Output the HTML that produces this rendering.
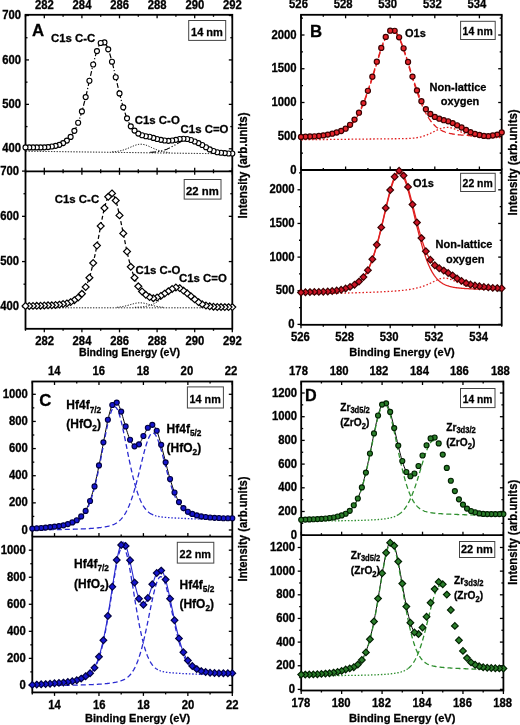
<!DOCTYPE html>
<html><head><meta charset="utf-8"><title>XPS spectra</title>
<style>
html,body{margin:0;padding:0;background:#fff;}
svg{display:block;}
text{font-family:'Liberation Sans', Arial, sans-serif;font-weight:bold;fill:#000;stroke:#000;stroke-width:0.28px;}
</style></head>
<body>
<svg width="520" height="725" viewBox="0 0 520 725">
<rect width="520" height="725" fill="#fff"/>
<rect x="25.5" y="14.8" width="206.8" height="314" fill="none" stroke="#000" stroke-width="1.8"/>
<line x1="25.5" y1="171.3" x2="232.3" y2="171.3" stroke="#000" stroke-width="1.8"/>
<line x1="44.3" y1="14.8" x2="44.3" y2="18.3" stroke="#000" stroke-width="1.3"/>
<line x1="81.9" y1="14.8" x2="81.9" y2="18.3" stroke="#000" stroke-width="1.3"/>
<line x1="119.5" y1="14.8" x2="119.5" y2="18.3" stroke="#000" stroke-width="1.3"/>
<line x1="157.1" y1="14.8" x2="157.1" y2="18.3" stroke="#000" stroke-width="1.3"/>
<line x1="194.7" y1="14.8" x2="194.7" y2="18.3" stroke="#000" stroke-width="1.3"/>
<line x1="232.3" y1="14.8" x2="232.3" y2="18.3" stroke="#000" stroke-width="1.3"/>
<line x1="25.5" y1="14.8" x2="25.5" y2="16.8" stroke="#000" stroke-width="1.3"/>
<line x1="63.1" y1="14.8" x2="63.1" y2="16.8" stroke="#000" stroke-width="1.3"/>
<line x1="100.7" y1="14.8" x2="100.7" y2="16.8" stroke="#000" stroke-width="1.3"/>
<line x1="138.3" y1="14.8" x2="138.3" y2="16.8" stroke="#000" stroke-width="1.3"/>
<line x1="175.9" y1="14.8" x2="175.9" y2="16.8" stroke="#000" stroke-width="1.3"/>
<line x1="213.5" y1="14.8" x2="213.5" y2="16.8" stroke="#000" stroke-width="1.3"/>
<line x1="44.3" y1="171.3" x2="44.3" y2="167.8" stroke="#000" stroke-width="1.3"/>
<line x1="81.9" y1="171.3" x2="81.9" y2="167.8" stroke="#000" stroke-width="1.3"/>
<line x1="119.5" y1="171.3" x2="119.5" y2="167.8" stroke="#000" stroke-width="1.3"/>
<line x1="157.1" y1="171.3" x2="157.1" y2="167.8" stroke="#000" stroke-width="1.3"/>
<line x1="194.7" y1="171.3" x2="194.7" y2="167.8" stroke="#000" stroke-width="1.3"/>
<line x1="232.3" y1="171.3" x2="232.3" y2="167.8" stroke="#000" stroke-width="1.3"/>
<line x1="25.5" y1="171.3" x2="25.5" y2="169.3" stroke="#000" stroke-width="1.3"/>
<line x1="63.1" y1="171.3" x2="63.1" y2="169.3" stroke="#000" stroke-width="1.3"/>
<line x1="100.7" y1="171.3" x2="100.7" y2="169.3" stroke="#000" stroke-width="1.3"/>
<line x1="138.3" y1="171.3" x2="138.3" y2="169.3" stroke="#000" stroke-width="1.3"/>
<line x1="175.9" y1="171.3" x2="175.9" y2="169.3" stroke="#000" stroke-width="1.3"/>
<line x1="213.5" y1="171.3" x2="213.5" y2="169.3" stroke="#000" stroke-width="1.3"/>
<line x1="44.3" y1="171.3" x2="44.3" y2="174.8" stroke="#000" stroke-width="1.3"/>
<line x1="81.9" y1="171.3" x2="81.9" y2="174.8" stroke="#000" stroke-width="1.3"/>
<line x1="119.5" y1="171.3" x2="119.5" y2="174.8" stroke="#000" stroke-width="1.3"/>
<line x1="157.1" y1="171.3" x2="157.1" y2="174.8" stroke="#000" stroke-width="1.3"/>
<line x1="194.7" y1="171.3" x2="194.7" y2="174.8" stroke="#000" stroke-width="1.3"/>
<line x1="232.3" y1="171.3" x2="232.3" y2="174.8" stroke="#000" stroke-width="1.3"/>
<line x1="25.5" y1="171.3" x2="25.5" y2="173.3" stroke="#000" stroke-width="1.3"/>
<line x1="63.1" y1="171.3" x2="63.1" y2="173.3" stroke="#000" stroke-width="1.3"/>
<line x1="100.7" y1="171.3" x2="100.7" y2="173.3" stroke="#000" stroke-width="1.3"/>
<line x1="138.3" y1="171.3" x2="138.3" y2="173.3" stroke="#000" stroke-width="1.3"/>
<line x1="175.9" y1="171.3" x2="175.9" y2="173.3" stroke="#000" stroke-width="1.3"/>
<line x1="213.5" y1="171.3" x2="213.5" y2="173.3" stroke="#000" stroke-width="1.3"/>
<line x1="44.3" y1="328.8" x2="44.3" y2="332.3" stroke="#000" stroke-width="1.3"/>
<line x1="81.9" y1="328.8" x2="81.9" y2="332.3" stroke="#000" stroke-width="1.3"/>
<line x1="119.5" y1="328.8" x2="119.5" y2="332.3" stroke="#000" stroke-width="1.3"/>
<line x1="157.1" y1="328.8" x2="157.1" y2="332.3" stroke="#000" stroke-width="1.3"/>
<line x1="194.7" y1="328.8" x2="194.7" y2="332.3" stroke="#000" stroke-width="1.3"/>
<line x1="232.3" y1="328.8" x2="232.3" y2="332.3" stroke="#000" stroke-width="1.3"/>
<line x1="25.5" y1="328.8" x2="25.5" y2="330.8" stroke="#000" stroke-width="1.3"/>
<line x1="63.1" y1="328.8" x2="63.1" y2="330.8" stroke="#000" stroke-width="1.3"/>
<line x1="100.7" y1="328.8" x2="100.7" y2="330.8" stroke="#000" stroke-width="1.3"/>
<line x1="138.3" y1="328.8" x2="138.3" y2="330.8" stroke="#000" stroke-width="1.3"/>
<line x1="175.9" y1="328.8" x2="175.9" y2="330.8" stroke="#000" stroke-width="1.3"/>
<line x1="213.5" y1="328.8" x2="213.5" y2="330.8" stroke="#000" stroke-width="1.3"/>
<line x1="25.5" y1="15.5" x2="29" y2="15.5" stroke="#000" stroke-width="1.3"/>
<line x1="25.5" y1="59.93" x2="29" y2="59.93" stroke="#000" stroke-width="1.3"/>
<line x1="25.5" y1="104.37" x2="29" y2="104.37" stroke="#000" stroke-width="1.3"/>
<line x1="25.5" y1="148.8" x2="29" y2="148.8" stroke="#000" stroke-width="1.3"/>
<line x1="25.5" y1="37.72" x2="27.5" y2="37.72" stroke="#000" stroke-width="1.3"/>
<line x1="25.5" y1="82.15" x2="27.5" y2="82.15" stroke="#000" stroke-width="1.3"/>
<line x1="25.5" y1="126.58" x2="27.5" y2="126.58" stroke="#000" stroke-width="1.3"/>
<line x1="232.3" y1="15.5" x2="228.8" y2="15.5" stroke="#000" stroke-width="1.3"/>
<line x1="232.3" y1="59.93" x2="228.8" y2="59.93" stroke="#000" stroke-width="1.3"/>
<line x1="232.3" y1="104.37" x2="228.8" y2="104.37" stroke="#000" stroke-width="1.3"/>
<line x1="232.3" y1="148.8" x2="228.8" y2="148.8" stroke="#000" stroke-width="1.3"/>
<line x1="232.3" y1="37.72" x2="230.3" y2="37.72" stroke="#000" stroke-width="1.3"/>
<line x1="232.3" y1="82.15" x2="230.3" y2="82.15" stroke="#000" stroke-width="1.3"/>
<line x1="232.3" y1="126.58" x2="230.3" y2="126.58" stroke="#000" stroke-width="1.3"/>
<text transform="translate(21,19.1) scale(1,1.06)" font-size="11.3" text-anchor="end">700</text>
<text transform="translate(21,63.53) scale(1,1.06)" font-size="11.3" text-anchor="end">600</text>
<text transform="translate(21,107.97) scale(1,1.06)" font-size="11.3" text-anchor="end">500</text>
<text transform="translate(21,152.4) scale(1,1.06)" font-size="11.3" text-anchor="end">400</text>
<line x1="25.5" y1="171.1" x2="22" y2="171.1" stroke="#000" stroke-width="1.3"/>
<line x1="25.5" y1="216.33" x2="22" y2="216.33" stroke="#000" stroke-width="1.3"/>
<line x1="25.5" y1="261.57" x2="22" y2="261.57" stroke="#000" stroke-width="1.3"/>
<line x1="25.5" y1="306.8" x2="22" y2="306.8" stroke="#000" stroke-width="1.3"/>
<line x1="25.5" y1="193.72" x2="23.5" y2="193.72" stroke="#000" stroke-width="1.3"/>
<line x1="25.5" y1="238.95" x2="23.5" y2="238.95" stroke="#000" stroke-width="1.3"/>
<line x1="25.5" y1="284.18" x2="23.5" y2="284.18" stroke="#000" stroke-width="1.3"/>
<line x1="232.3" y1="171.1" x2="228.8" y2="171.1" stroke="#000" stroke-width="1.3"/>
<line x1="232.3" y1="216.33" x2="228.8" y2="216.33" stroke="#000" stroke-width="1.3"/>
<line x1="232.3" y1="261.57" x2="228.8" y2="261.57" stroke="#000" stroke-width="1.3"/>
<line x1="232.3" y1="306.8" x2="228.8" y2="306.8" stroke="#000" stroke-width="1.3"/>
<line x1="232.3" y1="193.72" x2="230.3" y2="193.72" stroke="#000" stroke-width="1.3"/>
<line x1="232.3" y1="238.95" x2="230.3" y2="238.95" stroke="#000" stroke-width="1.3"/>
<line x1="232.3" y1="284.18" x2="230.3" y2="284.18" stroke="#000" stroke-width="1.3"/>
<text transform="translate(19,174.7) scale(1,1.06)" font-size="11.3" text-anchor="end">700</text>
<text transform="translate(19,219.93) scale(1,1.06)" font-size="11.3" text-anchor="end">600</text>
<text transform="translate(19,265.17) scale(1,1.06)" font-size="11.3" text-anchor="end">500</text>
<text transform="translate(19,310.4) scale(1,1.06)" font-size="11.3" text-anchor="end">400</text>
<text transform="translate(44.4,8.7) scale(1,1.06)" font-size="11.3" text-anchor="middle">282</text>
<text transform="translate(82,8.7) scale(1,1.06)" font-size="11.3" text-anchor="middle">284</text>
<text transform="translate(119.6,8.7) scale(1,1.06)" font-size="11.3" text-anchor="middle">286</text>
<text transform="translate(157.2,8.7) scale(1,1.06)" font-size="11.3" text-anchor="middle">288</text>
<text transform="translate(194.8,8.7) scale(1,1.06)" font-size="11.3" text-anchor="middle">290</text>
<text transform="translate(232.3,8.7) scale(1,1.06)" font-size="11.3" text-anchor="middle">292</text>
<text transform="translate(44.6,345.2) scale(1,1.06)" font-size="11.3" text-anchor="middle">282</text>
<text transform="translate(82,345.2) scale(1,1.06)" font-size="11.3" text-anchor="middle">284</text>
<text transform="translate(119.6,345.2) scale(1,1.06)" font-size="11.3" text-anchor="middle">286</text>
<text transform="translate(157.2,345.2) scale(1,1.06)" font-size="11.3" text-anchor="middle">288</text>
<text transform="translate(194.8,345.2) scale(1,1.06)" font-size="11.3" text-anchor="middle">290</text>
<text transform="translate(232.3,345.2) scale(1,1.06)" font-size="11.3" text-anchor="middle">292</text>
<text transform="translate(79,356.3) scale(1,1.06)" font-size="10.6" text-anchor="start" textLength="101" lengthAdjust="spacingAndGlyphs">Binding Energy (eV)</text>
<text transform="translate(247.2,165.5) rotate(-90) scale(1,1.06)" font-size="11.4" text-anchor="middle" textLength="106" lengthAdjust="spacingAndGlyphs">Intensity (arb.units)</text>
<rect x="301" y="14.8" width="200.7" height="310" fill="none" stroke="#000" stroke-width="1.8"/>
<line x1="301" y1="170" x2="501.7" y2="170" stroke="#000" stroke-width="1.8"/>
<line x1="301" y1="14.8" x2="301" y2="18.3" stroke="#000" stroke-width="1.3"/>
<line x1="345.6" y1="14.8" x2="345.6" y2="18.3" stroke="#000" stroke-width="1.3"/>
<line x1="390.2" y1="14.8" x2="390.2" y2="18.3" stroke="#000" stroke-width="1.3"/>
<line x1="434.8" y1="14.8" x2="434.8" y2="18.3" stroke="#000" stroke-width="1.3"/>
<line x1="479.4" y1="14.8" x2="479.4" y2="18.3" stroke="#000" stroke-width="1.3"/>
<line x1="323.3" y1="14.8" x2="323.3" y2="16.8" stroke="#000" stroke-width="1.3"/>
<line x1="367.9" y1="14.8" x2="367.9" y2="16.8" stroke="#000" stroke-width="1.3"/>
<line x1="412.5" y1="14.8" x2="412.5" y2="16.8" stroke="#000" stroke-width="1.3"/>
<line x1="457.1" y1="14.8" x2="457.1" y2="16.8" stroke="#000" stroke-width="1.3"/>
<line x1="501.7" y1="14.8" x2="501.7" y2="16.8" stroke="#000" stroke-width="1.3"/>
<line x1="301" y1="170" x2="301" y2="166.5" stroke="#000" stroke-width="1.3"/>
<line x1="345.6" y1="170" x2="345.6" y2="166.5" stroke="#000" stroke-width="1.3"/>
<line x1="390.2" y1="170" x2="390.2" y2="166.5" stroke="#000" stroke-width="1.3"/>
<line x1="434.8" y1="170" x2="434.8" y2="166.5" stroke="#000" stroke-width="1.3"/>
<line x1="479.4" y1="170" x2="479.4" y2="166.5" stroke="#000" stroke-width="1.3"/>
<line x1="323.3" y1="170" x2="323.3" y2="168" stroke="#000" stroke-width="1.3"/>
<line x1="367.9" y1="170" x2="367.9" y2="168" stroke="#000" stroke-width="1.3"/>
<line x1="412.5" y1="170" x2="412.5" y2="168" stroke="#000" stroke-width="1.3"/>
<line x1="457.1" y1="170" x2="457.1" y2="168" stroke="#000" stroke-width="1.3"/>
<line x1="501.7" y1="170" x2="501.7" y2="168" stroke="#000" stroke-width="1.3"/>
<line x1="301" y1="324.8" x2="301" y2="328.3" stroke="#000" stroke-width="1.3"/>
<line x1="345.6" y1="324.8" x2="345.6" y2="328.3" stroke="#000" stroke-width="1.3"/>
<line x1="390.2" y1="324.8" x2="390.2" y2="328.3" stroke="#000" stroke-width="1.3"/>
<line x1="434.8" y1="324.8" x2="434.8" y2="328.3" stroke="#000" stroke-width="1.3"/>
<line x1="479.4" y1="324.8" x2="479.4" y2="328.3" stroke="#000" stroke-width="1.3"/>
<line x1="323.3" y1="324.8" x2="323.3" y2="326.8" stroke="#000" stroke-width="1.3"/>
<line x1="367.9" y1="324.8" x2="367.9" y2="326.8" stroke="#000" stroke-width="1.3"/>
<line x1="412.5" y1="324.8" x2="412.5" y2="326.8" stroke="#000" stroke-width="1.3"/>
<line x1="457.1" y1="324.8" x2="457.1" y2="326.8" stroke="#000" stroke-width="1.3"/>
<line x1="501.7" y1="324.8" x2="501.7" y2="326.8" stroke="#000" stroke-width="1.3"/>
<line x1="301" y1="170" x2="304.5" y2="170" stroke="#000" stroke-width="1.3"/>
<line x1="301" y1="136.25" x2="304.5" y2="136.25" stroke="#000" stroke-width="1.3"/>
<line x1="301" y1="102.5" x2="304.5" y2="102.5" stroke="#000" stroke-width="1.3"/>
<line x1="301" y1="68.75" x2="304.5" y2="68.75" stroke="#000" stroke-width="1.3"/>
<line x1="301" y1="35" x2="304.5" y2="35" stroke="#000" stroke-width="1.3"/>
<line x1="301" y1="153.12" x2="303" y2="153.12" stroke="#000" stroke-width="1.3"/>
<line x1="301" y1="119.38" x2="303" y2="119.38" stroke="#000" stroke-width="1.3"/>
<line x1="301" y1="85.62" x2="303" y2="85.62" stroke="#000" stroke-width="1.3"/>
<line x1="301" y1="51.88" x2="303" y2="51.88" stroke="#000" stroke-width="1.3"/>
<line x1="301" y1="18.12" x2="303" y2="18.12" stroke="#000" stroke-width="1.3"/>
<line x1="501.7" y1="170" x2="498.2" y2="170" stroke="#000" stroke-width="1.3"/>
<line x1="501.7" y1="136.25" x2="498.2" y2="136.25" stroke="#000" stroke-width="1.3"/>
<line x1="501.7" y1="102.5" x2="498.2" y2="102.5" stroke="#000" stroke-width="1.3"/>
<line x1="501.7" y1="68.75" x2="498.2" y2="68.75" stroke="#000" stroke-width="1.3"/>
<line x1="501.7" y1="35" x2="498.2" y2="35" stroke="#000" stroke-width="1.3"/>
<line x1="501.7" y1="153.12" x2="499.7" y2="153.12" stroke="#000" stroke-width="1.3"/>
<line x1="501.7" y1="119.38" x2="499.7" y2="119.38" stroke="#000" stroke-width="1.3"/>
<line x1="501.7" y1="85.62" x2="499.7" y2="85.62" stroke="#000" stroke-width="1.3"/>
<line x1="501.7" y1="51.88" x2="499.7" y2="51.88" stroke="#000" stroke-width="1.3"/>
<line x1="501.7" y1="18.12" x2="499.7" y2="18.12" stroke="#000" stroke-width="1.3"/>
<text transform="translate(296.6,139.85) scale(1,1.06)" font-size="11.3" text-anchor="end">500</text>
<text transform="translate(296.6,106.1) scale(1,1.06)" font-size="11.3" text-anchor="end">1000</text>
<text transform="translate(296.6,72.35) scale(1,1.06)" font-size="11.3" text-anchor="end">1500</text>
<text transform="translate(296.6,38.6) scale(1,1.06)" font-size="11.3" text-anchor="end">2000</text>
<line x1="301" y1="324.4" x2="297.5" y2="324.4" stroke="#000" stroke-width="1.3"/>
<line x1="301" y1="290.75" x2="297.5" y2="290.75" stroke="#000" stroke-width="1.3"/>
<line x1="301" y1="257.1" x2="297.5" y2="257.1" stroke="#000" stroke-width="1.3"/>
<line x1="301" y1="223.45" x2="297.5" y2="223.45" stroke="#000" stroke-width="1.3"/>
<line x1="301" y1="189.8" x2="297.5" y2="189.8" stroke="#000" stroke-width="1.3"/>
<line x1="301" y1="307.57" x2="299" y2="307.57" stroke="#000" stroke-width="1.3"/>
<line x1="301" y1="273.93" x2="299" y2="273.93" stroke="#000" stroke-width="1.3"/>
<line x1="301" y1="240.27" x2="299" y2="240.27" stroke="#000" stroke-width="1.3"/>
<line x1="301" y1="206.62" x2="299" y2="206.62" stroke="#000" stroke-width="1.3"/>
<line x1="301" y1="172.97" x2="299" y2="172.97" stroke="#000" stroke-width="1.3"/>
<line x1="501.7" y1="324.4" x2="498.2" y2="324.4" stroke="#000" stroke-width="1.3"/>
<line x1="501.7" y1="290.75" x2="498.2" y2="290.75" stroke="#000" stroke-width="1.3"/>
<line x1="501.7" y1="257.1" x2="498.2" y2="257.1" stroke="#000" stroke-width="1.3"/>
<line x1="501.7" y1="223.45" x2="498.2" y2="223.45" stroke="#000" stroke-width="1.3"/>
<line x1="501.7" y1="189.8" x2="498.2" y2="189.8" stroke="#000" stroke-width="1.3"/>
<line x1="501.7" y1="307.57" x2="499.7" y2="307.57" stroke="#000" stroke-width="1.3"/>
<line x1="501.7" y1="273.93" x2="499.7" y2="273.93" stroke="#000" stroke-width="1.3"/>
<line x1="501.7" y1="240.27" x2="499.7" y2="240.27" stroke="#000" stroke-width="1.3"/>
<line x1="501.7" y1="206.62" x2="499.7" y2="206.62" stroke="#000" stroke-width="1.3"/>
<line x1="501.7" y1="172.97" x2="499.7" y2="172.97" stroke="#000" stroke-width="1.3"/>
<text transform="translate(294.6,328) scale(1,1.06)" font-size="11.3" text-anchor="end">0</text>
<text transform="translate(294.6,294.35) scale(1,1.06)" font-size="11.3" text-anchor="end">500</text>
<text transform="translate(294.6,260.7) scale(1,1.06)" font-size="11.3" text-anchor="end">1000</text>
<text transform="translate(294.6,227.05) scale(1,1.06)" font-size="11.3" text-anchor="end">1500</text>
<text transform="translate(294.6,193.4) scale(1,1.06)" font-size="11.3" text-anchor="end">2000</text>
<text transform="translate(298.5,8.4) scale(1,1.06)" font-size="11.3" text-anchor="middle">526</text>
<text transform="translate(343.1,8.4) scale(1,1.06)" font-size="11.3" text-anchor="middle">528</text>
<text transform="translate(387.7,8.4) scale(1,1.06)" font-size="11.3" text-anchor="middle">530</text>
<text transform="translate(432.3,8.4) scale(1,1.06)" font-size="11.3" text-anchor="middle">532</text>
<text transform="translate(476.9,8.4) scale(1,1.06)" font-size="11.3" text-anchor="middle">534</text>
<text transform="translate(300.3,340.9) scale(1,1.06)" font-size="11.3" text-anchor="middle">526</text>
<text transform="translate(344.6,340.9) scale(1,1.06)" font-size="11.3" text-anchor="middle">528</text>
<text transform="translate(389.2,340.9) scale(1,1.06)" font-size="11.3" text-anchor="middle">530</text>
<text transform="translate(433.8,340.9) scale(1,1.06)" font-size="11.3" text-anchor="middle">532</text>
<text transform="translate(478.6,340.9) scale(1,1.06)" font-size="11.3" text-anchor="middle">534</text>
<text transform="translate(349.2,355.6) scale(1,1.06)" font-size="11" text-anchor="start" textLength="105.5" lengthAdjust="spacingAndGlyphs">Binding Energy (eV)</text>
<text transform="translate(516.6,162.4) rotate(-90) scale(1,1.06)" font-size="11.4" text-anchor="middle" textLength="106" lengthAdjust="spacingAndGlyphs">Intensity (arb.units)</text>
<text transform="translate(296.6,173.6) scale(1,1.06)" font-size="11.3" text-anchor="end">0</text>
<rect x="32.3" y="381.5" width="200" height="310.9" fill="none" stroke="#000" stroke-width="1.8"/>
<line x1="32.3" y1="536.6" x2="232.3" y2="536.6" stroke="#000" stroke-width="1.8"/>
<line x1="54.52" y1="381.5" x2="54.52" y2="385" stroke="#000" stroke-width="1.3"/>
<line x1="98.97" y1="381.5" x2="98.97" y2="385" stroke="#000" stroke-width="1.3"/>
<line x1="143.41" y1="381.5" x2="143.41" y2="385" stroke="#000" stroke-width="1.3"/>
<line x1="187.86" y1="381.5" x2="187.86" y2="385" stroke="#000" stroke-width="1.3"/>
<line x1="232.3" y1="381.5" x2="232.3" y2="385" stroke="#000" stroke-width="1.3"/>
<line x1="32.3" y1="381.5" x2="32.3" y2="383.5" stroke="#000" stroke-width="1.3"/>
<line x1="76.74" y1="381.5" x2="76.74" y2="383.5" stroke="#000" stroke-width="1.3"/>
<line x1="121.19" y1="381.5" x2="121.19" y2="383.5" stroke="#000" stroke-width="1.3"/>
<line x1="165.63" y1="381.5" x2="165.63" y2="383.5" stroke="#000" stroke-width="1.3"/>
<line x1="210.08" y1="381.5" x2="210.08" y2="383.5" stroke="#000" stroke-width="1.3"/>
<line x1="54.52" y1="536.6" x2="54.52" y2="533.1" stroke="#000" stroke-width="1.3"/>
<line x1="98.97" y1="536.6" x2="98.97" y2="533.1" stroke="#000" stroke-width="1.3"/>
<line x1="143.41" y1="536.6" x2="143.41" y2="533.1" stroke="#000" stroke-width="1.3"/>
<line x1="187.86" y1="536.6" x2="187.86" y2="533.1" stroke="#000" stroke-width="1.3"/>
<line x1="232.3" y1="536.6" x2="232.3" y2="533.1" stroke="#000" stroke-width="1.3"/>
<line x1="32.3" y1="536.6" x2="32.3" y2="534.6" stroke="#000" stroke-width="1.3"/>
<line x1="76.74" y1="536.6" x2="76.74" y2="534.6" stroke="#000" stroke-width="1.3"/>
<line x1="121.19" y1="536.6" x2="121.19" y2="534.6" stroke="#000" stroke-width="1.3"/>
<line x1="165.63" y1="536.6" x2="165.63" y2="534.6" stroke="#000" stroke-width="1.3"/>
<line x1="210.08" y1="536.6" x2="210.08" y2="534.6" stroke="#000" stroke-width="1.3"/>
<line x1="54.52" y1="692.4" x2="54.52" y2="695.9" stroke="#000" stroke-width="1.3"/>
<line x1="98.97" y1="692.4" x2="98.97" y2="695.9" stroke="#000" stroke-width="1.3"/>
<line x1="143.41" y1="692.4" x2="143.41" y2="695.9" stroke="#000" stroke-width="1.3"/>
<line x1="187.86" y1="692.4" x2="187.86" y2="695.9" stroke="#000" stroke-width="1.3"/>
<line x1="232.3" y1="692.4" x2="232.3" y2="695.9" stroke="#000" stroke-width="1.3"/>
<line x1="32.3" y1="692.4" x2="32.3" y2="694.4" stroke="#000" stroke-width="1.3"/>
<line x1="76.74" y1="692.4" x2="76.74" y2="694.4" stroke="#000" stroke-width="1.3"/>
<line x1="121.19" y1="692.4" x2="121.19" y2="694.4" stroke="#000" stroke-width="1.3"/>
<line x1="165.63" y1="692.4" x2="165.63" y2="694.4" stroke="#000" stroke-width="1.3"/>
<line x1="210.08" y1="692.4" x2="210.08" y2="694.4" stroke="#000" stroke-width="1.3"/>
<line x1="32.3" y1="530" x2="35.8" y2="530" stroke="#000" stroke-width="1.3"/>
<line x1="32.3" y1="502.86" x2="35.8" y2="502.86" stroke="#000" stroke-width="1.3"/>
<line x1="32.3" y1="475.72" x2="35.8" y2="475.72" stroke="#000" stroke-width="1.3"/>
<line x1="32.3" y1="448.58" x2="35.8" y2="448.58" stroke="#000" stroke-width="1.3"/>
<line x1="32.3" y1="421.44" x2="35.8" y2="421.44" stroke="#000" stroke-width="1.3"/>
<line x1="32.3" y1="394.3" x2="35.8" y2="394.3" stroke="#000" stroke-width="1.3"/>
<line x1="32.3" y1="516.43" x2="34.3" y2="516.43" stroke="#000" stroke-width="1.3"/>
<line x1="32.3" y1="489.29" x2="34.3" y2="489.29" stroke="#000" stroke-width="1.3"/>
<line x1="32.3" y1="462.15" x2="34.3" y2="462.15" stroke="#000" stroke-width="1.3"/>
<line x1="32.3" y1="435.01" x2="34.3" y2="435.01" stroke="#000" stroke-width="1.3"/>
<line x1="32.3" y1="407.87" x2="34.3" y2="407.87" stroke="#000" stroke-width="1.3"/>
<line x1="232.3" y1="530" x2="228.8" y2="530" stroke="#000" stroke-width="1.3"/>
<line x1="232.3" y1="502.86" x2="228.8" y2="502.86" stroke="#000" stroke-width="1.3"/>
<line x1="232.3" y1="475.72" x2="228.8" y2="475.72" stroke="#000" stroke-width="1.3"/>
<line x1="232.3" y1="448.58" x2="228.8" y2="448.58" stroke="#000" stroke-width="1.3"/>
<line x1="232.3" y1="421.44" x2="228.8" y2="421.44" stroke="#000" stroke-width="1.3"/>
<line x1="232.3" y1="394.3" x2="228.8" y2="394.3" stroke="#000" stroke-width="1.3"/>
<line x1="232.3" y1="516.43" x2="230.3" y2="516.43" stroke="#000" stroke-width="1.3"/>
<line x1="232.3" y1="489.29" x2="230.3" y2="489.29" stroke="#000" stroke-width="1.3"/>
<line x1="232.3" y1="462.15" x2="230.3" y2="462.15" stroke="#000" stroke-width="1.3"/>
<line x1="232.3" y1="435.01" x2="230.3" y2="435.01" stroke="#000" stroke-width="1.3"/>
<line x1="232.3" y1="407.87" x2="230.3" y2="407.87" stroke="#000" stroke-width="1.3"/>
<text transform="translate(27.8,533.6) scale(1,1.06)" font-size="11.3" text-anchor="end">0</text>
<text transform="translate(27.8,506.46) scale(1,1.06)" font-size="11.3" text-anchor="end">200</text>
<text transform="translate(27.8,479.32) scale(1,1.06)" font-size="11.3" text-anchor="end">400</text>
<text transform="translate(27.8,452.18) scale(1,1.06)" font-size="11.3" text-anchor="end">600</text>
<text transform="translate(27.8,425.04) scale(1,1.06)" font-size="11.3" text-anchor="end">800</text>
<text transform="translate(27.8,397.9) scale(1,1.06)" font-size="11.3" text-anchor="end">1000</text>
<line x1="32.3" y1="685.4" x2="28.8" y2="685.4" stroke="#000" stroke-width="1.3"/>
<line x1="32.3" y1="658.36" x2="28.8" y2="658.36" stroke="#000" stroke-width="1.3"/>
<line x1="32.3" y1="631.32" x2="28.8" y2="631.32" stroke="#000" stroke-width="1.3"/>
<line x1="32.3" y1="604.28" x2="28.8" y2="604.28" stroke="#000" stroke-width="1.3"/>
<line x1="32.3" y1="577.24" x2="28.8" y2="577.24" stroke="#000" stroke-width="1.3"/>
<line x1="32.3" y1="550.2" x2="28.8" y2="550.2" stroke="#000" stroke-width="1.3"/>
<line x1="32.3" y1="671.88" x2="30.3" y2="671.88" stroke="#000" stroke-width="1.3"/>
<line x1="32.3" y1="644.84" x2="30.3" y2="644.84" stroke="#000" stroke-width="1.3"/>
<line x1="32.3" y1="617.8" x2="30.3" y2="617.8" stroke="#000" stroke-width="1.3"/>
<line x1="32.3" y1="590.76" x2="30.3" y2="590.76" stroke="#000" stroke-width="1.3"/>
<line x1="32.3" y1="563.72" x2="30.3" y2="563.72" stroke="#000" stroke-width="1.3"/>
<line x1="232.3" y1="685.4" x2="228.8" y2="685.4" stroke="#000" stroke-width="1.3"/>
<line x1="232.3" y1="658.36" x2="228.8" y2="658.36" stroke="#000" stroke-width="1.3"/>
<line x1="232.3" y1="631.32" x2="228.8" y2="631.32" stroke="#000" stroke-width="1.3"/>
<line x1="232.3" y1="604.28" x2="228.8" y2="604.28" stroke="#000" stroke-width="1.3"/>
<line x1="232.3" y1="577.24" x2="228.8" y2="577.24" stroke="#000" stroke-width="1.3"/>
<line x1="232.3" y1="550.2" x2="228.8" y2="550.2" stroke="#000" stroke-width="1.3"/>
<line x1="232.3" y1="671.88" x2="230.3" y2="671.88" stroke="#000" stroke-width="1.3"/>
<line x1="232.3" y1="644.84" x2="230.3" y2="644.84" stroke="#000" stroke-width="1.3"/>
<line x1="232.3" y1="617.8" x2="230.3" y2="617.8" stroke="#000" stroke-width="1.3"/>
<line x1="232.3" y1="590.76" x2="230.3" y2="590.76" stroke="#000" stroke-width="1.3"/>
<line x1="232.3" y1="563.72" x2="230.3" y2="563.72" stroke="#000" stroke-width="1.3"/>
<text transform="translate(25.8,689) scale(1,1.06)" font-size="11.3" text-anchor="end">0</text>
<text transform="translate(25.8,661.96) scale(1,1.06)" font-size="11.3" text-anchor="end">200</text>
<text transform="translate(25.8,634.92) scale(1,1.06)" font-size="11.3" text-anchor="end">400</text>
<text transform="translate(25.8,607.88) scale(1,1.06)" font-size="11.3" text-anchor="end">600</text>
<text transform="translate(25.8,580.84) scale(1,1.06)" font-size="11.3" text-anchor="end">800</text>
<text transform="translate(25.8,553.8) scale(1,1.06)" font-size="11.3" text-anchor="end">1000</text>
<text transform="translate(54.2,375.3) scale(1,1.06)" font-size="11.3" text-anchor="middle">14</text>
<text transform="translate(98.7,375.3) scale(1,1.06)" font-size="11.3" text-anchor="middle">16</text>
<text transform="translate(143.1,375.3) scale(1,1.06)" font-size="11.3" text-anchor="middle">18</text>
<text transform="translate(186.9,375.3) scale(1,1.06)" font-size="11.3" text-anchor="middle">20</text>
<text transform="translate(231.1,375.3) scale(1,1.06)" font-size="11.3" text-anchor="middle">22</text>
<text transform="translate(54.5,708.6) scale(1,1.06)" font-size="11.3" text-anchor="middle">14</text>
<text transform="translate(99.3,708.6) scale(1,1.06)" font-size="11.3" text-anchor="middle">16</text>
<text transform="translate(143.6,708.6) scale(1,1.06)" font-size="11.3" text-anchor="middle">18</text>
<text transform="translate(188,708.6) scale(1,1.06)" font-size="11.3" text-anchor="middle">20</text>
<text transform="translate(232.3,708.6) scale(1,1.06)" font-size="11.3" text-anchor="middle">22</text>
<text transform="translate(85,722.2) scale(1,1.06)" font-size="11" text-anchor="start" textLength="105.3" lengthAdjust="spacingAndGlyphs">Binding Energy (eV)</text>
<text transform="translate(246.9,529) rotate(-90) scale(1,1.06)" font-size="11.4" text-anchor="middle" textLength="105" lengthAdjust="spacingAndGlyphs">Intensity (arb.units)</text>
<rect x="301.2" y="381.5" width="202.2" height="309" fill="none" stroke="#000" stroke-width="1.8"/>
<line x1="301.2" y1="535.2" x2="503.4" y2="535.2" stroke="#000" stroke-width="1.8"/>
<line x1="301.2" y1="381.5" x2="301.2" y2="385" stroke="#000" stroke-width="1.3"/>
<line x1="341.64" y1="381.5" x2="341.64" y2="385" stroke="#000" stroke-width="1.3"/>
<line x1="382.08" y1="381.5" x2="382.08" y2="385" stroke="#000" stroke-width="1.3"/>
<line x1="422.52" y1="381.5" x2="422.52" y2="385" stroke="#000" stroke-width="1.3"/>
<line x1="462.96" y1="381.5" x2="462.96" y2="385" stroke="#000" stroke-width="1.3"/>
<line x1="503.4" y1="381.5" x2="503.4" y2="385" stroke="#000" stroke-width="1.3"/>
<line x1="321.42" y1="381.5" x2="321.42" y2="383.5" stroke="#000" stroke-width="1.3"/>
<line x1="361.86" y1="381.5" x2="361.86" y2="383.5" stroke="#000" stroke-width="1.3"/>
<line x1="402.3" y1="381.5" x2="402.3" y2="383.5" stroke="#000" stroke-width="1.3"/>
<line x1="442.74" y1="381.5" x2="442.74" y2="383.5" stroke="#000" stroke-width="1.3"/>
<line x1="483.18" y1="381.5" x2="483.18" y2="383.5" stroke="#000" stroke-width="1.3"/>
<line x1="301.2" y1="535.2" x2="301.2" y2="531.7" stroke="#000" stroke-width="1.3"/>
<line x1="341.64" y1="535.2" x2="341.64" y2="531.7" stroke="#000" stroke-width="1.3"/>
<line x1="382.08" y1="535.2" x2="382.08" y2="531.7" stroke="#000" stroke-width="1.3"/>
<line x1="422.52" y1="535.2" x2="422.52" y2="531.7" stroke="#000" stroke-width="1.3"/>
<line x1="462.96" y1="535.2" x2="462.96" y2="531.7" stroke="#000" stroke-width="1.3"/>
<line x1="503.4" y1="535.2" x2="503.4" y2="531.7" stroke="#000" stroke-width="1.3"/>
<line x1="321.42" y1="535.2" x2="321.42" y2="533.2" stroke="#000" stroke-width="1.3"/>
<line x1="361.86" y1="535.2" x2="361.86" y2="533.2" stroke="#000" stroke-width="1.3"/>
<line x1="402.3" y1="535.2" x2="402.3" y2="533.2" stroke="#000" stroke-width="1.3"/>
<line x1="442.74" y1="535.2" x2="442.74" y2="533.2" stroke="#000" stroke-width="1.3"/>
<line x1="483.18" y1="535.2" x2="483.18" y2="533.2" stroke="#000" stroke-width="1.3"/>
<line x1="301.2" y1="690.5" x2="301.2" y2="694" stroke="#000" stroke-width="1.3"/>
<line x1="341.64" y1="690.5" x2="341.64" y2="694" stroke="#000" stroke-width="1.3"/>
<line x1="382.08" y1="690.5" x2="382.08" y2="694" stroke="#000" stroke-width="1.3"/>
<line x1="422.52" y1="690.5" x2="422.52" y2="694" stroke="#000" stroke-width="1.3"/>
<line x1="462.96" y1="690.5" x2="462.96" y2="694" stroke="#000" stroke-width="1.3"/>
<line x1="503.4" y1="690.5" x2="503.4" y2="694" stroke="#000" stroke-width="1.3"/>
<line x1="321.42" y1="690.5" x2="321.42" y2="692.5" stroke="#000" stroke-width="1.3"/>
<line x1="361.86" y1="690.5" x2="361.86" y2="692.5" stroke="#000" stroke-width="1.3"/>
<line x1="402.3" y1="690.5" x2="402.3" y2="692.5" stroke="#000" stroke-width="1.3"/>
<line x1="442.74" y1="690.5" x2="442.74" y2="692.5" stroke="#000" stroke-width="1.3"/>
<line x1="483.18" y1="690.5" x2="483.18" y2="692.5" stroke="#000" stroke-width="1.3"/>
<line x1="301.2" y1="535.2" x2="304.7" y2="535.2" stroke="#000" stroke-width="1.3"/>
<line x1="301.2" y1="511.5" x2="304.7" y2="511.5" stroke="#000" stroke-width="1.3"/>
<line x1="301.2" y1="487.8" x2="304.7" y2="487.8" stroke="#000" stroke-width="1.3"/>
<line x1="301.2" y1="464.1" x2="304.7" y2="464.1" stroke="#000" stroke-width="1.3"/>
<line x1="301.2" y1="440.4" x2="304.7" y2="440.4" stroke="#000" stroke-width="1.3"/>
<line x1="301.2" y1="416.7" x2="304.7" y2="416.7" stroke="#000" stroke-width="1.3"/>
<line x1="301.2" y1="393" x2="304.7" y2="393" stroke="#000" stroke-width="1.3"/>
<line x1="301.2" y1="523.35" x2="303.2" y2="523.35" stroke="#000" stroke-width="1.3"/>
<line x1="301.2" y1="499.65" x2="303.2" y2="499.65" stroke="#000" stroke-width="1.3"/>
<line x1="301.2" y1="475.95" x2="303.2" y2="475.95" stroke="#000" stroke-width="1.3"/>
<line x1="301.2" y1="452.25" x2="303.2" y2="452.25" stroke="#000" stroke-width="1.3"/>
<line x1="301.2" y1="428.55" x2="303.2" y2="428.55" stroke="#000" stroke-width="1.3"/>
<line x1="301.2" y1="404.85" x2="303.2" y2="404.85" stroke="#000" stroke-width="1.3"/>
<line x1="503.4" y1="535.2" x2="499.9" y2="535.2" stroke="#000" stroke-width="1.3"/>
<line x1="503.4" y1="511.5" x2="499.9" y2="511.5" stroke="#000" stroke-width="1.3"/>
<line x1="503.4" y1="487.8" x2="499.9" y2="487.8" stroke="#000" stroke-width="1.3"/>
<line x1="503.4" y1="464.1" x2="499.9" y2="464.1" stroke="#000" stroke-width="1.3"/>
<line x1="503.4" y1="440.4" x2="499.9" y2="440.4" stroke="#000" stroke-width="1.3"/>
<line x1="503.4" y1="416.7" x2="499.9" y2="416.7" stroke="#000" stroke-width="1.3"/>
<line x1="503.4" y1="393" x2="499.9" y2="393" stroke="#000" stroke-width="1.3"/>
<line x1="503.4" y1="523.35" x2="501.4" y2="523.35" stroke="#000" stroke-width="1.3"/>
<line x1="503.4" y1="499.65" x2="501.4" y2="499.65" stroke="#000" stroke-width="1.3"/>
<line x1="503.4" y1="475.95" x2="501.4" y2="475.95" stroke="#000" stroke-width="1.3"/>
<line x1="503.4" y1="452.25" x2="501.4" y2="452.25" stroke="#000" stroke-width="1.3"/>
<line x1="503.4" y1="428.55" x2="501.4" y2="428.55" stroke="#000" stroke-width="1.3"/>
<line x1="503.4" y1="404.85" x2="501.4" y2="404.85" stroke="#000" stroke-width="1.3"/>
<text transform="translate(297,515.1) scale(1,1.06)" font-size="11.3" text-anchor="end">200</text>
<text transform="translate(297,491.4) scale(1,1.06)" font-size="11.3" text-anchor="end">400</text>
<text transform="translate(297,467.7) scale(1,1.06)" font-size="11.3" text-anchor="end">600</text>
<text transform="translate(297,444) scale(1,1.06)" font-size="11.3" text-anchor="end">800</text>
<text transform="translate(297,420.3) scale(1,1.06)" font-size="11.3" text-anchor="end">1000</text>
<text transform="translate(297,396.6) scale(1,1.06)" font-size="11.3" text-anchor="end">1200</text>
<line x1="301.2" y1="689.4" x2="297.7" y2="689.4" stroke="#000" stroke-width="1.3"/>
<line x1="301.2" y1="665.75" x2="297.7" y2="665.75" stroke="#000" stroke-width="1.3"/>
<line x1="301.2" y1="642.1" x2="297.7" y2="642.1" stroke="#000" stroke-width="1.3"/>
<line x1="301.2" y1="618.45" x2="297.7" y2="618.45" stroke="#000" stroke-width="1.3"/>
<line x1="301.2" y1="594.8" x2="297.7" y2="594.8" stroke="#000" stroke-width="1.3"/>
<line x1="301.2" y1="571.15" x2="297.7" y2="571.15" stroke="#000" stroke-width="1.3"/>
<line x1="301.2" y1="547.5" x2="297.7" y2="547.5" stroke="#000" stroke-width="1.3"/>
<line x1="301.2" y1="677.57" x2="299.2" y2="677.57" stroke="#000" stroke-width="1.3"/>
<line x1="301.2" y1="653.92" x2="299.2" y2="653.92" stroke="#000" stroke-width="1.3"/>
<line x1="301.2" y1="630.27" x2="299.2" y2="630.27" stroke="#000" stroke-width="1.3"/>
<line x1="301.2" y1="606.62" x2="299.2" y2="606.62" stroke="#000" stroke-width="1.3"/>
<line x1="301.2" y1="582.98" x2="299.2" y2="582.98" stroke="#000" stroke-width="1.3"/>
<line x1="301.2" y1="559.33" x2="299.2" y2="559.33" stroke="#000" stroke-width="1.3"/>
<line x1="503.4" y1="689.4" x2="499.9" y2="689.4" stroke="#000" stroke-width="1.3"/>
<line x1="503.4" y1="665.75" x2="499.9" y2="665.75" stroke="#000" stroke-width="1.3"/>
<line x1="503.4" y1="642.1" x2="499.9" y2="642.1" stroke="#000" stroke-width="1.3"/>
<line x1="503.4" y1="618.45" x2="499.9" y2="618.45" stroke="#000" stroke-width="1.3"/>
<line x1="503.4" y1="594.8" x2="499.9" y2="594.8" stroke="#000" stroke-width="1.3"/>
<line x1="503.4" y1="571.15" x2="499.9" y2="571.15" stroke="#000" stroke-width="1.3"/>
<line x1="503.4" y1="547.5" x2="499.9" y2="547.5" stroke="#000" stroke-width="1.3"/>
<line x1="503.4" y1="677.57" x2="501.4" y2="677.57" stroke="#000" stroke-width="1.3"/>
<line x1="503.4" y1="653.92" x2="501.4" y2="653.92" stroke="#000" stroke-width="1.3"/>
<line x1="503.4" y1="630.27" x2="501.4" y2="630.27" stroke="#000" stroke-width="1.3"/>
<line x1="503.4" y1="606.62" x2="501.4" y2="606.62" stroke="#000" stroke-width="1.3"/>
<line x1="503.4" y1="582.98" x2="501.4" y2="582.98" stroke="#000" stroke-width="1.3"/>
<line x1="503.4" y1="559.33" x2="501.4" y2="559.33" stroke="#000" stroke-width="1.3"/>
<text transform="translate(295,693) scale(1,1.06)" font-size="11.3" text-anchor="end">0</text>
<text transform="translate(295,669.35) scale(1,1.06)" font-size="11.3" text-anchor="end">200</text>
<text transform="translate(295,645.7) scale(1,1.06)" font-size="11.3" text-anchor="end">400</text>
<text transform="translate(295,622.05) scale(1,1.06)" font-size="11.3" text-anchor="end">600</text>
<text transform="translate(295,598.4) scale(1,1.06)" font-size="11.3" text-anchor="end">800</text>
<text transform="translate(295,574.75) scale(1,1.06)" font-size="11.3" text-anchor="end">1000</text>
<text transform="translate(295,551.1) scale(1,1.06)" font-size="11.3" text-anchor="end">1200</text>
<text transform="translate(298.5,374.6) scale(1,1.06)" font-size="11.3" text-anchor="middle">178</text>
<text transform="translate(339.1,374.6) scale(1,1.06)" font-size="11.3" text-anchor="middle">180</text>
<text transform="translate(378.9,374.6) scale(1,1.06)" font-size="11.3" text-anchor="middle">182</text>
<text transform="translate(419.5,374.6) scale(1,1.06)" font-size="11.3" text-anchor="middle">184</text>
<text transform="translate(459.3,374.6) scale(1,1.06)" font-size="11.3" text-anchor="middle">186</text>
<text transform="translate(500.4,374.6) scale(1,1.06)" font-size="11.3" text-anchor="middle">188</text>
<text transform="translate(300.8,706.6) scale(1,1.06)" font-size="11.3" text-anchor="middle">178</text>
<text transform="translate(341.2,706.6) scale(1,1.06)" font-size="11.3" text-anchor="middle">180</text>
<text transform="translate(381.5,706.6) scale(1,1.06)" font-size="11.3" text-anchor="middle">182</text>
<text transform="translate(422,706.6) scale(1,1.06)" font-size="11.3" text-anchor="middle">184</text>
<text transform="translate(462.5,706.6) scale(1,1.06)" font-size="11.3" text-anchor="middle">186</text>
<text transform="translate(502.7,706.6) scale(1,1.06)" font-size="11.3" text-anchor="middle">188</text>
<text transform="translate(349,721.5) scale(1,1.06)" font-size="11" text-anchor="start" textLength="106.5" lengthAdjust="spacingAndGlyphs">Binding Energy (eV)</text>
<text transform="translate(516.6,532.3) rotate(-90) scale(1,1.06)" font-size="11.4" text-anchor="middle" textLength="105" lengthAdjust="spacingAndGlyphs">Intensity (arb.units)</text>
<text transform="translate(297,538.8) scale(1,1.06)" font-size="11.3" text-anchor="end">0</text>
<text transform="translate(32,36.3) scale(1,1.0)" font-size="16.8" text-anchor="start">A</text>
<text transform="translate(310,37.3) scale(1,1.0)" font-size="16.8" text-anchor="start">B</text>
<text transform="translate(39.3,405.6) scale(1,1.0)" font-size="16.8" text-anchor="start">C</text>
<text transform="translate(305,400.9) scale(1,1.0)" font-size="16.2" text-anchor="start">D</text>
<polyline points="25.8,151.2 26.49,151.21 27.18,151.22 27.87,151.23 28.56,151.24 29.25,151.25 29.94,151.26 30.63,151.27 31.33,151.28 32.02,151.29 32.71,151.29 33.4,151.3 34.09,151.31 34.78,151.32 35.47,151.33 36.16,151.34 36.85,151.35 37.54,151.36 38.23,151.37 38.92,151.38 39.61,151.38 40.3,151.39 40.99,151.4 41.68,151.41 42.38,151.42 43.07,151.43 43.76,151.44 44.45,151.45 45.14,151.46 45.83,151.47 46.52,151.47 47.21,151.48 47.9,151.49 48.59,151.5 49.28,151.51 49.97,151.52 50.66,151.53 51.35,151.54 52.04,151.55 52.73,151.56 53.43,151.56 54.12,151.57 54.81,151.58 55.5,151.59 56.19,151.6 56.88,151.61 57.57,151.62 58.26,151.63 58.95,151.64 59.64,151.65 60.33,151.65 61.02,151.66 61.71,151.67 62.4,151.68 63.09,151.69 63.78,151.7 64.48,151.71 65.17,151.72 65.86,151.73 66.55,151.74 67.24,151.74 67.93,151.75 68.62,151.76 69.31,151.77 70,151.78 70.69,151.79 71.38,151.8 72.07,151.81 72.76,151.82 73.45,151.83 74.14,151.84 74.84,151.84 75.53,151.85 76.22,151.86 76.91,151.87 77.6,151.88 78.29,151.89 78.98,151.9 79.67,151.91 80.36,151.92 81.05,151.93 81.74,151.93 82.43,151.94 83.12,151.95 83.81,151.96 84.5,151.97 85.19,151.98 85.89,151.99 86.58,152 87.27,152.01 87.96,152.02 88.65,152.02 89.34,152.03 90.03,152.04 90.72,152.05 91.41,152.06 92.1,152.07 92.79,152.08 93.48,152.09 94.17,152.1 94.86,152.11 95.55,152.11 96.24,152.12 96.94,152.13 97.63,152.14 98.32,152.15 99.01,152.16 99.7,152.17 100.39,152.18 101.08,152.19 101.77,152.2 102.46,152.2 103.15,152.21 103.84,152.22 104.53,152.23 105.22,152.24 105.91,152.25 106.6,152.26 107.29,152.27 107.99,152.28 108.68,152.29 109.37,152.29 110.06,152.3 110.75,152.31 111.44,152.32 112.13,152.33 112.82,152.34 113.51,152.35 114.2,152.36 114.89,152.37 115.58,152.38 116.27,152.39 116.96,152.39 117.65,152.4 118.35,152.41 119.04,152.42 119.73,152.43 120.42,152.44 121.11,152.45 121.8,152.46 122.49,152.47 123.18,152.48 123.87,152.48 124.56,152.49 125.25,152.5 125.94,152.51 126.63,152.52 127.32,152.53 128.01,152.54 128.7,152.55 129.4,152.56 130.09,152.57 130.78,152.57 131.47,152.58 132.16,152.59 132.85,152.6 133.54,152.61 134.23,152.62 134.92,152.63 135.61,152.64 136.3,152.65 136.99,152.66 137.68,152.66 138.37,152.67 139.06,152.68 139.75,152.69 140.45,152.7 141.14,152.71 141.83,152.72 142.52,152.73 143.21,152.74 143.9,152.75 144.59,152.75 145.28,152.76 145.97,152.77 146.66,152.78 147.35,152.79 148.04,152.8 148.73,152.81 149.42,152.82 150.11,152.83 150.81,152.84 151.5,152.85 152.19,152.85 152.88,152.86 153.57,152.87 154.26,152.88 154.95,152.89 155.64,152.9 156.33,152.91 157.02,152.92 157.71,152.93 158.4,152.94 159.09,152.94 159.78,152.95 160.47,152.96 161.16,152.97 161.86,152.98 162.55,152.99 163.24,153 163.93,153.01 164.62,153.02 165.31,153.03 166,153.03 166.69,153.04 167.38,153.05 168.07,153.06 168.76,153.07 169.45,153.08 170.14,153.09 170.83,153.1 171.52,153.11 172.21,153.12 172.91,153.12 173.6,153.13 174.29,153.14 174.98,153.15 175.67,153.16 176.36,153.17 177.05,153.18 177.74,153.19 178.43,153.2 179.12,153.21 179.81,153.21 180.5,153.22 181.19,153.23 181.88,153.24 182.57,153.25 183.26,153.26 183.96,153.27 184.65,153.28 185.34,153.29 186.03,153.3 186.72,153.3 187.41,153.31 188.1,153.32 188.79,153.33 189.48,153.34 190.17,153.35 190.86,153.36 191.55,153.37 192.24,153.38 192.93,153.39 193.62,153.4 194.32,153.4 195.01,153.41 195.7,153.42 196.39,153.43 197.08,153.44 197.77,153.45 198.46,153.46 199.15,153.47 199.84,153.48 200.53,153.49 201.22,153.49 201.91,153.5 202.6,153.51 203.29,153.52 203.98,153.53 204.67,153.54 205.37,153.55 206.06,153.56 206.75,153.57 207.44,153.58 208.13,153.58 208.82,153.59 209.51,153.6 210.2,153.61 210.89,153.62 211.58,153.63 212.27,153.64 212.96,153.65 213.65,153.66 214.34,153.67 215.03,153.67 215.72,153.68 216.42,153.69 217.11,153.7 217.8,153.71 218.49,153.72 219.18,153.73 219.87,153.74 220.56,153.75 221.25,153.76 221.94,153.76 222.63,153.77 223.32,153.78 224.01,153.79 224.7,153.8 225.39,153.81 226.08,153.82 226.77,153.83 227.47,153.84 228.16,153.85 228.85,153.85 229.54,153.86 230.23,153.87 230.92,153.88 231.61,153.89 232.3,153.9" fill="none" stroke="#000" stroke-width="1.0" stroke-dasharray="1.3,1.5" stroke-linecap="butt" stroke-linejoin="round"/>
<polyline points="112.13,151.82 112.82,151.78 113.51,151.73 114.2,151.68 114.89,151.61 115.58,151.54 116.27,151.46 116.96,151.37 117.65,151.27 118.35,151.16 119.04,151.04 119.73,150.91 120.42,150.76 121.11,150.6 121.8,150.42 122.49,150.24 123.18,150.04 123.87,149.82 124.56,149.59 125.25,149.35 125.94,149.1 126.63,148.84 127.32,148.57 128.01,148.28 128.7,147.99 129.4,147.7 130.09,147.4 130.78,147.09 131.47,146.79 132.16,146.5 132.85,146.2 133.54,145.92 134.23,145.65 134.92,145.39 135.61,145.15 136.3,144.93 136.99,144.74 137.68,144.57 138.37,144.43 139.06,144.32 139.75,144.25 140.45,144.21 141.14,144.21 141.83,144.24 142.52,144.31 143.21,144.42 143.9,144.56 144.59,144.73 145.28,144.92 145.97,145.15 146.66,145.39 147.35,145.66 148.04,145.94 148.73,146.23 149.42,146.54 150.11,146.85 150.81,147.17 151.5,147.49 152.19,147.81 152.88,148.12 153.57,148.44 154.26,148.74 154.95,149.04 155.64,149.33 156.33,149.6 157.02,149.87 157.71,150.12 158.4,150.36 159.09,150.59 159.78,150.8 160.47,151 161.16,151.19 161.86,151.36 162.55,151.52 163.24,151.67 163.93,151.81 164.62,151.93 165.31,152.04 166,152.15 166.69,152.24 167.38,152.33 168.07,152.41 168.76,152.48 169.45,152.54" fill="none" stroke="#000" stroke-width="1.0" stroke-dasharray="1.2,1.5" stroke-linecap="butt" stroke-linejoin="round"/>
<polyline points="150.11,152.3 150.81,152.27 151.5,152.24 152.19,152.2 152.88,152.15 153.57,152.1 154.26,152.05 154.95,151.98 155.64,151.91 156.33,151.83 157.02,151.74 157.71,151.65 158.4,151.54 159.09,151.42 159.78,151.29 160.47,151.14 161.16,150.99 161.86,150.81 162.55,150.63 163.24,150.43 163.93,150.22 164.62,149.99 165.31,149.74 166,149.48 166.69,149.21 167.38,148.92 168.07,148.61 168.76,148.29 169.45,147.95 170.14,147.61 170.83,147.25 171.52,146.87 172.21,146.49 172.91,146.1 173.6,145.71 174.29,145.31 174.98,144.91 175.67,144.5 176.36,144.1 177.05,143.71 177.74,143.32 178.43,142.94 179.12,142.58 179.81,142.23 180.5,141.9 181.19,141.6 181.88,141.32 182.57,141.07 183.26,140.85 183.96,140.66 184.65,140.52 185.34,140.41 186.03,140.34 186.72,140.31 187.41,140.32 188.1,140.38 188.79,140.47 189.48,140.61 190.17,140.78 190.86,140.99 191.55,141.23 192.24,141.5 192.93,141.81 193.62,142.13 194.32,142.48 195.01,142.85 195.7,143.24 196.39,143.64 197.08,144.04 197.77,144.46 198.46,144.88 199.15,145.3 199.84,145.72 200.53,146.13 201.22,146.55 201.91,146.95 202.6,147.35 203.29,147.74 203.98,148.11 204.67,148.48 205.37,148.83 206.06,149.16 206.75,149.49 207.44,149.79 208.13,150.08 208.82,150.36 209.51,150.62 210.2,150.86 210.89,151.09 211.58,151.31 212.27,151.51 212.96,151.69 213.65,151.87 214.34,152.02 215.03,152.17 215.72,152.31 216.42,152.43 217.11,152.55 217.8,152.65 218.49,152.75 219.18,152.84 219.87,152.92 220.56,152.99 221.25,153.06 221.94,153.12 222.63,153.17 223.32,153.23 224.01,153.27" fill="none" stroke="#000" stroke-width="1.1" stroke-dasharray="6,2,1.2,2,1.2,2" stroke-linecap="butt" stroke-linejoin="round"/>
<polyline points="25.8,147.4 26.49,147.4 27.18,147.4 27.87,147.4 28.56,147.4 29.25,147.4 29.94,147.4 30.63,147.4 31.33,147.4 32.02,147.4 32.71,147.4 33.4,147.4 34.09,147.4 34.78,147.4 35.47,147.4 36.16,147.4 36.85,147.4 37.54,147.4 38.23,147.4 38.92,147.4 39.61,147.4 40.3,147.4 40.99,147.4 41.68,147.39 42.38,147.37 43.07,147.34 43.76,147.32 44.45,147.29 45.14,147.27 45.83,147.24 46.52,147.2 47.21,147.16 47.9,147.11 48.59,147.05 49.28,146.95 49.97,146.84 50.66,146.71 51.35,146.58 52.04,146.46 52.73,146.34 53.43,146.22 54.12,146.1 54.81,145.96 55.5,145.82 56.19,145.66 56.88,145.5 57.57,145.33 58.26,145.14 58.95,144.93 59.64,144.7 60.33,144.43 61.02,144.14 61.71,143.81 62.4,143.47 63.09,143.1 63.78,142.72 64.48,142.3 65.17,141.85 65.86,141.36 66.55,140.84 67.24,140.29 67.93,139.7 68.62,139.07 69.31,138.38 70,137.63 70.69,136.81 71.38,135.88 72.07,134.84 72.76,133.7 73.45,132.49 74.14,131.23 74.84,129.94 75.53,128.59 76.22,127.15 76.91,125.64 77.6,124.03 78.29,122.32 78.98,120.48 79.67,118.5 80.36,116.4 81.05,114.2 81.74,111.93 82.43,109.57 83.12,107.07 83.81,104.45 84.5,101.75 85.19,98.99 85.89,96.18 86.58,93.26 87.27,90.24 87.96,87.17 88.65,84.09 89.34,81.05 90.03,78.03 90.72,74.97 91.41,71.91 92.1,68.92 92.79,66.05 93.48,63.32 94.17,60.61 94.86,57.96 95.55,55.44 96.24,53.14 96.94,51.11 97.63,49.19 98.32,47.25 99.01,45.47 99.7,44.05 100.39,43.17 101.08,42.89 101.77,42.72 102.46,42.58 103.15,42.48 103.84,42.42 104.53,42.4 105.22,42.85 105.91,43.88 106.6,45.33 107.29,47.01 107.99,48.74 108.68,50.46 109.37,52.47 110.06,54.74 110.75,57.18 111.44,59.71 112.13,62.25 112.82,64.92 113.51,67.73 114.2,70.64 114.89,73.59 115.58,76.54 116.27,79.48 116.96,82.51 117.65,85.56 118.35,88.58 119.04,91.51 119.73,94.3 120.42,97.01 121.11,99.66 121.8,102.23 122.49,104.69 123.18,107.04 123.87,109.27 124.56,111.43 125.25,113.51 125.94,115.48 126.63,117.32 127.32,119.05 128.01,120.72 128.7,122.32 129.4,123.82 130.09,125.15 130.78,126.29 131.47,127.26 132.16,128.13 132.85,128.91 133.54,129.63 134.23,130.31 134.92,130.96 135.61,131.59 136.3,132.18 136.99,132.73 137.68,133.22 138.37,133.64 139.06,134 139.75,134.32 140.45,134.62 141.14,134.88 141.83,135.12 142.52,135.35 143.21,135.56 143.9,135.76 144.59,135.94 145.28,136.1 145.97,136.23 146.66,136.33 147.35,136.41 148.04,136.48 148.73,136.57 149.42,136.67 150.11,136.82 150.81,137.02 151.5,137.26 152.19,137.51 152.88,137.75 153.57,137.97 154.26,138.18 154.95,138.4 155.64,138.6 156.33,138.8 157.02,138.98 157.71,139.15 158.4,139.3 159.09,139.45 159.78,139.59 160.47,139.72 161.16,139.86 161.86,140.01 162.55,140.15 163.24,140.29 163.93,140.41 164.62,140.5 165.31,140.58 166,140.65 166.69,140.72 167.38,140.77 168.07,140.8 168.76,140.8 169.45,140.77 170.14,140.71 170.83,140.65 171.52,140.57 172.21,140.49 172.91,140.4 173.6,140.27 174.29,140.14 174.98,139.99 175.67,139.85 176.36,139.7 177.05,139.54 177.74,139.36 178.43,139.2 179.12,139.07 179.81,138.98 180.5,138.92 181.19,138.85 181.88,138.8 182.57,138.77 183.26,138.75 183.96,138.76 184.65,138.78 185.34,138.83 186.03,138.88 186.72,138.95 187.41,139.03 188.1,139.15 188.79,139.32 189.48,139.53 190.17,139.75 190.86,139.97 191.55,140.21 192.24,140.47 192.93,140.75 193.62,141.05 194.32,141.34 195.01,141.63 195.7,141.91 196.39,142.2 197.08,142.49 197.77,142.79 198.46,143.1 199.15,143.42 199.84,143.76 200.53,144.11 201.22,144.46 201.91,144.83 202.6,145.21 203.29,145.62 203.98,146.04 204.67,146.46 205.37,146.88 206.06,147.29 206.75,147.71 207.44,148.12 208.13,148.53 208.82,148.92 209.51,149.29 210.2,149.62 210.89,149.94 211.58,150.24 212.27,150.52 212.96,150.8 213.65,151.06 214.34,151.32 215.03,151.58 215.72,151.83 216.42,152.05 217.11,152.22 217.8,152.35 218.49,152.45 219.18,152.54 219.87,152.62 220.56,152.7 221.25,152.77 221.94,152.84 222.63,152.91 223.32,152.97 224.01,153.03 224.7,153.09 225.39,153.17 226.08,153.27 226.77,153.36 227.47,153.44 228.16,153.49 228.85,153.5 229.54,153.5 230.23,153.5 230.92,153.5 231.61,153.5 232.3,153.5" fill="none" stroke="#000" stroke-width="1.2" stroke-dasharray="5,2,1.2,2" stroke-linecap="butt" stroke-linejoin="round"/>
<circle cx="232.3" cy="153.5" r="2.5" fill="#fff" stroke="#000" stroke-width="1.15"/>
<circle cx="228.54" cy="153.5" r="2.5" fill="#fff" stroke="#000" stroke-width="1.15"/>
<circle cx="224.78" cy="153.1" r="2.5" fill="#fff" stroke="#000" stroke-width="1.15"/>
<circle cx="221.02" cy="152.75" r="2.5" fill="#fff" stroke="#000" stroke-width="1.15"/>
<circle cx="217.26" cy="152.25" r="2.5" fill="#fff" stroke="#000" stroke-width="1.15"/>
<circle cx="213.5" cy="151" r="2.5" fill="#fff" stroke="#000" stroke-width="1.15"/>
<circle cx="209.74" cy="149.4" r="2.5" fill="#fff" stroke="#000" stroke-width="1.15"/>
<circle cx="205.98" cy="147.25" r="2.5" fill="#fff" stroke="#000" stroke-width="1.15"/>
<circle cx="202.22" cy="145" r="2.5" fill="#fff" stroke="#000" stroke-width="1.15"/>
<circle cx="198.46" cy="143.1" r="2.5" fill="#fff" stroke="#000" stroke-width="1.15"/>
<circle cx="194.7" cy="141.5" r="2.5" fill="#fff" stroke="#000" stroke-width="1.15"/>
<circle cx="190.94" cy="140" r="2.5" fill="#fff" stroke="#000" stroke-width="1.15"/>
<circle cx="187.18" cy="139" r="2.5" fill="#fff" stroke="#000" stroke-width="1.15"/>
<circle cx="183.42" cy="138.75" r="2.5" fill="#fff" stroke="#000" stroke-width="1.15"/>
<circle cx="179.66" cy="139" r="2.5" fill="#fff" stroke="#000" stroke-width="1.15"/>
<circle cx="175.9" cy="139.8" r="2.5" fill="#fff" stroke="#000" stroke-width="1.15"/>
<circle cx="172.14" cy="140.5" r="2.5" fill="#fff" stroke="#000" stroke-width="1.15"/>
<circle cx="168.38" cy="140.8" r="2.5" fill="#fff" stroke="#000" stroke-width="1.15"/>
<circle cx="164.62" cy="140.5" r="2.5" fill="#fff" stroke="#000" stroke-width="1.15"/>
<circle cx="160.86" cy="139.8" r="2.5" fill="#fff" stroke="#000" stroke-width="1.15"/>
<circle cx="157.1" cy="139" r="2.5" fill="#fff" stroke="#000" stroke-width="1.15"/>
<circle cx="153.34" cy="137.9" r="2.5" fill="#fff" stroke="#000" stroke-width="1.15"/>
<circle cx="149.58" cy="136.7" r="2.5" fill="#fff" stroke="#000" stroke-width="1.15"/>
<circle cx="145.82" cy="136.2" r="2.5" fill="#fff" stroke="#000" stroke-width="1.15"/>
<circle cx="142.06" cy="135.2" r="2.5" fill="#fff" stroke="#000" stroke-width="1.15"/>
<circle cx="138.3" cy="133.6" r="2.5" fill="#fff" stroke="#000" stroke-width="1.15"/>
<circle cx="134.54" cy="130.6" r="2.5" fill="#fff" stroke="#000" stroke-width="1.15"/>
<circle cx="130.78" cy="126.3" r="2.5" fill="#fff" stroke="#000" stroke-width="1.15"/>
<circle cx="127.02" cy="118.3" r="2.5" fill="#fff" stroke="#000" stroke-width="1.15"/>
<circle cx="123.26" cy="107.3" r="2.5" fill="#fff" stroke="#000" stroke-width="1.15"/>
<circle cx="119.5" cy="93.4" r="2.5" fill="#fff" stroke="#000" stroke-width="1.15"/>
<circle cx="115.74" cy="77.2" r="2.5" fill="#fff" stroke="#000" stroke-width="1.15"/>
<circle cx="111.98" cy="61.7" r="2.5" fill="#fff" stroke="#000" stroke-width="1.15"/>
<circle cx="108.22" cy="49.3" r="2.5" fill="#fff" stroke="#000" stroke-width="1.15"/>
<circle cx="104.46" cy="42.4" r="2.5" fill="#fff" stroke="#000" stroke-width="1.15"/>
<circle cx="100.7" cy="43" r="2.5" fill="#fff" stroke="#000" stroke-width="1.15"/>
<circle cx="96.94" cy="51.1" r="2.5" fill="#fff" stroke="#000" stroke-width="1.15"/>
<circle cx="93.18" cy="64.5" r="2.5" fill="#fff" stroke="#000" stroke-width="1.15"/>
<circle cx="89.42" cy="80.7" r="2.5" fill="#fff" stroke="#000" stroke-width="1.15"/>
<circle cx="85.66" cy="97.1" r="2.5" fill="#fff" stroke="#000" stroke-width="1.15"/>
<circle cx="81.9" cy="111.4" r="2.5" fill="#fff" stroke="#000" stroke-width="1.15"/>
<circle cx="78.14" cy="122.7" r="2.5" fill="#fff" stroke="#000" stroke-width="1.15"/>
<circle cx="74.38" cy="130.8" r="2.5" fill="#fff" stroke="#000" stroke-width="1.15"/>
<circle cx="70.62" cy="136.9" r="2.5" fill="#fff" stroke="#000" stroke-width="1.15"/>
<circle cx="66.86" cy="140.6" r="2.5" fill="#fff" stroke="#000" stroke-width="1.15"/>
<circle cx="63.1" cy="143.1" r="2.5" fill="#fff" stroke="#000" stroke-width="1.15"/>
<circle cx="59.34" cy="144.8" r="2.5" fill="#fff" stroke="#000" stroke-width="1.15"/>
<circle cx="55.58" cy="145.8" r="2.5" fill="#fff" stroke="#000" stroke-width="1.15"/>
<circle cx="51.82" cy="146.5" r="2.5" fill="#fff" stroke="#000" stroke-width="1.15"/>
<circle cx="48.06" cy="147.1" r="2.5" fill="#fff" stroke="#000" stroke-width="1.15"/>
<circle cx="44.3" cy="147.3" r="2.5" fill="#fff" stroke="#000" stroke-width="1.15"/>
<circle cx="40.54" cy="147.4" r="2.5" fill="#fff" stroke="#000" stroke-width="1.15"/>
<circle cx="36.78" cy="147.4" r="2.5" fill="#fff" stroke="#000" stroke-width="1.15"/>
<circle cx="33.02" cy="147.4" r="2.5" fill="#fff" stroke="#000" stroke-width="1.15"/>
<circle cx="29.26" cy="147.4" r="2.5" fill="#fff" stroke="#000" stroke-width="1.15"/>
<circle cx="25.5" cy="147.4" r="2.5" fill="#fff" stroke="#000" stroke-width="1.15"/>
<polyline points="25.8,307.8 26.49,307.8 27.18,307.8 27.87,307.8 28.56,307.8 29.25,307.8 29.94,307.8 30.63,307.8 31.33,307.8 32.02,307.8 32.71,307.8 33.4,307.8 34.09,307.8 34.78,307.8 35.47,307.8 36.16,307.8 36.85,307.8 37.54,307.8 38.23,307.8 38.92,307.8 39.61,307.8 40.3,307.8 40.99,307.8 41.68,307.8 42.38,307.8 43.07,307.8 43.76,307.8 44.45,307.8 45.14,307.8 45.83,307.8 46.52,307.8 47.21,307.8 47.9,307.8 48.59,307.8 49.28,307.8 49.97,307.8 50.66,307.8 51.35,307.8 52.04,307.8 52.73,307.8 53.43,307.8 54.12,307.8 54.81,307.8 55.5,307.8 56.19,307.8 56.88,307.8 57.57,307.8 58.26,307.8 58.95,307.8 59.64,307.8 60.33,307.8 61.02,307.8 61.71,307.8 62.4,307.8 63.09,307.8 63.78,307.8 64.48,307.8 65.17,307.8 65.86,307.8 66.55,307.8 67.24,307.8 67.93,307.8 68.62,307.8 69.31,307.8 70,307.8 70.69,307.8 71.38,307.8 72.07,307.8 72.76,307.8 73.45,307.8 74.14,307.8 74.84,307.8 75.53,307.8 76.22,307.8 76.91,307.8 77.6,307.8 78.29,307.8 78.98,307.8 79.67,307.8 80.36,307.8 81.05,307.8 81.74,307.8 82.43,307.8 83.12,307.8 83.81,307.8 84.5,307.8 85.19,307.8 85.89,307.8 86.58,307.8 87.27,307.8 87.96,307.8 88.65,307.8 89.34,307.8 90.03,307.8 90.72,307.8 91.41,307.8 92.1,307.8 92.79,307.8 93.48,307.8 94.17,307.8 94.86,307.8 95.55,307.8 96.24,307.8 96.94,307.8 97.63,307.8 98.32,307.8 99.01,307.8 99.7,307.8 100.39,307.8 101.08,307.8 101.77,307.8 102.46,307.8 103.15,307.8 103.84,307.8 104.53,307.8 105.22,307.8 105.91,307.8 106.6,307.8 107.29,307.8 107.99,307.8 108.68,307.8 109.37,307.8 110.06,307.8 110.75,307.8 111.44,307.8 112.13,307.8 112.82,307.8 113.51,307.8 114.2,307.8 114.89,307.8 115.58,307.8 116.27,307.8 116.96,307.8 117.65,307.8 118.35,307.8 119.04,307.8 119.73,307.8 120.42,307.8 121.11,307.8 121.8,307.8 122.49,307.8 123.18,307.8 123.87,307.8 124.56,307.8 125.25,307.8 125.94,307.8 126.63,307.8 127.32,307.8 128.01,307.8 128.7,307.8 129.4,307.8 130.09,307.8 130.78,307.8 131.47,307.8 132.16,307.8 132.85,307.8 133.54,307.8 134.23,307.8 134.92,307.8 135.61,307.8 136.3,307.8 136.99,307.8 137.68,307.8 138.37,307.8 139.06,307.8 139.75,307.8 140.45,307.8 141.14,307.8 141.83,307.8 142.52,307.8 143.21,307.8 143.9,307.8 144.59,307.8 145.28,307.8 145.97,307.8 146.66,307.8 147.35,307.8 148.04,307.8 148.73,307.8 149.42,307.8 150.11,307.8 150.81,307.8 151.5,307.8 152.19,307.8 152.88,307.8 153.57,307.8 154.26,307.8 154.95,307.8 155.64,307.8 156.33,307.8 157.02,307.8 157.71,307.8 158.4,307.8 159.09,307.8 159.78,307.8 160.47,307.8 161.16,307.8 161.86,307.8 162.55,307.8 163.24,307.8 163.93,307.8 164.62,307.8 165.31,307.8 166,307.8 166.69,307.8 167.38,307.8 168.07,307.8 168.76,307.8 169.45,307.8 170.14,307.8 170.83,307.8 171.52,307.8 172.21,307.8 172.91,307.8 173.6,307.8 174.29,307.8 174.98,307.8 175.67,307.8 176.36,307.8 177.05,307.8 177.74,307.8 178.43,307.8 179.12,307.8 179.81,307.8 180.5,307.8 181.19,307.8 181.88,307.8 182.57,307.8 183.26,307.8 183.96,307.8 184.65,307.8 185.34,307.8 186.03,307.8 186.72,307.8 187.41,307.8 188.1,307.8 188.79,307.8 189.48,307.8 190.17,307.8 190.86,307.8 191.55,307.8 192.24,307.8 192.93,307.8 193.62,307.8 194.32,307.8 195.01,307.8 195.7,307.8 196.39,307.8 197.08,307.8 197.77,307.8 198.46,307.8 199.15,307.8 199.84,307.8 200.53,307.8 201.22,307.8 201.91,307.8 202.6,307.8 203.29,307.8 203.98,307.8 204.67,307.8 205.37,307.8 206.06,307.8 206.75,307.8 207.44,307.8 208.13,307.8 208.82,307.8 209.51,307.8 210.2,307.8 210.89,307.8 211.58,307.8 212.27,307.8 212.96,307.8 213.65,307.8 214.34,307.8 215.03,307.8 215.72,307.8 216.42,307.8 217.11,307.8 217.8,307.8 218.49,307.8 219.18,307.8 219.87,307.8 220.56,307.8 221.25,307.8 221.94,307.8 222.63,307.8 223.32,307.8 224.01,307.8 224.7,307.8 225.39,307.8 226.08,307.8 226.77,307.8 227.47,307.8 228.16,307.8 228.85,307.8 229.54,307.8 230.23,307.8 230.92,307.8 231.61,307.8 232.3,307.8" fill="none" stroke="#000" stroke-width="1.0" stroke-dasharray="1.3,1.5" stroke-linecap="butt" stroke-linejoin="round"/>
<polyline points="116.96,307.28 117.65,307.21 118.35,307.15 119.04,307.07 119.73,306.99 120.42,306.9 121.11,306.79 121.8,306.69 122.49,306.57 123.18,306.44 123.87,306.3 124.56,306.15 125.25,306 125.94,305.83 126.63,305.66 127.32,305.48 128.01,305.3 128.7,305.11 129.4,304.91 130.09,304.71 130.78,304.52 131.47,304.32 132.16,304.12 132.85,303.93 133.54,303.75 134.23,303.58 134.92,303.42 135.61,303.27 136.3,303.14 136.99,303.03 137.68,302.94 138.37,302.87 139.06,302.82 139.75,302.8 140.45,302.81 141.14,302.83 141.83,302.89 142.52,302.96 143.21,303.06 143.9,303.18 144.59,303.31 145.28,303.46 145.97,303.63 146.66,303.8 147.35,303.99 148.04,304.18 148.73,304.38 149.42,304.57 150.11,304.77 150.81,304.97 151.5,305.16 152.19,305.35 152.88,305.53 153.57,305.71 154.26,305.88 154.95,306.04 155.64,306.2 156.33,306.34 157.02,306.48 157.71,306.6 158.4,306.72 159.09,306.82 159.78,306.92 160.47,307.01 161.16,307.09 161.86,307.17 162.55,307.23 163.24,307.29" fill="none" stroke="#000" stroke-width="1.0" stroke-dasharray="1.2,1.5" stroke-linecap="butt" stroke-linejoin="round"/>
<polyline points="134.92,307.3 135.61,307.27 136.3,307.25 136.99,307.22 137.68,307.18 138.37,307.14 139.06,307.1 139.75,307.06 140.45,307 141.14,306.95 141.83,306.88 142.52,306.81 143.21,306.73 143.9,306.64 144.59,306.54 145.28,306.43 145.97,306.31 146.66,306.18 147.35,306.03 148.04,305.87 148.73,305.69 149.42,305.5 150.11,305.29 150.81,305.06 151.5,304.81 152.19,304.54 152.88,304.25 153.57,303.93 154.26,303.59 154.95,303.23 155.64,302.85 156.33,302.44 157.02,302.01 157.71,301.55 158.4,301.07 159.09,300.57 159.78,300.05 160.47,299.5 161.16,298.94 161.86,298.36 162.55,297.76 163.24,297.15 163.93,296.53 164.62,295.9 165.31,295.27 166,294.64 166.69,294 167.38,293.38 168.07,292.77 168.76,292.17 169.45,291.59 170.14,291.03 170.83,290.51 171.52,290.01 172.21,289.56 172.91,289.15 173.6,288.79 174.29,288.48 174.98,288.22 175.67,288.02 176.36,287.89 177.05,287.81 177.74,287.8 178.43,287.86 179.12,287.98 179.81,288.15 180.5,288.39 181.19,288.69 181.88,289.03 182.57,289.43 183.26,289.87 183.96,290.35 184.65,290.87 185.34,291.42 186.03,291.99 186.72,292.58 187.41,293.19 188.1,293.81 188.79,294.44 189.48,295.08 190.17,295.71 190.86,296.34 191.55,296.96 192.24,297.57 192.93,298.18 193.62,298.76 194.32,299.33 195.01,299.88 195.7,300.41 196.39,300.92 197.08,301.41 197.77,301.87 198.46,302.31 199.15,302.73 199.84,303.12 200.53,303.49 201.22,303.83 201.91,304.15 202.6,304.45 203.29,304.73 203.98,304.98 204.67,305.22 205.37,305.44 206.06,305.64 206.75,305.82 207.44,305.99 208.13,306.14 208.82,306.27 209.51,306.4 210.2,306.51 210.89,306.61 211.58,306.7 212.27,306.79 212.96,306.86 213.65,306.93 214.34,306.99 215.03,307.04 215.72,307.09 216.42,307.13 217.11,307.17 217.8,307.21 218.49,307.24 219.18,307.27 219.87,307.29" fill="none" stroke="#000" stroke-width="1.0" stroke-dasharray="1.2,1.5" stroke-linecap="butt" stroke-linejoin="round"/>
<polyline points="25.8,306 26.49,306 27.18,305.99 27.87,305.99 28.56,305.98 29.25,305.97 29.94,305.97 30.63,305.96 31.33,305.94 32.02,305.93 32.71,305.91 33.4,305.9 34.09,305.88 34.78,305.87 35.47,305.85 36.16,305.83 36.85,305.81 37.54,305.79 38.23,305.77 38.92,305.75 39.61,305.73 40.3,305.71 40.99,305.68 41.68,305.64 42.38,305.59 43.07,305.55 43.76,305.5 44.45,305.46 45.14,305.42 45.83,305.38 46.52,305.34 47.21,305.31 47.9,305.3 48.59,305.3 49.28,305.3 49.97,305.3 50.66,305.3 51.35,305.3 52.04,305.3 52.73,305.27 53.43,305.22 54.12,305.15 54.81,305.08 55.5,305.01 56.19,304.94 56.88,304.88 57.57,304.81 58.26,304.73 58.95,304.65 59.64,304.56 60.33,304.46 61.02,304.35 61.71,304.23 62.4,304.11 63.09,304 63.78,303.9 64.48,303.8 65.17,303.7 65.86,303.59 66.55,303.47 67.24,303.31 67.93,303.11 68.62,302.88 69.31,302.63 70,302.35 70.69,302.07 71.38,301.77 72.07,301.44 72.76,301.1 73.45,300.73 74.14,300.34 74.84,299.93 75.53,299.5 76.22,299.04 76.91,298.55 77.6,298.03 78.29,297.48 78.98,296.89 79.67,296.26 80.36,295.58 81.05,294.83 81.74,294 82.43,293.06 83.12,291.95 83.81,290.71 84.5,289.37 85.19,287.97 85.89,286.53 86.58,285.03 87.27,283.45 87.96,281.76 88.65,279.93 89.34,277.95 90.03,275.72 90.72,273.2 91.41,270.47 92.1,267.59 92.79,264.65 93.48,261.71 94.17,258.67 94.86,255.52 95.55,252.29 96.24,248.98 96.94,245.62 97.63,242.14 98.32,238.52 99.01,234.84 99.7,231.16 100.39,227.57 101.08,224.08 101.77,220.52 102.46,216.98 103.15,213.59 103.84,210.46 104.53,207.73 105.22,205.19 105.91,202.74 106.6,200.5 107.29,198.6 107.99,197.16 108.68,196.17 109.37,195.28 110.06,194.49 110.75,193.88 111.44,193.5 112.13,193.42 112.82,193.93 113.51,195.03 114.2,196.53 114.89,198.28 115.58,200.09 116.27,202.04 116.96,204.47 117.65,207.26 118.35,210.27 119.04,213.36 119.73,216.39 120.42,219.55 121.11,222.85 121.8,226.24 122.49,229.65 123.18,233.01 123.87,236.37 124.56,239.77 125.25,243.18 125.94,246.53 126.63,249.76 127.32,252.84 128.01,255.86 128.7,258.82 129.4,261.65 130.09,264.33 130.78,266.79 131.47,269.05 132.16,271.17 132.85,273.18 133.54,275.08 134.23,276.9 134.92,278.67 135.61,280.42 136.3,282.11 136.99,283.7 137.68,285.15 138.37,286.43 139.06,287.56 139.75,288.61 140.45,289.56 141.14,290.44 141.83,291.25 142.52,291.98 143.21,292.65 143.9,293.28 144.59,293.86 145.28,294.4 145.97,294.91 146.66,295.4 147.35,295.88 148.04,296.32 148.73,296.71 149.42,297.04 150.11,297.32 150.81,297.59 151.5,297.85 152.19,298.05 152.88,298.17 153.57,298.2 154.26,298.14 154.95,298.03 155.64,297.88 156.33,297.7 157.02,297.52 157.71,297.32 158.4,297.06 159.09,296.76 159.78,296.44 160.47,296.09 161.16,295.74 161.86,295.35 162.55,294.93 163.24,294.48 163.93,294.04 164.62,293.6 165.31,293.18 166,292.76 166.69,292.33 167.38,291.91 168.07,291.49 168.76,291.06 169.45,290.62 170.14,290.17 170.83,289.73 171.52,289.32 172.21,288.96 172.91,288.6 173.6,288.24 174.29,287.9 174.98,287.64 175.67,287.51 176.36,287.51 177.05,287.57 177.74,287.67 178.43,287.81 179.12,287.96 179.81,288.14 180.5,288.45 181.19,288.89 181.88,289.41 182.57,289.96 183.26,290.49 183.96,290.97 184.65,291.46 185.34,291.95 186.03,292.45 186.72,292.96 187.41,293.47 188.1,293.99 188.79,294.51 189.48,295.04 190.17,295.59 190.86,296.14 191.55,296.71 192.24,297.31 192.93,297.91 193.62,298.51 194.32,299.09 195.01,299.64 195.7,300.17 196.39,300.68 197.08,301.18 197.77,301.65 198.46,302.1 199.15,302.53 199.84,302.95 200.53,303.35 201.22,303.73 201.91,304.06 202.6,304.36 203.29,304.63 203.98,304.89 204.67,305.12 205.37,305.33 206.06,305.52 206.75,305.7 207.44,305.86 208.13,306.01 208.82,306.15 209.51,306.27 210.2,306.36 210.89,306.45 211.58,306.52 212.27,306.59 212.96,306.65 213.65,306.71 214.34,306.78 215.03,306.85 215.72,306.91 216.42,306.96 217.11,307 217.8,307.01 218.49,307.02 219.18,307.03 219.87,307.04 220.56,307.04 221.25,307.05 221.94,307.06 222.63,307.06 223.32,307.07 224.01,307.07 224.7,307.08 225.39,307.08 226.08,307.09 226.77,307.09 227.47,307.09 228.16,307.09 228.85,307.1 229.54,307.1 230.23,307.1 230.92,307.1 231.61,307.1 232.3,307.1" fill="none" stroke="#000" stroke-width="1.25" stroke-dasharray="4,2.5" stroke-linecap="butt" stroke-linejoin="round"/>
<path d="M232.3 303.75L235.75 307.1L232.3 310.45L228.85 307.1Z" fill="#fff" stroke="#000" stroke-width="1.2"/>
<path d="M228.54 303.74L231.99 307.09L228.54 310.44L225.09 307.09Z" fill="#fff" stroke="#000" stroke-width="1.2"/>
<path d="M224.78 303.73L228.23 307.08L224.78 310.43L221.33 307.08Z" fill="#fff" stroke="#000" stroke-width="1.2"/>
<path d="M221.02 303.7L224.47 307.05L221.02 310.4L217.57 307.05Z" fill="#fff" stroke="#000" stroke-width="1.2"/>
<path d="M217.26 303.65L220.71 307L217.26 310.35L213.81 307Z" fill="#fff" stroke="#000" stroke-width="1.2"/>
<path d="M213.5 303.35L216.95 306.7L213.5 310.05L210.05 306.7Z" fill="#fff" stroke="#000" stroke-width="1.2"/>
<path d="M209.74 302.95L213.19 306.3L209.74 309.65L206.29 306.3Z" fill="#fff" stroke="#000" stroke-width="1.2"/>
<path d="M205.98 302.15L209.43 305.5L205.98 308.85L202.53 305.5Z" fill="#fff" stroke="#000" stroke-width="1.2"/>
<path d="M202.22 300.85L205.67 304.2L202.22 307.55L198.77 304.2Z" fill="#fff" stroke="#000" stroke-width="1.2"/>
<path d="M198.46 298.75L201.91 302.1L198.46 305.45L195.01 302.1Z" fill="#fff" stroke="#000" stroke-width="1.2"/>
<path d="M194.7 296.05L198.15 299.4L194.7 302.75L191.25 299.4Z" fill="#fff" stroke="#000" stroke-width="1.2"/>
<path d="M190.94 292.85L194.39 296.2L190.94 299.55L187.49 296.2Z" fill="#fff" stroke="#000" stroke-width="1.2"/>
<path d="M187.18 289.95L190.63 293.3L187.18 296.65L183.73 293.3Z" fill="#fff" stroke="#000" stroke-width="1.2"/>
<path d="M183.42 287.25L186.87 290.6L183.42 293.95L179.97 290.6Z" fill="#fff" stroke="#000" stroke-width="1.2"/>
<path d="M179.66 284.75L183.11 288.1L179.66 291.45L176.21 288.1Z" fill="#fff" stroke="#000" stroke-width="1.2"/>
<path d="M175.9 284.15L179.35 287.5L175.9 290.85L172.45 287.5Z" fill="#fff" stroke="#000" stroke-width="1.2"/>
<path d="M172.14 285.65L175.59 289L172.14 292.35L168.69 289Z" fill="#fff" stroke="#000" stroke-width="1.2"/>
<path d="M168.38 287.95L171.83 291.3L168.38 294.65L164.93 291.3Z" fill="#fff" stroke="#000" stroke-width="1.2"/>
<path d="M164.62 290.25L168.07 293.6L164.62 296.95L161.17 293.6Z" fill="#fff" stroke="#000" stroke-width="1.2"/>
<path d="M160.86 292.55L164.31 295.9L160.86 299.25L157.41 295.9Z" fill="#fff" stroke="#000" stroke-width="1.2"/>
<path d="M157.1 294.15L160.55 297.5L157.1 300.85L153.65 297.5Z" fill="#fff" stroke="#000" stroke-width="1.2"/>
<path d="M153.34 294.85L156.79 298.2L153.34 301.55L149.89 298.2Z" fill="#fff" stroke="#000" stroke-width="1.2"/>
<path d="M149.58 293.75L153.03 297.1L149.58 300.45L146.13 297.1Z" fill="#fff" stroke="#000" stroke-width="1.2"/>
<path d="M145.82 291.45L149.27 294.8L145.82 298.15L142.37 294.8Z" fill="#fff" stroke="#000" stroke-width="1.2"/>
<path d="M142.06 288.15L145.51 291.5L142.06 294.85L138.61 291.5Z" fill="#fff" stroke="#000" stroke-width="1.2"/>
<path d="M138.3 282.95L141.75 286.3L138.3 289.65L134.85 286.3Z" fill="#fff" stroke="#000" stroke-width="1.2"/>
<path d="M134.54 274.35L137.99 277.7L134.54 281.05L131.09 277.7Z" fill="#fff" stroke="#000" stroke-width="1.2"/>
<path d="M130.78 263.45L134.23 266.8L130.78 270.15L127.33 266.8Z" fill="#fff" stroke="#000" stroke-width="1.2"/>
<path d="M127.02 248.15L130.47 251.5L127.02 254.85L123.57 251.5Z" fill="#fff" stroke="#000" stroke-width="1.2"/>
<path d="M123.26 230.05L126.71 233.4L123.26 236.75L119.81 233.4Z" fill="#fff" stroke="#000" stroke-width="1.2"/>
<path d="M119.5 212.05L122.95 215.4L119.5 218.75L116.05 215.4Z" fill="#fff" stroke="#000" stroke-width="1.2"/>
<path d="M115.74 197.15L119.19 200.5L115.74 203.85L112.29 200.5Z" fill="#fff" stroke="#000" stroke-width="1.2"/>
<path d="M111.98 190.05L115.43 193.4L111.98 196.75L108.53 193.4Z" fill="#fff" stroke="#000" stroke-width="1.2"/>
<path d="M108.22 193.45L111.67 196.8L108.22 200.15L104.77 196.8Z" fill="#fff" stroke="#000" stroke-width="1.2"/>
<path d="M104.46 204.65L107.91 208L104.46 211.35L101.01 208Z" fill="#fff" stroke="#000" stroke-width="1.2"/>
<path d="M100.7 222.65L104.15 226L100.7 229.35L97.25 226Z" fill="#fff" stroke="#000" stroke-width="1.2"/>
<path d="M96.94 242.25L100.39 245.6L96.94 248.95L93.49 245.6Z" fill="#fff" stroke="#000" stroke-width="1.2"/>
<path d="M93.18 259.65L96.63 263L93.18 266.35L89.73 263Z" fill="#fff" stroke="#000" stroke-width="1.2"/>
<path d="M89.42 274.35L92.87 277.7L89.42 281.05L85.97 277.7Z" fill="#fff" stroke="#000" stroke-width="1.2"/>
<path d="M85.66 283.65L89.11 287L85.66 290.35L82.21 287Z" fill="#fff" stroke="#000" stroke-width="1.2"/>
<path d="M81.9 290.45L85.35 293.8L81.9 297.15L78.45 293.8Z" fill="#fff" stroke="#000" stroke-width="1.2"/>
<path d="M78.14 294.25L81.59 297.6L78.14 300.95L74.69 297.6Z" fill="#fff" stroke="#000" stroke-width="1.2"/>
<path d="M74.38 296.85L77.83 300.2L74.38 303.55L70.93 300.2Z" fill="#fff" stroke="#000" stroke-width="1.2"/>
<path d="M70.62 298.75L74.07 302.1L70.62 305.45L67.17 302.1Z" fill="#fff" stroke="#000" stroke-width="1.2"/>
<path d="M66.86 300.05L70.31 303.4L66.86 306.75L63.41 303.4Z" fill="#fff" stroke="#000" stroke-width="1.2"/>
<path d="M63.1 300.65L66.55 304L63.1 307.35L59.65 304Z" fill="#fff" stroke="#000" stroke-width="1.2"/>
<path d="M59.34 301.25L62.79 304.6L59.34 307.95L55.89 304.6Z" fill="#fff" stroke="#000" stroke-width="1.2"/>
<path d="M55.58 301.65L59.03 305L55.58 308.35L52.13 305Z" fill="#fff" stroke="#000" stroke-width="1.2"/>
<path d="M51.82 301.95L55.27 305.3L51.82 308.65L48.37 305.3Z" fill="#fff" stroke="#000" stroke-width="1.2"/>
<path d="M48.06 301.95L51.51 305.3L48.06 308.65L44.61 305.3Z" fill="#fff" stroke="#000" stroke-width="1.2"/>
<path d="M44.3 302.12L47.75 305.47L44.3 308.82L40.85 305.47Z" fill="#fff" stroke="#000" stroke-width="1.2"/>
<path d="M40.54 302.35L43.99 305.7L40.54 309.05L37.09 305.7Z" fill="#fff" stroke="#000" stroke-width="1.2"/>
<path d="M36.78 302.46L40.23 305.81L36.78 309.16L33.33 305.81Z" fill="#fff" stroke="#000" stroke-width="1.2"/>
<path d="M33.02 302.56L36.47 305.91L33.02 309.26L29.57 305.91Z" fill="#fff" stroke="#000" stroke-width="1.2"/>
<path d="M29.26 302.62L32.71 305.97L29.26 309.32L25.81 305.97Z" fill="#fff" stroke="#000" stroke-width="1.2"/>
<path d="M25.5 302.65L28.95 306L25.5 309.35L22.05 306Z" fill="#fff" stroke="#000" stroke-width="1.2"/>
<text transform="translate(51,42.2) scale(1,1.0)" font-size="11.4" text-anchor="start">C1s C-C</text>
<text transform="translate(134.8,123.6) scale(1,1.0)" font-size="11.4" text-anchor="start">C1s C-O</text>
<text transform="translate(180.6,133.1) scale(1,1.0)" font-size="11.4" text-anchor="start">C1s C=O</text>
<rect x="188.7" y="20.5" width="37" height="19.9" fill="#fff" stroke="#444" stroke-width="1"/>
<text transform="translate(191,35.7) scale(1,1.0)" font-size="11.2" text-anchor="start" textLength="31.9" lengthAdjust="spacingAndGlyphs">14 nm</text>
<text transform="translate(54.8,202.9) scale(1,1.0)" font-size="11.4" text-anchor="start">C1s C-C</text>
<text transform="translate(135.4,273.5) scale(1,1.0)" font-size="11.4" text-anchor="start">C1s C-O</text>
<text transform="translate(179,282.2) scale(1,1.0)" font-size="11.4" text-anchor="start">C1s C=O</text>
<rect x="184.2" y="179.5" width="36.8" height="19.6" fill="#fff" stroke="#444" stroke-width="1"/>
<text transform="translate(186,194.6) scale(1,1.0)" font-size="11.2" text-anchor="start" textLength="32.7" lengthAdjust="spacingAndGlyphs">22 nm</text>
<polyline points="301.2,139.76 301.97,139.76 302.75,139.75 303.52,139.74 304.29,139.73 305.07,139.72 305.84,139.71 306.61,139.71 307.39,139.7 308.16,139.69 308.93,139.68 309.71,139.67 310.48,139.66 311.25,139.66 312.03,139.65 312.8,139.64 313.57,139.63 314.35,139.62 315.12,139.61 315.89,139.6 316.67,139.6 317.44,139.59 318.21,139.58 318.99,139.57 319.76,139.56 320.53,139.55 321.31,139.55 322.08,139.54 322.85,139.53 323.63,139.52 324.4,139.51 325.17,139.5 325.95,139.5 326.72,139.49 327.49,139.48 328.27,139.47 329.04,139.46 329.81,139.45 330.59,139.45 331.36,139.44 332.13,139.43 332.91,139.42 333.68,139.41 334.45,139.4 335.23,139.4 336,139.39 336.77,139.38 337.55,139.37 338.32,139.36 339.09,139.35 339.87,139.35 340.64,139.34 341.41,139.33 342.19,139.32 342.96,139.31 343.73,139.3 344.51,139.3 345.28,139.29 346.05,139.28 346.83,139.27 347.6,139.26 348.37,139.25 349.15,139.24 349.92,139.24 350.69,139.23 351.47,139.22 352.24,139.21 353.02,139.2 353.79,139.19 354.56,139.19 355.34,139.18 356.11,139.17 356.88,139.16 357.66,139.15 358.43,139.14 359.2,139.14 359.98,139.13 360.75,139.12 361.52,139.11 362.3,139.1 363.07,139.09 363.84,139.09 364.62,139.08 365.39,139.07 366.16,139.06 366.94,139.05 367.71,139.04 368.48,139.04 369.26,139.03 370.03,139.02 370.8,139.01 371.58,139 372.35,138.99 373.12,138.99 373.9,138.98 374.67,138.97 375.44,138.96 376.22,138.95 376.99,138.94 377.76,138.93 378.54,138.93 379.31,138.92 380.08,138.91 380.86,138.9 381.63,138.89 382.4,138.88 383.18,138.88 383.95,138.87 384.72,138.86 385.5,138.85 386.27,138.84 387.04,138.83 387.82,138.83 388.59,138.82 389.36,138.81 390.14,138.8 390.91,138.79 391.68,138.78 392.46,138.77 393.23,138.76 394,138.76 394.78,138.75 395.55,138.74 396.32,138.73 397.1,138.72 397.87,138.71 398.64,138.69 399.42,138.68 400.19,138.67 400.96,138.66 401.74,138.64 402.51,138.63 403.28,138.61 404.06,138.59 404.83,138.57 405.6,138.55 406.38,138.53 407.15,138.5 407.92,138.47 408.7,138.43 409.47,138.39 410.24,138.35 411.02,138.3 411.79,138.25 412.56,138.18 413.34,138.12 414.11,138.04 414.88,137.95 415.66,137.86 416.43,137.75 417.2,137.63 417.98,137.51 418.75,137.36 419.52,137.21 420.3,137.04 421.07,136.85 421.84,136.65 422.62,136.44 423.39,136.21 424.16,135.96 424.94,135.69 425.71,135.41 426.48,135.12 427.26,134.8 428.03,134.47 428.8,134.13 429.58,133.78 430.35,133.42 431.12,133.04 431.9,132.66 432.67,132.27 433.44,131.88 434.22,131.49 434.99,131.1 435.76,130.72 436.54,130.34 437.31,129.97 438.08,129.62 438.86,129.29 439.63,128.97 440.4,128.67 441.18,128.41 441.95,128.16 442.72,127.95 443.5,127.77 444.27,127.62 445.04,127.51 445.82,127.43 446.59,127.39 447.36,127.39 448.14,127.42 448.91,127.49 449.68,127.6 450.46,127.74 451.23,127.91 452.01,128.12 452.78,128.35 453.55,128.61 454.33,128.89 455.1,129.2 455.87,129.52 456.65,129.86 457.42,130.22 458.19,130.58 458.97,130.95 459.74,131.32 460.51,131.69 461.29,132.07 462.06,132.44 462.83,132.8 463.61,133.16 464.38,133.5 465.15,133.83 465.93,134.15 466.7,134.46 467.47,134.75 468.25,135.03 469.02,135.29 469.79,135.53 470.57,135.76 471.34,135.97 472.11,136.17 472.89,136.34 473.66,136.51 474.43,136.66 475.21,136.79 475.98,136.91 476.75,137.02 477.53,137.12 478.3,137.2 479.07,137.28 479.85,137.35 480.62,137.4 481.39,137.45 482.17,137.5 482.94,137.53 483.71,137.56 484.49,137.59 485.26,137.61 486.03,137.63 486.81,137.64 487.58,137.65 488.35,137.66 489.13,137.66 489.9,137.67 490.67,137.67 491.45,137.67 492.22,137.67 492.99,137.66 493.77,137.66 494.54,137.65 495.31,137.65 496.09,137.64 496.86,137.64 497.63,137.63 498.41,137.62 499.18,137.62 499.95,137.61 500.73,137.6 501.5,137.59" fill="none" stroke="#e02020" stroke-width="1.3" stroke-dasharray="1.6,2" stroke-linecap="butt" stroke-linejoin="round"/>
<polyline points="301.2,138.03 301.97,137.99 302.75,137.95 303.52,137.91 304.29,137.87 305.07,137.83 305.84,137.79 306.61,137.75 307.39,137.71 308.16,137.67 308.93,137.62 309.71,137.58 310.48,137.53 311.25,137.48 312.03,137.43 312.8,137.38 313.57,137.33 314.35,137.28 315.12,137.23 315.89,137.17 316.67,137.11 317.44,137.05 318.21,136.99 318.99,136.93 319.76,136.86 320.53,136.79 321.31,136.72 322.08,136.65 322.85,136.57 323.63,136.49 324.4,136.4 325.17,136.31 325.95,136.22 326.72,136.12 327.49,136.02 328.27,135.91 329.04,135.79 329.81,135.67 330.59,135.53 331.36,135.39 332.13,135.25 332.91,135.09 333.68,134.92 334.45,134.74 335.23,134.54 336,134.33 336.77,134.11 337.55,133.87 338.32,133.61 339.09,133.34 339.87,133.04 340.64,132.72 341.41,132.37 342.19,132 342.96,131.61 343.73,131.18 344.51,130.72 345.28,130.23 346.05,129.7 346.83,129.14 347.6,128.53 348.37,127.88 349.15,127.19 349.92,126.45 350.69,125.66 351.47,124.82 352.24,123.93 353.02,122.98 353.79,121.97 354.56,120.9 355.34,119.77 356.11,118.58 356.88,117.31 357.66,115.99 358.43,114.59 359.2,113.12 359.98,111.59 360.75,109.98 361.52,108.3 362.3,106.55 363.07,104.73 363.84,102.84 364.62,100.88 365.39,98.85 366.16,96.76 366.94,94.6 367.71,92.38 368.48,90.11 369.26,87.78 370.03,85.4 370.8,82.98 371.58,80.52 372.35,78.02 373.12,75.5 373.9,72.96 374.67,70.4 375.44,67.84 376.22,65.29 376.99,62.74 377.76,60.22 378.54,57.72 379.31,55.27 380.08,52.87 380.86,50.54 381.63,48.28 382.4,46.11 383.18,44.03 383.95,42.07 384.72,40.23 385.5,38.53 386.27,36.97 387.04,35.57 387.82,34.34 388.59,33.29 389.36,32.42 390.14,31.74 390.91,31.26 391.68,30.99 392.46,30.92 393.23,31.05 394,31.39 394.78,31.92 395.55,32.66 396.32,33.58 397.1,34.69 397.87,35.97 398.64,37.41 399.42,39.01 400.19,40.75 400.96,42.62 401.74,44.61 402.51,46.71 403.28,48.9 404.06,51.17 404.83,53.51 405.6,55.92 406.38,58.37 407.15,60.86 407.92,63.37 408.7,65.91 409.47,68.45 410.24,71 411.02,73.53 411.79,76.05 412.56,78.54 413.34,81.01 414.11,83.44 414.88,85.83 415.66,88.17 416.43,90.46 417.2,92.7 417.98,94.88 418.75,96.99 419.52,99.04 420.3,101.03 421.07,102.95 421.84,104.79 422.62,106.57 423.39,108.28 424.16,109.91 424.94,111.48 425.71,112.97 426.48,114.39 427.26,115.75 428.03,117.03 428.8,118.25 429.58,119.4 430.35,120.49 431.12,121.52 431.9,122.49 432.67,123.4 433.44,124.26 434.22,125.06 434.99,125.82 435.76,126.52 436.54,127.18 437.31,127.79 438.08,128.37 438.86,128.9 439.63,129.4 440.4,129.86 441.18,130.29 441.95,130.69 442.72,131.06 443.5,131.4 444.27,131.72 445.04,132.01 445.82,132.28 446.59,132.54 447.36,132.77 448.14,132.99 448.91,133.19 449.68,133.37 450.46,133.55 451.23,133.71 452.01,133.86 452.78,133.99 453.55,134.12 454.33,134.24 455.1,134.35 455.87,134.46 456.65,134.56 457.42,134.65 458.19,134.73 458.97,134.81 459.74,134.89 460.51,134.96 461.29,135.03 462.06,135.09 462.83,135.15 463.61,135.2 464.38,135.26 465.15,135.31 465.93,135.36 466.7,135.4 467.47,135.45 468.25,135.49 469.02,135.53 469.79,135.57 470.57,135.61 471.34,135.64 472.11,135.68 472.89,135.71 473.66,135.74 474.43,135.77 475.21,135.8 475.98,135.83 476.75,135.85 477.53,135.88 478.3,135.91 479.07,135.93 479.85,135.95 480.62,135.98 481.39,136 482.17,136.02 482.94,136.04 483.71,136.06 484.49,136.08 485.26,136.1 486.03,136.11 486.81,136.13 487.58,136.15 488.35,136.16 489.13,136.18 489.9,136.19 490.67,136.21 491.45,136.22 492.22,136.24 492.99,136.25 493.77,136.26 494.54,136.27 495.31,136.29 496.09,136.3 496.86,136.31 497.63,136.32 498.41,136.33 499.18,136.34 499.95,136.35 500.73,136.36 501.5,136.36" fill="none" stroke="#e02020" stroke-width="1.3" stroke-dasharray="6,3" stroke-linecap="butt" stroke-linejoin="round"/>
<polyline points="301.2,136.83 301.97,136.79 302.75,136.75 303.52,136.71 304.29,136.67 305.07,136.63 305.84,136.59 306.61,136.55 307.39,136.51 308.16,136.47 308.93,136.42 309.71,136.38 310.48,136.33 311.25,136.28 312.03,136.23 312.8,136.18 313.57,136.13 314.35,136.08 315.12,136.03 315.89,135.97 316.67,135.91 317.44,135.85 318.21,135.79 318.99,135.73 319.76,135.66 320.53,135.59 321.31,135.52 322.08,135.45 322.85,135.37 323.63,135.29 324.4,135.2 325.17,135.11 325.95,135.02 326.72,134.92 327.49,134.82 328.27,134.71 329.04,134.59 329.81,134.47 330.59,134.33 331.36,134.19 332.13,134.05 332.91,133.89 333.68,133.72 334.45,133.54 335.23,133.34 336,133.13 336.77,132.91 337.55,132.67 338.32,132.41 339.09,132.14 339.87,131.84 340.64,131.52 341.41,131.17 342.19,130.8 342.96,130.41 343.73,129.98 344.51,129.52 345.28,129.03 346.05,128.5 346.83,127.94 347.6,127.33 348.37,126.68 349.15,125.99 349.92,125.25 350.69,124.46 351.47,123.62 352.24,122.73 353.02,121.78 353.79,120.77 354.56,119.7 355.34,118.57 356.11,117.38 356.88,116.11 357.66,114.79 358.43,113.39 359.2,111.92 359.98,110.39 360.75,108.78 361.52,107.1 362.3,105.35 363.07,103.53 363.84,101.64 364.62,99.68 365.39,97.65 366.16,95.56 366.94,93.4 367.71,91.18 368.48,88.91 369.26,86.58 370.03,84.2 370.8,81.78 371.58,79.32 372.35,76.82 373.12,74.3 373.9,71.76 374.67,69.2 375.44,66.64 376.22,64.09 376.99,61.54 377.76,59.02 378.54,56.52 379.31,54.07 380.08,51.67 380.86,49.34 381.63,47.08 382.4,44.91 383.18,42.83 383.95,40.87 384.72,39.03 385.5,37.33 386.27,35.77 387.04,34.37 387.82,33.14 388.59,32.09 389.36,31.22 390.14,30.54 390.91,30.06 391.68,29.79 392.46,29.71 393.23,29.85 394,30.18 394.78,30.72 395.55,31.45 396.32,32.37 397.1,33.48 397.87,34.76 398.64,36.2 399.42,37.79 400.19,39.53 400.96,41.39 401.74,43.38 402.51,45.47 403.28,47.65 404.06,49.91 404.83,52.24 405.6,54.63 406.38,57.07 407.15,59.54 407.92,62.03 408.7,64.54 409.47,67.05 410.24,69.56 411.02,72.06 411.79,74.53 412.56,76.97 413.34,79.38 414.11,81.74 414.88,84.05 415.66,86.3 416.43,88.5 417.2,90.62 417.98,92.68 418.75,94.66 419.52,96.57 420.3,98.39 421.07,100.14 421.84,101.79 422.62,103.36 423.39,104.84 424.16,106.24 424.94,107.55 425.71,108.77 426.48,109.9 427.26,110.95 428.03,111.92 428.8,112.8 429.58,113.61 430.35,114.34 431.12,115.01 431.9,115.6 432.67,116.13 433.44,116.61 434.22,117.03 434.99,117.4 435.76,117.73 436.54,118.02 437.31,118.28 438.08,118.51 438.86,118.71 439.63,118.9 440.4,119.08 441.18,119.25 441.95,119.41 442.72,119.58 443.5,119.75 444.27,119.93 445.04,120.12 445.82,120.32 446.59,120.54 447.36,120.78 448.14,121.04 448.91,121.32 449.68,121.62 450.46,121.94 451.23,122.28 452.01,122.64 452.78,123.02 453.55,123.42 454.33,123.83 455.1,124.26 455.87,124.69 456.65,125.14 457.42,125.59 458.19,126.05 458.97,126.5 459.74,126.96 460.51,127.41 461.29,127.86 462.06,128.3 462.83,128.73 463.61,129.15 464.38,129.56 465.15,129.95 465.93,130.33 466.7,130.69 467.47,131.04 468.25,131.36 469.02,131.67 469.79,131.96 470.57,132.24 471.34,132.49 472.11,132.73 472.89,132.95 473.66,133.15 474.43,133.34 475.21,133.51 475.98,133.67 476.75,133.81 477.53,133.94 478.3,134.06 479.07,134.17 479.85,134.27 480.62,134.36 481.39,134.44 482.17,134.51 482.94,134.58 483.71,134.64 484.49,134.69 485.26,134.74 486.03,134.78 486.81,134.82 487.58,134.85 488.35,134.89 489.13,134.91 489.9,134.94 490.67,134.96 491.45,134.99 492.22,135.01 492.99,135.02 493.77,135.04 494.54,135.06 495.31,135.07 496.09,135.09 496.86,135.1 497.63,135.11 498.41,135.12 499.18,135.13 499.95,135.14 500.73,135.15 501.5,135.16" fill="none" stroke="#e02020" stroke-width="1.3" stroke-dasharray="6,3" stroke-linecap="butt" stroke-linejoin="round"/>
<circle cx="501.7" cy="132.4" r="2.55" fill="#e3242b" stroke="#3a0000" stroke-width="1.2"/>
<circle cx="497.24" cy="134.6" r="2.55" fill="#e3242b" stroke="#3a0000" stroke-width="1.2"/>
<circle cx="492.78" cy="135.5" r="2.55" fill="#e3242b" stroke="#3a0000" stroke-width="1.2"/>
<circle cx="488.32" cy="136.2" r="2.55" fill="#e3242b" stroke="#3a0000" stroke-width="1.2"/>
<circle cx="483.86" cy="135.9" r="2.55" fill="#e3242b" stroke="#3a0000" stroke-width="1.2"/>
<circle cx="479.4" cy="135" r="2.55" fill="#e3242b" stroke="#3a0000" stroke-width="1.2"/>
<circle cx="474.94" cy="133.9" r="2.55" fill="#e3242b" stroke="#3a0000" stroke-width="1.2"/>
<circle cx="470.48" cy="132.2" r="2.55" fill="#e3242b" stroke="#3a0000" stroke-width="1.2"/>
<circle cx="466.02" cy="130" r="2.55" fill="#e3242b" stroke="#3a0000" stroke-width="1.2"/>
<circle cx="461.56" cy="127.5" r="2.55" fill="#e3242b" stroke="#3a0000" stroke-width="1.2"/>
<circle cx="457.1" cy="125.3" r="2.55" fill="#e3242b" stroke="#3a0000" stroke-width="1.2"/>
<circle cx="452.64" cy="123.1" r="2.55" fill="#e3242b" stroke="#3a0000" stroke-width="1.2"/>
<circle cx="448.18" cy="121.3" r="2.55" fill="#e3242b" stroke="#3a0000" stroke-width="1.2"/>
<circle cx="443.72" cy="120.2" r="2.55" fill="#e3242b" stroke="#3a0000" stroke-width="1.2"/>
<circle cx="439.26" cy="118.7" r="2.55" fill="#e3242b" stroke="#3a0000" stroke-width="1.2"/>
<circle cx="434.8" cy="116.9" r="2.55" fill="#e3242b" stroke="#3a0000" stroke-width="1.2"/>
<circle cx="430.34" cy="114" r="2.55" fill="#e3242b" stroke="#3a0000" stroke-width="1.2"/>
<circle cx="425.88" cy="109.2" r="2.55" fill="#e3242b" stroke="#3a0000" stroke-width="1.2"/>
<circle cx="421.42" cy="101.2" r="2.55" fill="#e3242b" stroke="#3a0000" stroke-width="1.2"/>
<circle cx="416.96" cy="90.4" r="2.55" fill="#e3242b" stroke="#3a0000" stroke-width="1.2"/>
<circle cx="412.5" cy="76.6" r="2.55" fill="#e3242b" stroke="#3a0000" stroke-width="1.2"/>
<circle cx="408.04" cy="62" r="2.55" fill="#e3242b" stroke="#3a0000" stroke-width="1.2"/>
<circle cx="403.58" cy="48.3" r="2.55" fill="#e3242b" stroke="#3a0000" stroke-width="1.2"/>
<circle cx="399.12" cy="37.3" r="2.55" fill="#e3242b" stroke="#3a0000" stroke-width="1.2"/>
<circle cx="394.66" cy="30.8" r="2.55" fill="#e3242b" stroke="#3a0000" stroke-width="1.2"/>
<circle cx="390.2" cy="30.7" r="2.55" fill="#e3242b" stroke="#3a0000" stroke-width="1.2"/>
<circle cx="385.74" cy="36.9" r="2.55" fill="#e3242b" stroke="#3a0000" stroke-width="1.2"/>
<circle cx="381.28" cy="47.9" r="2.55" fill="#e3242b" stroke="#3a0000" stroke-width="1.2"/>
<circle cx="376.82" cy="61.7" r="2.55" fill="#e3242b" stroke="#3a0000" stroke-width="1.2"/>
<circle cx="372.36" cy="76.7" r="2.55" fill="#e3242b" stroke="#3a0000" stroke-width="1.2"/>
<circle cx="367.9" cy="90.8" r="2.55" fill="#e3242b" stroke="#3a0000" stroke-width="1.2"/>
<circle cx="363.44" cy="103.1" r="2.55" fill="#e3242b" stroke="#3a0000" stroke-width="1.2"/>
<circle cx="358.98" cy="112.7" r="2.55" fill="#e3242b" stroke="#3a0000" stroke-width="1.2"/>
<circle cx="354.52" cy="119.6" r="2.55" fill="#e3242b" stroke="#3a0000" stroke-width="1.2"/>
<circle cx="350.06" cy="124.8" r="2.55" fill="#e3242b" stroke="#3a0000" stroke-width="1.2"/>
<circle cx="345.6" cy="128.7" r="2.55" fill="#e3242b" stroke="#3a0000" stroke-width="1.2"/>
<circle cx="341.14" cy="131" r="2.55" fill="#e3242b" stroke="#3a0000" stroke-width="1.2"/>
<circle cx="336.68" cy="132.5" r="2.55" fill="#e3242b" stroke="#3a0000" stroke-width="1.2"/>
<circle cx="332.22" cy="133.7" r="2.55" fill="#e3242b" stroke="#3a0000" stroke-width="1.2"/>
<circle cx="327.76" cy="134.6" r="2.55" fill="#e3242b" stroke="#3a0000" stroke-width="1.2"/>
<circle cx="323.3" cy="135.4" r="2.55" fill="#e3242b" stroke="#3a0000" stroke-width="1.2"/>
<circle cx="318.84" cy="136" r="2.55" fill="#e3242b" stroke="#3a0000" stroke-width="1.2"/>
<circle cx="314.38" cy="136.3" r="2.55" fill="#e3242b" stroke="#3a0000" stroke-width="1.2"/>
<circle cx="309.92" cy="136.5" r="2.55" fill="#e3242b" stroke="#3a0000" stroke-width="1.2"/>
<circle cx="305.46" cy="136.7" r="2.55" fill="#e3242b" stroke="#3a0000" stroke-width="1.2"/>
<circle cx="301" cy="136.9" r="2.55" fill="#e3242b" stroke="#3a0000" stroke-width="1.2"/>
<polyline points="301.2,294.05 301.97,294.04 302.75,294.02 303.52,294.01 304.29,293.99 305.07,293.97 305.84,293.96 306.61,293.94 307.39,293.93 308.16,293.91 308.93,293.89 309.71,293.88 310.48,293.86 311.25,293.85 312.03,293.83 312.8,293.81 313.57,293.8 314.35,293.78 315.12,293.76 315.89,293.75 316.67,293.73 317.44,293.71 318.21,293.7 318.99,293.68 319.76,293.66 320.53,293.65 321.31,293.63 322.08,293.61 322.85,293.59 323.63,293.58 324.4,293.56 325.17,293.54 325.95,293.52 326.72,293.51 327.49,293.49 328.27,293.47 329.04,293.45 329.81,293.44 330.59,293.42 331.36,293.4 332.13,293.38 332.91,293.36 333.68,293.35 334.45,293.33 335.23,293.31 336,293.29 336.77,293.27 337.55,293.25 338.32,293.23 339.09,293.22 339.87,293.2 340.64,293.18 341.41,293.16 342.19,293.14 342.96,293.12 343.73,293.1 344.51,293.08 345.28,293.06 346.05,293.04 346.83,293.02 347.6,293 348.37,292.98 349.15,292.96 349.92,292.94 350.69,292.92 351.47,292.89 352.24,292.87 353.02,292.85 353.79,292.83 354.56,292.81 355.34,292.78 356.11,292.76 356.88,292.74 357.66,292.72 358.43,292.69 359.2,292.67 359.98,292.65 360.75,292.62 361.52,292.6 362.3,292.57 363.07,292.55 363.84,292.52 364.62,292.5 365.39,292.47 366.16,292.45 366.94,292.42 367.71,292.39 368.48,292.37 369.26,292.34 370.03,292.31 370.8,292.28 371.58,292.25 372.35,292.23 373.12,292.2 373.9,292.17 374.67,292.14 375.44,292.1 376.22,292.07 376.99,292.04 377.76,292.01 378.54,291.97 379.31,291.94 380.08,291.9 380.86,291.87 381.63,291.83 382.4,291.8 383.18,291.76 383.95,291.72 384.72,291.68 385.5,291.64 386.27,291.6 387.04,291.55 387.82,291.51 388.59,291.47 389.36,291.42 390.14,291.37 390.91,291.33 391.68,291.28 392.46,291.22 393.23,291.17 394,291.12 394.78,291.06 395.55,291 396.32,290.94 397.1,290.88 397.87,290.82 398.64,290.75 399.42,290.68 400.19,290.61 400.96,290.54 401.74,290.46 402.51,290.38 403.28,290.3 404.06,290.21 404.83,290.12 405.6,290.03 406.38,289.93 407.15,289.83 407.92,289.72 408.7,289.61 409.47,289.49 410.24,289.37 411.02,289.25 411.79,289.11 412.56,288.97 413.34,288.83 414.11,288.67 414.88,288.51 415.66,288.35 416.43,288.17 417.2,287.99 417.98,287.79 418.75,287.59 419.52,287.38 420.3,287.16 421.07,286.92 421.84,286.68 422.62,286.43 423.39,286.16 424.16,285.89 424.94,285.6 425.71,285.3 426.48,284.99 427.26,284.66 428.03,284.33 428.8,283.99 429.58,283.63 430.35,283.27 431.12,282.9 431.9,282.52 432.67,282.13 433.44,281.75 434.22,281.36 434.99,280.98 435.76,280.61 436.54,280.24 437.31,279.89 438.08,279.56 438.86,279.25 439.63,278.97 440.4,278.72 441.18,278.5 441.95,278.33 442.72,278.19 443.5,278.11 444.27,278.07 445.04,278.07 445.82,278.12 446.59,278.22 447.36,278.36 448.14,278.54 448.91,278.76 449.68,279.01 450.46,279.29 451.23,279.59 452.01,279.91 452.78,280.24 453.55,280.59 454.33,280.94 455.1,281.3 455.87,281.66 456.65,282.02 457.42,282.37 458.19,282.71 458.97,283.05 459.74,283.38 460.51,283.7 461.29,284.01 462.06,284.31 462.83,284.59 463.61,284.87 464.38,285.13 465.15,285.38 465.93,285.62 466.7,285.85 467.47,286.07 468.25,286.27 469.02,286.47 469.79,286.66 470.57,286.83 471.34,287 472.11,287.16 472.89,287.31 473.66,287.45 474.43,287.59 475.21,287.71 475.98,287.83 476.75,287.95 477.53,288.05 478.3,288.15 479.07,288.25 479.85,288.34 480.62,288.42 481.39,288.5 482.17,288.58 482.94,288.65 483.71,288.72 484.49,288.78 485.26,288.84 486.03,288.9 486.81,288.95 487.58,289 488.35,289.05 489.13,289.09 489.9,289.13 490.67,289.17 491.45,289.21 492.22,289.25 492.99,289.28 493.77,289.31 494.54,289.34 495.31,289.37 496.09,289.39 496.86,289.42 497.63,289.44 498.41,289.46 499.18,289.48 499.95,289.5 500.73,289.52 501.5,289.53" fill="none" stroke="#e02020" stroke-width="1.3" stroke-dasharray="1.6,2" stroke-linecap="butt" stroke-linejoin="round"/>
<polyline points="301.2,292.94 301.97,292.9 302.75,292.87 303.52,292.83 304.29,292.8 305.07,292.76 305.84,292.72 306.61,292.69 307.39,292.65 308.16,292.61 308.93,292.57 309.71,292.53 310.48,292.49 311.25,292.45 312.03,292.41 312.8,292.37 313.57,292.33 314.35,292.28 315.12,292.24 315.89,292.19 316.67,292.15 317.44,292.1 318.21,292.05 318.99,292 319.76,291.95 320.53,291.9 321.31,291.85 322.08,291.8 322.85,291.75 323.63,291.69 324.4,291.63 325.17,291.58 325.95,291.52 326.72,291.46 327.49,291.39 328.27,291.33 329.04,291.26 329.81,291.2 330.59,291.13 331.36,291.06 332.13,290.98 332.91,290.91 333.68,290.83 334.45,290.75 335.23,290.66 336,290.58 336.77,290.48 337.55,290.39 338.32,290.29 339.09,290.19 339.87,290.08 340.64,289.96 341.41,289.84 342.19,289.71 342.96,289.58 343.73,289.43 344.51,289.28 345.28,289.12 346.05,288.94 346.83,288.75 347.6,288.55 348.37,288.34 349.15,288.1 349.92,287.85 350.69,287.58 351.47,287.28 352.24,286.96 353.02,286.62 353.79,286.24 354.56,285.83 355.34,285.39 356.11,284.91 356.88,284.39 357.66,283.82 358.43,283.2 359.2,282.54 359.98,281.82 360.75,281.04 361.52,280.19 362.3,279.28 363.07,278.3 363.84,277.25 364.62,276.11 365.39,274.9 366.16,273.6 366.94,272.2 367.71,270.72 368.48,269.14 369.26,267.46 370.03,265.67 370.8,263.79 371.58,261.8 372.35,259.7 373.12,257.5 373.9,255.2 374.67,252.79 375.44,250.27 376.22,247.66 376.99,244.94 377.76,242.14 378.54,239.25 379.31,236.27 380.08,233.22 380.86,230.11 381.63,226.93 382.4,223.71 383.18,220.45 383.95,217.17 384.72,213.87 385.5,210.58 386.27,207.3 387.04,204.06 387.82,200.88 388.59,197.76 389.36,194.74 390.14,191.82 390.91,189.03 391.68,186.4 392.46,183.94 393.23,181.67 394,179.62 394.78,177.81 395.55,176.24 396.32,174.95 397.1,173.93 397.87,173.21 398.64,172.8 399.42,172.69 400.19,172.88 400.96,173.39 401.74,174.19 402.51,175.28 403.28,176.65 404.06,178.28 404.83,180.16 405.6,182.27 406.38,184.58 407.15,187.08 407.92,189.75 408.7,192.55 409.47,195.49 410.24,198.52 411.02,201.64 411.79,204.82 412.56,208.05 413.34,211.3 414.11,214.57 414.88,217.83 415.66,221.08 416.43,224.3 417.2,227.48 417.98,230.61 418.75,233.67 419.52,236.67 420.3,239.59 421.07,242.42 421.84,245.17 422.62,247.82 423.39,250.37 424.16,252.82 424.94,255.16 425.71,257.4 426.48,259.54 427.26,261.56 428.03,263.49 428.8,265.31 429.58,267.02 430.35,268.64 431.12,270.16 431.9,271.58 432.67,272.91 433.44,274.15 434.22,275.31 434.99,276.39 435.76,277.39 436.54,278.32 437.31,279.17 438.08,279.97 438.86,280.7 439.63,281.37 440.4,281.99 441.18,282.56 441.95,283.08 442.72,283.56 443.5,284 444.27,284.4 445.04,284.77 445.82,285.11 446.59,285.42 447.36,285.7 448.14,285.96 448.91,286.2 449.68,286.42 450.46,286.61 451.23,286.8 452.01,286.97 452.78,287.12 453.55,287.27 454.33,287.4 455.1,287.52 455.87,287.63 456.65,287.74 457.42,287.84 458.19,287.93 458.97,288.02 459.74,288.1 460.51,288.17 461.29,288.24 462.06,288.31 462.83,288.37 463.61,288.43 464.38,288.48 465.15,288.54 465.93,288.59 466.7,288.64 467.47,288.68 468.25,288.72 469.02,288.77 469.79,288.81 470.57,288.84 471.34,288.88 472.11,288.91 472.89,288.95 473.66,288.98 474.43,289.01 475.21,289.04 475.98,289.06 476.75,289.09 477.53,289.11 478.3,289.14 479.07,289.16 479.85,289.18 480.62,289.2 481.39,289.23 482.17,289.24 482.94,289.26 483.71,289.28 484.49,289.3 485.26,289.31 486.03,289.33 486.81,289.34 487.58,289.36 488.35,289.37 489.13,289.38 489.9,289.39 490.67,289.41 491.45,289.42 492.22,289.43 492.99,289.44 493.77,289.45 494.54,289.45 495.31,289.46 496.09,289.47 496.86,289.48 497.63,289.48 498.41,289.49 499.18,289.49 499.95,289.5 500.73,289.51 501.5,289.51" fill="none" stroke="#e02020" stroke-width="1.3" stroke-linecap="butt" stroke-linejoin="round"/>
<polyline points="301.2,292.73 301.97,292.69 302.75,292.66 303.52,292.62 304.29,292.58 305.07,292.54 305.84,292.5 306.61,292.46 307.39,292.42 308.16,292.38 308.93,292.34 309.71,292.3 310.48,292.26 311.25,292.21 312.03,292.17 312.8,292.12 313.57,292.08 314.35,292.03 315.12,291.98 315.89,291.94 316.67,291.89 317.44,291.84 318.21,291.79 318.99,291.73 319.76,291.68 320.53,291.63 321.31,291.57 322.08,291.52 322.85,291.46 323.63,291.4 324.4,291.34 325.17,291.28 325.95,291.22 326.72,291.15 327.49,291.09 328.27,291.02 329.04,290.95 329.81,290.88 330.59,290.8 331.36,290.73 332.13,290.65 332.91,290.57 333.68,290.49 334.45,290.4 335.23,290.31 336,290.22 336.77,290.12 337.55,290.02 338.32,289.92 339.09,289.81 339.87,289.69 340.64,289.57 341.41,289.45 342.19,289.31 342.96,289.17 343.73,289.02 344.51,288.86 345.28,288.69 346.05,288.51 346.83,288.31 347.6,288.11 348.37,287.88 349.15,287.64 349.92,287.38 350.69,287.1 351.47,286.8 352.24,286.47 353.02,286.12 353.79,285.73 354.56,285.32 355.34,284.87 356.11,284.38 356.88,283.84 357.66,283.27 358.43,282.64 359.2,281.97 359.98,281.24 360.75,280.45 361.52,279.59 362.3,278.67 363.07,277.68 363.84,276.61 364.62,275.47 365.39,274.24 366.16,272.92 366.94,271.52 367.71,270.02 368.48,268.43 369.26,266.73 370.03,264.94 370.8,263.04 371.58,261.03 372.35,258.92 373.12,256.7 373.9,254.38 374.67,251.95 375.44,249.42 376.22,246.79 376.99,244.06 377.76,241.23 378.54,238.32 379.31,235.33 380.08,232.25 380.86,229.12 381.63,225.92 382.4,222.67 383.18,219.39 383.95,216.08 384.72,212.76 385.5,209.44 386.27,206.14 387.04,202.87 387.82,199.65 388.59,196.51 389.36,193.45 390.14,190.5 390.91,187.68 391.68,185.01 392.46,182.51 393.23,180.2 394,178.11 394.78,176.25 395.55,174.64 396.32,173.3 397.1,172.24 397.87,171.47 398.64,171 399.42,170.84 400.19,170.98 400.96,171.42 401.74,172.16 402.51,173.18 403.28,174.48 404.06,176.04 404.83,177.85 405.6,179.87 406.38,182.1 407.15,184.51 407.92,187.08 408.7,189.8 409.47,192.63 410.24,195.55 411.02,198.56 411.79,201.62 412.56,204.72 413.34,207.84 414.11,210.97 414.88,214.09 415.66,217.18 416.43,220.24 417.2,223.25 417.98,226.2 418.75,229.07 419.52,231.87 420.3,234.58 421.07,237.2 421.84,239.71 422.62,242.12 423.39,244.42 424.16,246.6 424.94,248.68 425.71,250.63 426.48,252.47 427.26,254.19 428.03,255.79 428.8,257.28 429.58,258.65 430.35,259.92 431.12,261.08 431.9,262.14 432.67,263.1 433.44,263.97 434.22,264.76 434.99,265.47 435.76,266.11 436.54,266.68 437.31,267.2 438.08,267.67 438.86,268.11 439.63,268.51 440.4,268.9 441.18,269.26 441.95,269.62 442.72,269.98 443.5,270.35 444.27,270.73 445.04,271.11 445.82,271.52 446.59,271.94 447.36,272.37 448.14,272.83 448.91,273.3 449.68,273.78 450.46,274.27 451.23,274.77 452.01,275.27 452.78,275.77 453.55,276.28 454.33,276.78 455.1,277.27 455.87,277.76 456.65,278.23 457.42,278.7 458.19,279.15 458.97,279.58 459.74,280.01 460.51,280.41 461.29,280.81 462.06,281.18 462.83,281.55 463.61,281.89 464.38,282.23 465.15,282.54 465.93,282.85 466.7,283.14 467.47,283.41 468.25,283.68 469.02,283.93 469.79,284.17 470.57,284.4 471.34,284.61 472.11,284.82 472.89,285.02 473.66,285.2 474.43,285.38 475.21,285.55 475.98,285.71 476.75,285.87 477.53,286.01 478.3,286.15 479.07,286.28 479.85,286.41 480.62,286.53 481.39,286.64 482.17,286.75 482.94,286.85 483.71,286.95 484.49,287.04 485.26,287.13 486.03,287.22 486.81,287.3 487.58,287.38 488.35,287.45 489.13,287.52 489.9,287.59 490.67,287.65 491.45,287.72 492.22,287.77 492.99,287.83 493.77,287.88 494.54,287.94 495.31,287.99 496.09,288.03 496.86,288.08 497.63,288.12 498.41,288.16 499.18,288.2 499.95,288.24 500.73,288.27 501.5,288.31" fill="none" stroke="#e02020" stroke-width="1.3" stroke-linecap="butt" stroke-linejoin="round"/>
<path d="M501.7 284.95L505.05 288.3L501.7 291.65L498.35 288.3Z" fill="#cc1426" stroke="#3a0000" stroke-width="1.2"/>
<path d="M497.24 284.75L500.59 288.1L497.24 291.45L493.89 288.1Z" fill="#cc1426" stroke="#3a0000" stroke-width="1.2"/>
<path d="M492.78 284.55L496.13 287.9L492.78 291.25L489.43 287.9Z" fill="#cc1426" stroke="#3a0000" stroke-width="1.2"/>
<path d="M488.32 284.05L491.67 287.4L488.32 290.75L484.97 287.4Z" fill="#cc1426" stroke="#3a0000" stroke-width="1.2"/>
<path d="M483.86 283.55L487.21 286.9L483.86 290.25L480.51 286.9Z" fill="#cc1426" stroke="#3a0000" stroke-width="1.2"/>
<path d="M479.4 282.85L482.75 286.2L479.4 289.55L476.05 286.2Z" fill="#cc1426" stroke="#3a0000" stroke-width="1.2"/>
<path d="M474.94 282.15L478.29 285.5L474.94 288.85L471.59 285.5Z" fill="#cc1426" stroke="#3a0000" stroke-width="1.2"/>
<path d="M470.48 281.15L473.83 284.5L470.48 287.85L467.13 284.5Z" fill="#cc1426" stroke="#3a0000" stroke-width="1.2"/>
<path d="M466.02 279.75L469.37 283.1L466.02 286.45L462.67 283.1Z" fill="#cc1426" stroke="#3a0000" stroke-width="1.2"/>
<path d="M461.56 277.55L464.91 280.9L461.56 284.25L458.21 280.9Z" fill="#cc1426" stroke="#3a0000" stroke-width="1.2"/>
<path d="M457.1 275.15L460.45 278.5L457.1 281.85L453.75 278.5Z" fill="#cc1426" stroke="#3a0000" stroke-width="1.2"/>
<path d="M452.64 272.05L455.99 275.4L452.64 278.75L449.29 275.4Z" fill="#cc1426" stroke="#3a0000" stroke-width="1.2"/>
<path d="M448.18 269.65L451.53 273L448.18 276.35L444.83 273Z" fill="#cc1426" stroke="#3a0000" stroke-width="1.2"/>
<path d="M443.72 267.25L447.07 270.6L443.72 273.95L440.37 270.6Z" fill="#cc1426" stroke="#3a0000" stroke-width="1.2"/>
<path d="M439.26 264.85L442.61 268.2L439.26 271.55L435.91 268.2Z" fill="#cc1426" stroke="#3a0000" stroke-width="1.2"/>
<path d="M434.8 261.95L438.15 265.3L434.8 268.65L431.45 265.3Z" fill="#cc1426" stroke="#3a0000" stroke-width="1.2"/>
<path d="M430.34 256.45L433.69 259.8L430.34 263.15L426.99 259.8Z" fill="#cc1426" stroke="#3a0000" stroke-width="1.2"/>
<path d="M425.88 247.95L429.23 251.3L425.88 254.65L422.53 251.3Z" fill="#cc1426" stroke="#3a0000" stroke-width="1.2"/>
<path d="M421.42 234.75L424.77 238.1L421.42 241.45L418.07 238.1Z" fill="#cc1426" stroke="#3a0000" stroke-width="1.2"/>
<path d="M416.96 219.15L420.31 222.5L416.96 225.85L413.61 222.5Z" fill="#cc1426" stroke="#3a0000" stroke-width="1.2"/>
<path d="M412.5 201.15L415.85 204.5L412.5 207.85L409.15 204.5Z" fill="#cc1426" stroke="#3a0000" stroke-width="1.2"/>
<path d="M408.04 183.55L411.39 186.9L408.04 190.25L404.69 186.9Z" fill="#cc1426" stroke="#3a0000" stroke-width="1.2"/>
<path d="M403.58 172.25L406.93 175.6L403.58 178.95L400.23 175.6Z" fill="#cc1426" stroke="#3a0000" stroke-width="1.2"/>
<path d="M399.12 167.45L402.47 170.8L399.12 174.15L395.77 170.8Z" fill="#cc1426" stroke="#3a0000" stroke-width="1.2"/>
<path d="M394.66 173.45L398.01 176.8L394.66 180.15L391.31 176.8Z" fill="#cc1426" stroke="#3a0000" stroke-width="1.2"/>
<path d="M390.2 186.65L393.55 190L390.2 193.35L386.85 190Z" fill="#cc1426" stroke="#3a0000" stroke-width="1.2"/>
<path d="M385.74 204.65L389.09 208L385.74 211.35L382.39 208Z" fill="#cc1426" stroke="#3a0000" stroke-width="1.2"/>
<path d="M381.28 224.05L384.63 227.4L381.28 230.75L377.93 227.4Z" fill="#cc1426" stroke="#3a0000" stroke-width="1.2"/>
<path d="M376.82 241.45L380.17 244.8L376.82 248.15L373.47 244.8Z" fill="#cc1426" stroke="#3a0000" stroke-width="1.2"/>
<path d="M372.36 255.85L375.71 259.2L372.36 262.55L369.01 259.2Z" fill="#cc1426" stroke="#3a0000" stroke-width="1.2"/>
<path d="M367.9 266.85L371.25 270.2L367.9 273.55L364.55 270.2Z" fill="#cc1426" stroke="#3a0000" stroke-width="1.2"/>
<path d="M363.44 273.75L366.79 277.1L363.44 280.45L360.09 277.1Z" fill="#cc1426" stroke="#3a0000" stroke-width="1.2"/>
<path d="M358.98 278.25L362.33 281.6L358.98 284.95L355.63 281.6Z" fill="#cc1426" stroke="#3a0000" stroke-width="1.2"/>
<path d="M354.52 281.35L357.87 284.7L354.52 288.05L351.17 284.7Z" fill="#cc1426" stroke="#3a0000" stroke-width="1.2"/>
<path d="M350.06 283.55L353.41 286.9L350.06 290.25L346.71 286.9Z" fill="#cc1426" stroke="#3a0000" stroke-width="1.2"/>
<path d="M345.6 285.15L348.95 288.5L345.6 291.85L342.25 288.5Z" fill="#cc1426" stroke="#3a0000" stroke-width="1.2"/>
<path d="M341.14 286.45L344.49 289.8L341.14 293.15L337.79 289.8Z" fill="#cc1426" stroke="#3a0000" stroke-width="1.2"/>
<path d="M336.68 287.15L340.03 290.5L336.68 293.85L333.33 290.5Z" fill="#cc1426" stroke="#3a0000" stroke-width="1.2"/>
<path d="M332.22 287.65L335.57 291L332.22 294.35L328.87 291Z" fill="#cc1426" stroke="#3a0000" stroke-width="1.2"/>
<path d="M327.76 288.15L331.11 291.5L327.76 294.85L324.41 291.5Z" fill="#cc1426" stroke="#3a0000" stroke-width="1.2"/>
<path d="M323.3 288.35L326.65 291.7L323.3 295.05L319.95 291.7Z" fill="#cc1426" stroke="#3a0000" stroke-width="1.2"/>
<path d="M318.84 288.55L322.19 291.9L318.84 295.25L315.49 291.9Z" fill="#cc1426" stroke="#3a0000" stroke-width="1.2"/>
<path d="M314.38 288.55L317.73 291.9L314.38 295.25L311.03 291.9Z" fill="#cc1426" stroke="#3a0000" stroke-width="1.2"/>
<path d="M309.92 288.75L313.27 292.1L309.92 295.45L306.57 292.1Z" fill="#cc1426" stroke="#3a0000" stroke-width="1.2"/>
<path d="M305.46 288.95L308.81 292.3L305.46 295.65L302.11 292.3Z" fill="#cc1426" stroke="#3a0000" stroke-width="1.2"/>
<path d="M301 289.15L304.35 292.5L301 295.85L297.65 292.5Z" fill="#cc1426" stroke="#3a0000" stroke-width="1.2"/>
<text transform="translate(405,36.6) scale(1,1.03)" font-size="11" text-anchor="start">O1s</text>
<rect x="460.6" y="21.3" width="34.6" height="18.2" fill="#fff" stroke="#444" stroke-width="1"/>
<text transform="translate(462.6,35) scale(1,1.0)" font-size="11.2" text-anchor="start" textLength="30.1" lengthAdjust="spacingAndGlyphs">14 nm</text>
<text transform="translate(429.6,91) scale(1,1.0)" font-size="11" text-anchor="start">Non-lattice</text>
<text transform="translate(440.8,105.2) scale(1,1.0)" font-size="11" text-anchor="start">oxygen</text>
<text transform="translate(413,187) scale(1,1.03)" font-size="11" text-anchor="start">O1s</text>
<rect x="460.6" y="173.3" width="34.6" height="18.2" fill="#fff" stroke="#444" stroke-width="1"/>
<text transform="translate(462.6,187.3) scale(1,1.0)" font-size="11.2" text-anchor="start" textLength="30.1" lengthAdjust="spacingAndGlyphs">22 nm</text>
<text transform="translate(435.6,248.3) scale(1,1.0)" font-size="11" text-anchor="start">Non-lattice</text>
<text transform="translate(446,263.4) scale(1,1.0)" font-size="11" text-anchor="start">oxygen</text>
<polyline points="32.8,528.2 33.47,528.16 34.13,528.13 34.8,528.1 35.46,528.06 36.13,528.03 36.79,527.99 37.46,527.96 38.12,527.92 38.79,527.88 39.46,527.84 40.12,527.8 40.79,527.76 41.45,527.71 42.12,527.67 42.78,527.63 43.45,527.58 44.11,527.53 44.78,527.48 45.45,527.43 46.11,527.38 46.78,527.33 47.44,527.28 48.11,527.22 48.77,527.17 49.44,527.11 50.1,527.05 50.77,526.99 51.44,526.92 52.1,526.86 52.77,526.79 53.43,526.72 54.1,526.65 54.76,526.58 55.43,526.5 56.09,526.42 56.76,526.34 57.43,526.26 58.09,526.17 58.76,526.08 59.42,525.99 60.09,525.9 60.75,525.8 61.42,525.69 62.08,525.58 62.75,525.47 63.42,525.35 64.08,525.23 64.75,525.1 65.41,524.96 66.08,524.82 66.74,524.67 67.41,524.51 68.07,524.35 68.74,524.17 69.41,523.98 70.07,523.78 70.74,523.56 71.4,523.33 72.07,523.09 72.73,522.82 73.4,522.54 74.06,522.24 74.73,521.91 75.4,521.55 76.06,521.17 76.73,520.76 77.39,520.31 78.06,519.83 78.72,519.3 79.39,518.74 80.05,518.12 80.72,517.46 81.39,516.74 82.05,515.97 82.72,515.13 83.38,514.22 84.05,513.25 84.71,512.2 85.38,511.06 86.04,509.85 86.71,508.55 87.38,507.16 88.04,505.67 88.71,504.08 89.37,502.38 90.04,500.59 90.7,498.68 91.37,496.66 92.03,494.53 92.7,492.28 93.37,489.92 94.03,487.45 94.7,484.86 95.36,482.16 96.03,479.35 96.69,476.44 97.36,473.42 98.02,470.31 98.69,467.11 99.36,463.83 100.02,460.47 100.69,457.05 101.35,453.59 102.02,450.08 102.68,446.54 103.35,443 104.01,439.47 104.68,435.96 105.35,432.49 106.01,429.1 106.68,425.79 107.34,422.59 108.01,419.53 108.67,416.62 109.34,413.91 110,411.4 110.67,409.13 111.34,407.12 112,405.38 112.67,403.94 113.33,402.8 114,401.99 114.66,401.49 115.33,401.32 115.99,401.46 116.66,401.92 117.33,402.67 117.99,403.69 118.66,404.97 119.32,406.48 119.99,408.19 120.65,410.08 121.32,412.11 121.98,414.25 122.65,416.49 123.32,418.78 123.98,421.11 124.65,423.43 125.31,425.74 125.98,428.01 126.64,430.21 127.31,432.32 127.97,434.33 128.64,436.22 129.31,437.98 129.97,439.59 130.64,441.04 131.3,442.33 131.97,443.44 132.63,444.37 133.3,445.11 133.96,445.67 134.63,446.04 135.29,446.23 135.96,446.23 136.63,446.05 137.29,445.7 137.96,445.19 138.62,444.52 139.29,443.71 139.95,442.77 140.62,441.71 141.28,440.54 141.95,439.3 142.62,437.98 143.28,436.62 143.95,435.23 144.61,433.83 145.28,432.45 145.94,431.11 146.61,429.83 147.27,428.64 147.94,427.55 148.61,426.59 149.27,425.79 149.94,425.15 150.6,424.71 151.27,424.46 151.93,424.43 152.6,424.62 153.26,425.03 153.93,425.68 154.6,426.54 155.26,427.63 155.93,428.93 156.59,430.43 157.26,432.11 157.92,433.97 158.59,435.98 159.25,438.12 159.92,440.39 160.59,442.76 161.25,445.21 161.92,447.73 162.58,450.3 163.25,452.92 163.91,455.55 164.58,458.19 165.24,460.83 165.91,463.45 166.58,466.04 167.24,468.6 167.91,471.12 168.57,473.58 169.24,475.98 169.9,478.31 170.57,480.57 171.23,482.76 171.9,484.86 172.57,486.89 173.23,488.82 173.9,490.68 174.56,492.44 175.23,494.12 175.89,495.71 176.56,497.21 177.22,498.63 177.89,499.97 178.56,501.22 179.22,502.4 179.89,503.5 180.55,504.52 181.22,505.48 181.88,506.37 182.55,507.2 183.21,507.97 183.88,508.68 184.55,509.33 185.21,509.94 185.88,510.5 186.54,511.02 187.21,511.49 187.87,511.93 188.54,512.34 189.2,512.71 189.87,513.05 190.54,513.37 191.2,513.66 191.87,513.93 192.53,514.18 193.2,514.41 193.86,514.62 194.53,514.82 195.19,515 195.86,515.17 196.53,515.33 197.19,515.48 197.86,515.62 198.52,515.75 199.19,515.88 199.85,515.99 200.52,516.11 201.18,516.21 201.85,516.31 202.52,516.4 203.18,516.5 203.85,516.58 204.51,516.67 205.18,516.75 205.84,516.82 206.51,516.9 207.17,516.97 207.84,517.04 208.51,517.1 209.17,517.17 209.84,517.23 210.5,517.29 211.17,517.35 211.83,517.4 212.5,517.46 213.16,517.51 213.83,517.56 214.5,517.61 215.16,517.66 215.83,517.71 216.49,517.76 217.16,517.8 217.82,517.85 218.49,517.89 219.15,517.93 219.82,517.97 220.49,518.01 221.15,518.05 221.82,518.09 222.48,518.13 223.15,518.16 223.81,518.2 224.48,518.23 225.14,518.27 225.81,518.3 226.48,518.33 227.14,518.37 227.81,518.4 228.47,518.43 229.14,518.46 229.8,518.49 230.47,518.52 231.13,518.54 231.8,518.57" fill="none" stroke="#000" stroke-width="1.0" stroke-linecap="butt" stroke-linejoin="round"/>
<polyline points="32.8,528.69 33.47,528.66 34.13,528.64 34.8,528.61 35.46,528.58 36.13,528.55 36.79,528.52 37.46,528.49 38.12,528.46 38.79,528.42 39.46,528.39 40.12,528.36 40.79,528.32 41.45,528.29 42.12,528.25 42.78,528.21 43.45,528.17 44.11,528.13 44.78,528.09 45.45,528.05 46.11,528.01 46.78,527.96 47.44,527.92 48.11,527.87 48.77,527.82 49.44,527.77 50.1,527.72 50.77,527.67 51.44,527.61 52.1,527.56 52.77,527.5 53.43,527.44 54.1,527.38 54.76,527.31 55.43,527.25 56.09,527.18 56.76,527.11 57.43,527.03 58.09,526.96 58.76,526.88 59.42,526.8 60.09,526.71 60.75,526.63 61.42,526.53 62.08,526.44 62.75,526.34 63.42,526.23 64.08,526.12 64.75,526.01 65.41,525.88 66.08,525.75 66.74,525.62 67.41,525.47 68.07,525.32 68.74,525.16 69.41,524.98 70.07,524.8 70.74,524.6 71.4,524.39 72.07,524.16 72.73,523.91 73.4,523.65 74.06,523.36 74.73,523.05 75.4,522.71 76.06,522.35 76.73,521.96 77.39,521.53 78.06,521.07 78.72,520.57 79.39,520.02 80.05,519.43 80.72,518.79 81.39,518.1 82.05,517.35 82.72,516.53 83.38,515.65 84.05,514.7 84.71,513.68 85.38,512.58 86.04,511.39 86.71,510.12 87.38,508.76 88.04,507.3 88.71,505.74 89.37,504.08 90.04,502.32 90.7,500.45 91.37,498.47 92.03,496.37 92.7,494.17 93.37,491.85 94.03,489.41 94.7,486.87 95.36,484.21 96.03,481.45 96.69,478.59 97.36,475.62 98.02,472.56 98.69,469.41 99.36,466.19 100.02,462.89 100.69,459.54 101.35,456.13 102.02,452.69 102.68,449.23 103.35,445.76 104.01,442.31 104.68,438.89 105.35,435.51 106.01,432.21 106.68,429.01 107.34,425.92 108.01,422.98 108.67,420.2 109.34,417.63 110,415.27 110.67,413.16 111.34,411.32 112,409.77 112.67,408.54 113.33,407.63 114,407.05 114.66,406.83 115.33,406.94 115.99,407.41 116.66,408.21 117.33,409.33 117.99,410.77 118.66,412.5 119.32,414.5 119.99,416.74 120.65,419.2 121.32,421.86 121.98,424.69 122.65,427.66 123.32,430.75 123.98,433.94 124.65,437.19 125.31,440.49 125.98,443.82 126.64,447.17 127.31,450.5 127.97,453.82 128.64,457.09 129.31,460.32 129.97,463.48 130.64,466.58 131.3,469.59 131.97,472.51 132.63,475.34 133.3,478.07 133.96,480.69 134.63,483.21 135.29,485.61 135.96,487.9 136.63,490.08 137.29,492.14 137.96,494.09 138.62,495.93 139.29,497.66 139.95,499.28 140.62,500.8 141.28,502.21 141.95,503.53 142.62,504.75 143.28,505.88 143.95,506.93 144.61,507.89 145.28,508.78 145.94,509.6 146.61,510.34 147.27,511.03 147.94,511.65 148.61,512.22 149.27,512.74 149.94,513.21 150.6,513.64 151.27,514.02 151.93,514.38" fill="none" stroke="#2a2ad0" stroke-width="1.3" stroke-dasharray="5,3" stroke-linecap="butt" stroke-linejoin="round"/>
<polyline points="151.93,514.38 152.6,514.69 153.26,514.98 153.93,515.24 154.6,515.48 155.26,515.69 155.93,515.88 156.59,516.05 157.26,516.21 157.92,516.36 158.59,516.49 159.25,516.61 159.92,516.72 160.59,516.82 161.25,516.91 161.92,516.99 162.58,517.07 163.25,517.15 163.91,517.22 164.58,517.28 165.24,517.34 165.91,517.4 166.58,517.45 167.24,517.51 167.91,517.56 168.57,517.6 169.24,517.65 169.9,517.7 170.57,517.74 171.23,517.78 171.9,517.82 172.57,517.86 173.23,517.9 173.9,517.94 174.56,517.98 175.23,518.01 175.89,518.05 176.56,518.08 177.22,518.12 177.89,518.15 178.56,518.18 179.22,518.22 179.89,518.25 180.55,518.28 181.22,518.31 181.88,518.34 182.55,518.37 183.21,518.4 183.88,518.43 184.55,518.46 185.21,518.49 185.88,518.52 186.54,518.54 187.21,518.57 187.87,518.6 188.54,518.63 189.2,518.65 189.87,518.68 190.54,518.7 191.2,518.73 191.87,518.75 192.53,518.78 193.2,518.8 193.86,518.82 194.53,518.84 195.19,518.87 195.86,518.89 196.53,518.91 197.19,518.93 197.86,518.95 198.52,518.97 199.19,518.99 199.85,519.02 200.52,519.03 201.18,519.05 201.85,519.07 202.52,519.09 203.18,519.11 203.85,519.13 204.51,519.15 205.18,519.16 205.84,519.18 206.51,519.2 207.17,519.22 207.84,519.23 208.51,519.25 209.17,519.26 209.84,519.28 210.5,519.3 211.17,519.31 211.83,519.33 212.5,519.34 213.16,519.35 213.83,519.37 214.5,519.38 215.16,519.4 215.83,519.41 216.49,519.42 217.16,519.44 217.82,519.45 218.49,519.46 219.15,519.47 219.82,519.49 220.49,519.5 221.15,519.51 221.82,519.52 222.48,519.53 223.15,519.54 223.81,519.56 224.48,519.57 225.14,519.58 225.81,519.59 226.48,519.6 227.14,519.61 227.81,519.62 228.47,519.63 229.14,519.64 229.8,519.65 230.47,519.66 231.13,519.67 231.8,519.68" fill="none" stroke="#2a2ad0" stroke-width="1.3" stroke-dasharray="1.5,1.8" stroke-linecap="butt" stroke-linejoin="round"/>
<polyline points="32.8,529.88 33.47,529.88 34.13,529.87 34.8,529.87 35.46,529.86 36.13,529.86 36.79,529.85 37.46,529.84 38.12,529.84 38.79,529.83 39.46,529.82 40.12,529.82 40.79,529.81 41.45,529.8 42.12,529.8 42.78,529.79 43.45,529.78 44.11,529.78 44.78,529.77 45.45,529.76 46.11,529.75 46.78,529.75 47.44,529.74 48.11,529.73 48.77,529.72 49.44,529.71 50.1,529.7 50.77,529.69 51.44,529.69 52.1,529.68 52.77,529.67 53.43,529.66 54.1,529.65 54.76,529.64 55.43,529.63 56.09,529.62 56.76,529.61 57.43,529.59 58.09,529.58 58.76,529.57 59.42,529.56 60.09,529.55 60.75,529.54 61.42,529.52 62.08,529.51 62.75,529.5 63.42,529.48 64.08,529.47 64.75,529.46 65.41,529.44 66.08,529.43 66.74,529.41 67.41,529.4 68.07,529.38 68.74,529.36 69.41,529.35 70.07,529.33 70.74,529.31 71.4,529.29 72.07,529.27 72.73,529.26 73.4,529.24 74.06,529.22 74.73,529.19 75.4,529.17 76.06,529.15 76.73,529.13 77.39,529.11 78.06,529.08 78.72,529.06 79.39,529.03 80.05,529.01 80.72,528.98 81.39,528.95 82.05,528.92 82.72,528.89 83.38,528.86 84.05,528.83 84.71,528.8 85.38,528.76 86.04,528.73 86.71,528.69 87.38,528.66 88.04,528.62 88.71,528.58 89.37,528.54 90.04,528.5 90.7,528.45 91.37,528.41 92.03,528.36 92.7,528.31 93.37,528.26 94.03,528.21 94.7,528.15 95.36,528.09 96.03,528.03 96.69,527.97 97.36,527.91 98.02,527.84 98.69,527.77 99.36,527.7 100.02,527.62 100.69,527.54 101.35,527.45 102.02,527.37 102.68,527.27 103.35,527.17 104.01,527.07 104.68,526.96 105.35,526.84 106.01,526.71 106.68,526.58 107.34,526.44 108.01,526.29 108.67,526.13 109.34,525.95 110,525.76 110.67,525.56 111.34,525.35 112,525.12 112.67,524.86 113.33,524.59 114,524.3 114.66,523.98 115.33,523.63 115.99,523.26 116.66,522.86 117.33,522.42 117.99,521.94 118.66,521.43 119.32,520.87 119.99,520.26 120.65,519.61 121.32,518.91 121.98,518.14 122.65,517.32 123.32,516.44 123.98,515.49 124.65,514.48 125.31,513.39 125.98,512.22 126.64,510.98 127.31,509.65 127.97,508.24 128.64,506.75 129.31,505.17 129.97,503.5 130.64,501.75 131.3,499.9 131.97,497.96 132.63,495.94 133.3,493.83 133.96,491.64 134.63,489.37 135.29,487.02 135.96,484.59 136.63,482.11 137.29,479.56 137.96,476.96 138.62,474.32 139.29,471.64 139.95,468.94 140.62,466.23 141.28,463.51 141.95,460.81 142.62,458.14 143.28,455.51 143.95,452.94 144.61,450.45 145.28,448.05 145.94,445.76 146.61,443.61 147.27,441.6 147.94,439.77 148.61,438.12 149.27,436.68 149.94,435.46 150.6,434.47 151.27,433.72 151.93,433.23 152.6,432.99 153.26,433.02 153.93,433.3 154.6,433.84 155.26,434.62 155.93,435.63 156.59,436.86 157.26,438.3 157.92,439.93 158.59,441.73 159.25,443.68 159.92,445.76 160.59,447.95 161.25,450.25 161.92,452.62 162.58,455.05 163.25,457.52 163.91,460.03 164.58,462.55 165.24,465.07 165.91,467.58 166.58,470.07 167.24,472.53 167.91,474.95 168.57,477.32 169.24,479.63 169.9,481.88 170.57,484.06 171.23,486.17 171.9,488.2 172.57,490.15 173.23,492.02 173.9,493.8 174.56,495.5 175.23,497.12 175.89,498.64 176.56,500.09 177.22,501.45 177.89,502.73 178.56,503.93 179.22,505.05 179.89,506.1 180.55,507.08 181.22,507.99 181.88,508.83 182.55,509.61 183.21,510.34 183.88,511 184.55,511.62 185.21,512.18 185.88,512.7 186.54,513.18 187.21,513.62 187.87,514.02 188.54,514.39 189.2,514.73 189.87,515.04 190.54,515.32 191.2,515.58 191.87,515.82 192.53,516.03 193.2,516.23 193.86,516.42 194.53,516.59 195.19,516.74 195.86,516.89 196.53,517.02 197.19,517.14 197.86,517.26 198.52,517.36 199.19,517.46 199.85,517.56 200.52,517.64 201.18,517.73 201.85,517.8 202.52,517.88 203.18,517.95 203.85,518.01 204.51,518.07 205.18,518.13 205.84,518.19 206.51,518.25 207.17,518.3 207.84,518.35 208.51,518.4 209.17,518.44 209.84,518.49 210.5,518.53 211.17,518.57 211.83,518.61 212.5,518.65 213.16,518.69 213.83,518.73 214.5,518.76 215.16,518.8 215.83,518.83 216.49,518.86 217.16,518.89 217.82,518.92 218.49,518.95 219.15,518.98 219.82,519.01 220.49,519.04 221.15,519.06 221.82,519.09 222.48,519.12 223.15,519.14 223.81,519.16 224.48,519.19 225.14,519.21 225.81,519.23 226.48,519.25 227.14,519.28 227.81,519.3 228.47,519.32 229.14,519.34 229.8,519.36 230.47,519.37 231.13,519.39 231.8,519.41" fill="none" stroke="#2a2ad0" stroke-width="1.3" stroke-dasharray="5,3" stroke-linecap="butt" stroke-linejoin="round"/>
<circle cx="232.3" cy="518.2" r="2.5" fill="#1616cf" stroke="#000040" stroke-width="1.15"/>
<circle cx="227.86" cy="518.2" r="2.5" fill="#1616cf" stroke="#000040" stroke-width="1.15"/>
<circle cx="223.41" cy="518.2" r="2.5" fill="#1616cf" stroke="#000040" stroke-width="1.15"/>
<circle cx="218.97" cy="518" r="2.5" fill="#1616cf" stroke="#000040" stroke-width="1.15"/>
<circle cx="214.52" cy="517.8" r="2.5" fill="#1616cf" stroke="#000040" stroke-width="1.15"/>
<circle cx="210.08" cy="517.5" r="2.5" fill="#1616cf" stroke="#000040" stroke-width="1.15"/>
<circle cx="205.63" cy="517" r="2.5" fill="#1616cf" stroke="#000040" stroke-width="1.15"/>
<circle cx="201.19" cy="516.4" r="2.5" fill="#1616cf" stroke="#000040" stroke-width="1.15"/>
<circle cx="196.74" cy="515.3" r="2.5" fill="#1616cf" stroke="#000040" stroke-width="1.15"/>
<circle cx="192.3" cy="513.9" r="2.5" fill="#1616cf" stroke="#000040" stroke-width="1.15"/>
<circle cx="187.86" cy="511.7" r="2.5" fill="#1616cf" stroke="#000040" stroke-width="1.15"/>
<circle cx="183.41" cy="508.1" r="2.5" fill="#1616cf" stroke="#000040" stroke-width="1.15"/>
<circle cx="178.97" cy="502.1" r="2.5" fill="#1616cf" stroke="#000040" stroke-width="1.15"/>
<circle cx="174.52" cy="492.5" r="2.5" fill="#1616cf" stroke="#000040" stroke-width="1.15"/>
<circle cx="170.08" cy="479" r="2.5" fill="#1616cf" stroke="#000040" stroke-width="1.15"/>
<circle cx="165.63" cy="462.3" r="2.5" fill="#1616cf" stroke="#000040" stroke-width="1.15"/>
<circle cx="161.19" cy="444.8" r="2.5" fill="#1616cf" stroke="#000040" stroke-width="1.15"/>
<circle cx="156.74" cy="430.7" r="2.5" fill="#1616cf" stroke="#000040" stroke-width="1.15"/>
<circle cx="152.3" cy="424.8" r="2.5" fill="#1616cf" stroke="#000040" stroke-width="1.15"/>
<circle cx="147.86" cy="427.7" r="2.5" fill="#1616cf" stroke="#000040" stroke-width="1.15"/>
<circle cx="143.41" cy="436" r="2.5" fill="#1616cf" stroke="#000040" stroke-width="1.15"/>
<circle cx="138.97" cy="444.3" r="2.5" fill="#1616cf" stroke="#000040" stroke-width="1.15"/>
<circle cx="134.52" cy="446.3" r="2.5" fill="#1616cf" stroke="#000040" stroke-width="1.15"/>
<circle cx="130.08" cy="439.7" r="2.5" fill="#1616cf" stroke="#000040" stroke-width="1.15"/>
<circle cx="125.63" cy="426.4" r="2.5" fill="#1616cf" stroke="#000040" stroke-width="1.15"/>
<circle cx="121.19" cy="411.6" r="2.5" fill="#1616cf" stroke="#000040" stroke-width="1.15"/>
<circle cx="116.74" cy="402.6" r="2.5" fill="#1616cf" stroke="#000040" stroke-width="1.15"/>
<circle cx="112.3" cy="405" r="2.5" fill="#1616cf" stroke="#000040" stroke-width="1.15"/>
<circle cx="107.86" cy="419.7" r="2.5" fill="#1616cf" stroke="#000040" stroke-width="1.15"/>
<circle cx="103.41" cy="442.3" r="2.5" fill="#1616cf" stroke="#000040" stroke-width="1.15"/>
<circle cx="98.97" cy="465.4" r="2.5" fill="#1616cf" stroke="#000040" stroke-width="1.15"/>
<circle cx="94.52" cy="486.4" r="2.5" fill="#1616cf" stroke="#000040" stroke-width="1.15"/>
<circle cx="90.08" cy="501" r="2.5" fill="#1616cf" stroke="#000040" stroke-width="1.15"/>
<circle cx="85.63" cy="510.9" r="2.5" fill="#1616cf" stroke="#000040" stroke-width="1.15"/>
<circle cx="81.19" cy="516.4" r="2.5" fill="#1616cf" stroke="#000040" stroke-width="1.15"/>
<circle cx="76.74" cy="520.2" r="2.5" fill="#1616cf" stroke="#000040" stroke-width="1.15"/>
<circle cx="72.3" cy="522.4" r="2.5" fill="#1616cf" stroke="#000040" stroke-width="1.15"/>
<circle cx="67.86" cy="524.1" r="2.5" fill="#1616cf" stroke="#000040" stroke-width="1.15"/>
<circle cx="63.41" cy="525.3" r="2.5" fill="#1616cf" stroke="#000040" stroke-width="1.15"/>
<circle cx="58.97" cy="526.1" r="2.5" fill="#1616cf" stroke="#000040" stroke-width="1.15"/>
<circle cx="54.52" cy="526.6" r="2.5" fill="#1616cf" stroke="#000040" stroke-width="1.15"/>
<circle cx="50.08" cy="527.1" r="2.5" fill="#1616cf" stroke="#000040" stroke-width="1.15"/>
<circle cx="45.63" cy="527.6" r="2.5" fill="#1616cf" stroke="#000040" stroke-width="1.15"/>
<circle cx="41.19" cy="528" r="2.5" fill="#1616cf" stroke="#000040" stroke-width="1.15"/>
<circle cx="36.74" cy="528.2" r="2.5" fill="#1616cf" stroke="#000040" stroke-width="1.15"/>
<circle cx="32.3" cy="528.6" r="2.5" fill="#1616cf" stroke="#000040" stroke-width="1.15"/>
<polyline points="32.8,684.34 33.47,684.32 34.13,684.3 34.8,684.27 35.46,684.25 36.13,684.22 36.79,684.2 37.46,684.17 38.12,684.15 38.79,684.12 39.46,684.1 40.12,684.07 40.79,684.04 41.45,684.01 42.12,683.98 42.78,683.95 43.45,683.92 44.11,683.89 44.78,683.86 45.45,683.82 46.11,683.79 46.78,683.76 47.44,683.72 48.11,683.68 48.77,683.65 49.44,683.61 50.1,683.57 50.77,683.53 51.44,683.49 52.1,683.44 52.77,683.4 53.43,683.36 54.1,683.31 54.76,683.26 55.43,683.22 56.09,683.17 56.76,683.12 57.43,683.06 58.09,683.01 58.76,682.95 59.42,682.9 60.09,682.84 60.75,682.78 61.42,682.72 62.08,682.65 62.75,682.59 63.42,682.52 64.08,682.45 64.75,682.38 65.41,682.3 66.08,682.23 66.74,682.15 67.41,682.07 68.07,681.98 68.74,681.89 69.41,681.8 70.07,681.71 70.74,681.61 71.4,681.51 72.07,681.4 72.73,681.29 73.4,681.17 74.06,681.05 74.73,680.93 75.4,680.79 76.06,680.65 76.73,680.51 77.39,680.35 78.06,680.19 78.72,680.01 79.39,679.83 80.05,679.63 80.72,679.42 81.39,679.19 82.05,678.95 82.72,678.68 83.38,678.4 84.05,678.09 84.71,677.76 85.38,677.4 86.04,677.01 86.71,676.58 87.38,676.11 88.04,675.6 88.71,675.05 89.37,674.44 90.04,673.77 90.7,673.05 91.37,672.26 92.03,671.39 92.7,670.45 93.37,669.42 94.03,668.3 94.7,667.09 95.36,665.77 96.03,664.34 96.69,662.79 97.36,661.13 98.02,659.33 98.69,657.4 99.36,655.34 100.02,653.13 100.69,650.77 101.35,648.26 102.02,645.6 102.68,642.79 103.35,639.82 104.01,636.7 104.68,633.43 105.35,630 106.01,626.44 106.68,622.74 107.34,618.92 108.01,614.97 108.67,610.92 109.34,606.78 110,602.56 110.67,598.28 111.34,593.96 112,589.63 112.67,585.3 113.33,581 114,576.77 114.66,572.62 115.33,568.6 115.99,564.74 116.66,561.07 117.33,557.62 117.99,554.44 118.66,551.57 119.32,549.02 119.99,546.84 120.65,545.05 121.32,543.67 121.98,542.72 122.65,542.21 123.32,542.13 123.98,542.49 124.65,543.27 125.31,544.45 125.98,546 126.64,547.89 127.31,550.08 127.97,552.55 128.64,555.24 129.31,558.12 129.97,561.14 130.64,564.27 131.3,567.46 131.97,570.68 132.63,573.89 133.3,577.06 133.96,580.15 134.63,583.15 135.29,586.01 135.96,588.71 136.63,591.25 137.29,593.58 137.96,595.7 138.62,597.6 139.29,599.25 139.95,600.66 140.62,601.81 141.28,602.69 141.95,603.31 142.62,603.67 143.28,603.77 143.95,603.61 144.61,603.19 145.28,602.54 145.94,601.66 146.61,600.57 147.27,599.27 147.94,597.8 148.61,596.16 149.27,594.39 149.94,592.5 150.6,590.51 151.27,588.46 151.93,586.38 152.6,584.29 153.26,582.22 153.93,580.2 154.6,578.27 155.26,576.46 155.93,574.8 156.59,573.31 157.26,572.03 157.92,570.99 158.59,570.21 159.25,569.7 159.92,569.49 160.59,569.58 161.25,569.98 161.92,570.68 162.58,571.7 163.25,573 163.91,574.59 164.58,576.44 165.24,578.53 165.91,580.84 166.58,583.35 167.24,586.02 167.91,588.85 168.57,591.79 169.24,594.84 169.9,597.95 170.57,601.12 171.23,604.32 171.9,607.53 172.57,610.73 173.23,613.91 173.9,617.05 174.56,620.14 175.23,623.17 175.89,626.12 176.56,628.98 177.22,631.75 177.89,634.42 178.56,636.98 179.22,639.44 179.89,641.78 180.55,644 181.22,646.11 181.88,648.1 182.55,649.98 183.21,651.74 183.88,653.39 184.55,654.93 185.21,656.37 185.88,657.7 186.54,658.94 187.21,660.08 187.87,661.14 188.54,662.11 189.2,663 189.87,663.82 190.54,664.57 191.2,665.26 191.87,665.89 192.53,666.46 193.2,666.98 193.86,667.46 194.53,667.9 195.19,668.29 195.86,668.66 196.53,668.99 197.19,669.29 197.86,669.56 198.52,669.82 199.19,670.05 199.85,670.26 200.52,670.46 201.18,670.64 201.85,670.81 202.52,670.97 203.18,671.11 203.85,671.25 204.51,671.37 205.18,671.49 205.84,671.61 206.51,671.71 207.17,671.81 207.84,671.91 208.51,672 209.17,672.09 209.84,672.17 210.5,672.25 211.17,672.33 211.83,672.4 212.5,672.47 213.16,672.54 213.83,672.6 214.5,672.67 215.16,672.73 215.83,672.79 216.49,672.85 217.16,672.9 217.82,672.96 218.49,673.01 219.15,673.06 219.82,673.11 220.49,673.16 221.15,673.21 221.82,673.25 222.48,673.3 223.15,673.34 223.81,673.38 224.48,673.42 225.14,673.46 225.81,673.5 226.48,673.54 227.14,673.58 227.81,673.62 228.47,673.65 229.14,673.69 229.8,673.72 230.47,673.75 231.13,673.78 231.8,673.82" fill="none" stroke="#2a2ad0" stroke-width="1.1" stroke-linecap="butt" stroke-linejoin="round"/>
<polyline points="32.8,684.72 33.47,684.7 34.13,684.68 34.8,684.66 35.46,684.64 36.13,684.62 36.79,684.6 37.46,684.58 38.12,684.56 38.79,684.54 39.46,684.52 40.12,684.49 40.79,684.47 41.45,684.45 42.12,684.42 42.78,684.4 43.45,684.37 44.11,684.34 44.78,684.32 45.45,684.29 46.11,684.26 46.78,684.23 47.44,684.2 48.11,684.17 48.77,684.14 49.44,684.11 50.1,684.07 50.77,684.04 51.44,684 52.1,683.97 52.77,683.93 53.43,683.89 54.1,683.85 54.76,683.81 55.43,683.77 56.09,683.73 56.76,683.68 57.43,683.64 58.09,683.59 58.76,683.55 59.42,683.5 60.09,683.45 60.75,683.39 61.42,683.34 62.08,683.28 62.75,683.23 63.42,683.17 64.08,683.11 64.75,683.04 65.41,682.98 66.08,682.91 66.74,682.84 67.41,682.77 68.07,682.69 68.74,682.62 69.41,682.54 70.07,682.45 70.74,682.36 71.4,682.27 72.07,682.18 72.73,682.08 73.4,681.97 74.06,681.87 74.73,681.75 75.4,681.63 76.06,681.5 76.73,681.37 77.39,681.23 78.06,681.08 78.72,680.92 79.39,680.75 80.05,680.56 80.72,680.37 81.39,680.16 82.05,679.93 82.72,679.68 83.38,679.41 84.05,679.12 84.71,678.81 85.38,678.47 86.04,678.09 86.71,677.68 87.38,677.23 88.04,676.75 88.71,676.21 89.37,675.62 90.04,674.98 90.7,674.28 91.37,673.51 92.03,672.67 92.7,671.75 93.37,670.74 94.03,669.65 94.7,668.46 95.36,667.17 96.03,665.77 96.69,664.25 97.36,662.61 98.02,660.85 98.69,658.95 99.36,656.92 100.02,654.74 100.69,652.42 101.35,649.95 102.02,647.32 102.68,644.54 103.35,641.62 104.01,638.53 104.68,635.3 105.35,631.93 106.01,628.41 106.68,624.76 107.34,620.98 108.01,617.08 108.67,613.08 109.34,609 110,604.84 110.67,600.62 111.34,596.36 112,592.09 112.67,587.83 113.33,583.61 114,579.45 114.66,575.39 115.33,571.46 115.99,567.69 116.66,564.11 117.33,560.78 117.99,557.72 118.66,554.96 119.32,552.55 119.99,550.52 120.65,548.89 121.32,547.69 121.98,546.93 122.65,546.63 123.32,546.78 123.98,547.4 124.65,548.45 125.31,549.94 125.98,551.83 126.64,554.09 127.31,556.7 127.97,559.62 128.64,562.82 129.31,566.24 129.97,569.87 130.64,573.66 131.3,577.58 131.97,581.6 132.63,585.68 133.3,589.79 133.96,593.92 134.63,598.03 135.29,602.1 135.96,606.12 136.63,610.06 137.29,613.91 137.96,617.66 138.62,621.29 139.29,624.79 139.95,628.16 140.62,631.39 141.28,634.47 141.95,637.4 142.62,640.18 143.28,642.81 143.95,645.28 144.61,647.61 145.28,649.78 145.94,651.81 146.61,653.7 147.27,655.45 147.94,657.07 148.61,658.56 149.27,659.93 149.94,661.2 150.6,662.35 151.27,663.4 151.93,664.36 152.6,665.23 153.26,666.02 153.93,666.73 154.6,667.38 155.26,667.96 155.93,668.48 156.59,668.95" fill="none" stroke="#2a2ad0" stroke-width="1.3" stroke-dasharray="5,3" stroke-linecap="butt" stroke-linejoin="round"/>
<polyline points="156.59,668.95 157.26,669.37 157.92,669.75 158.59,670.09 159.25,670.39 159.92,670.66 160.59,670.91 161.25,671.13 161.92,671.33 162.58,671.5 163.25,671.66 163.91,671.81 164.58,671.94 165.24,672.06 165.91,672.17 166.58,672.27 167.24,672.36 167.91,672.44 168.57,672.52 169.24,672.59 169.9,672.66 170.57,672.73 171.23,672.79 171.9,672.84 172.57,672.9 173.23,672.95 173.9,673 174.56,673.05 175.23,673.1 175.89,673.14 176.56,673.19 177.22,673.23 177.89,673.27 178.56,673.31 179.22,673.35 179.89,673.39 180.55,673.43 181.22,673.46 181.88,673.5 182.55,673.53 183.21,673.57 183.88,673.6 184.55,673.64 185.21,673.67 185.88,673.7 186.54,673.73 187.21,673.76 187.87,673.8 188.54,673.83 189.2,673.86 189.87,673.88 190.54,673.91 191.2,673.94 191.87,673.97 192.53,674 193.2,674.02 193.86,674.05 194.53,674.08 195.19,674.1 195.86,674.13 196.53,674.15 197.19,674.17 197.86,674.2 198.52,674.22 199.19,674.24 199.85,674.27 200.52,674.29 201.18,674.31 201.85,674.33 202.52,674.35 203.18,674.37 203.85,674.39 204.51,674.41 205.18,674.43 205.84,674.45 206.51,674.47 207.17,674.49 207.84,674.51 208.51,674.53 209.17,674.55 209.84,674.56 210.5,674.58 211.17,674.6 211.83,674.61 212.5,674.63 213.16,674.65 213.83,674.66 214.5,674.68 215.16,674.69 215.83,674.71 216.49,674.72 217.16,674.74 217.82,674.75 218.49,674.76 219.15,674.78 219.82,674.79 220.49,674.8 221.15,674.82 221.82,674.83 222.48,674.84 223.15,674.86 223.81,674.87 224.48,674.88 225.14,674.89 225.81,674.9 226.48,674.91 227.14,674.93 227.81,674.94 228.47,674.95 229.14,674.96 229.8,674.97 230.47,674.98 231.13,674.99 231.8,675" fill="none" stroke="#2a2ad0" stroke-width="1.3" stroke-dasharray="1.5,1.8" stroke-linecap="butt" stroke-linejoin="round"/>
<polyline points="32.8,685.6 33.47,685.59 34.13,685.59 34.8,685.58 35.46,685.58 36.13,685.58 36.79,685.57 37.46,685.57 38.12,685.56 38.79,685.56 39.46,685.55 40.12,685.55 40.79,685.54 41.45,685.54 42.12,685.53 42.78,685.53 43.45,685.52 44.11,685.52 44.78,685.51 45.45,685.51 46.11,685.5 46.78,685.5 47.44,685.49 48.11,685.49 48.77,685.48 49.44,685.47 50.1,685.47 50.77,685.46 51.44,685.46 52.1,685.45 52.77,685.44 53.43,685.44 54.1,685.43 54.76,685.42 55.43,685.41 56.09,685.41 56.76,685.4 57.43,685.39 58.09,685.38 58.76,685.38 59.42,685.37 60.09,685.36 60.75,685.35 61.42,685.34 62.08,685.33 62.75,685.33 63.42,685.32 64.08,685.31 64.75,685.3 65.41,685.29 66.08,685.28 66.74,685.27 67.41,685.26 68.07,685.25 68.74,685.23 69.41,685.22 70.07,685.21 70.74,685.2 71.4,685.19 72.07,685.18 72.73,685.16 73.4,685.15 74.06,685.14 74.73,685.12 75.4,685.11 76.06,685.09 76.73,685.08 77.39,685.06 78.06,685.05 78.72,685.03 79.39,685.01 80.05,685 80.72,684.98 81.39,684.96 82.05,684.94 82.72,684.92 83.38,684.9 84.05,684.88 84.71,684.86 85.38,684.84 86.04,684.82 86.71,684.79 87.38,684.77 88.04,684.75 88.71,684.72 89.37,684.69 90.04,684.67 90.7,684.64 91.37,684.61 92.03,684.58 92.7,684.55 93.37,684.52 94.03,684.48 94.7,684.45 95.36,684.42 96.03,684.38 96.69,684.34 97.36,684.3 98.02,684.26 98.69,684.22 99.36,684.17 100.02,684.13 100.69,684.08 101.35,684.03 102.02,683.98 102.68,683.93 103.35,683.87 104.01,683.82 104.68,683.76 105.35,683.7 106.01,683.63 106.68,683.56 107.34,683.49 108.01,683.42 108.67,683.34 109.34,683.26 110,683.18 110.67,683.09 111.34,683 112,682.9 112.67,682.8 113.33,682.69 114,682.58 114.66,682.46 115.33,682.33 115.99,682.2 116.66,682.05 117.33,681.9 117.99,681.74 118.66,681.56 119.32,681.38 119.99,681.17 120.65,680.96 121.32,680.72 121.98,680.47 122.65,680.19 123.32,679.9 123.98,679.57 124.65,679.22 125.31,678.84 125.98,678.42 126.64,677.97 127.31,677.47 127.97,676.93 128.64,676.34 129.31,675.7 129.97,675 130.64,674.23 131.3,673.41 131.97,672.5 132.63,671.53 133.3,670.47 133.96,669.33 134.63,668.09 135.29,666.76 135.96,665.33 136.63,663.8 137.29,662.16 137.96,660.4 138.62,658.54 139.29,656.56 139.95,654.46 140.62,652.24 141.28,649.91 141.95,647.46 142.62,644.9 143.28,642.23 143.95,639.46 144.61,636.58 145.28,633.62 145.94,630.57 146.61,627.44 147.27,624.26 147.94,621.03 148.61,617.76 149.27,614.47 149.94,611.19 150.6,607.92 151.27,604.68 151.93,601.51 152.6,598.42 153.26,595.43 153.93,592.58 154.6,589.89 155.26,587.37 155.93,585.07 156.59,583 157.26,581.19 157.92,579.67 158.59,578.44 159.25,577.52 159.92,576.94 160.59,576.69 161.25,576.77 161.92,577.19 162.58,577.94 163.25,579 163.91,580.36 164.58,582 165.24,583.9 165.91,586.03 166.58,588.37 167.24,590.89 167.91,593.56 168.57,596.37 169.24,599.28 169.9,602.27 170.57,605.32 171.23,608.4 171.9,611.51 172.57,614.61 173.23,617.69 173.9,620.74 174.56,623.74 175.23,626.67 175.89,629.54 176.56,632.32 177.22,635.02 177.89,637.61 178.56,640.1 179.22,642.49 179.89,644.76 180.55,646.92 181.22,648.97 181.88,650.9 182.55,652.72 183.21,654.42 183.88,656.02 184.55,657.5 185.21,658.89 185.88,660.17 186.54,661.36 187.21,662.46 187.87,663.47 188.54,664.39 189.2,665.24 189.87,666.02 190.54,666.73 191.2,667.38 191.87,667.97 192.53,668.5 193.2,668.99 193.86,669.43 194.53,669.83 195.19,670.19 195.86,670.52 196.53,670.82 197.19,671.09 197.86,671.34 198.52,671.56 199.19,671.76 199.85,671.95 200.52,672.12 201.18,672.27 201.85,672.41 202.52,672.54 203.18,672.66 203.85,672.78 204.51,672.88 205.18,672.98 205.84,673.06 206.51,673.15 207.17,673.23 207.84,673.3 208.51,673.37 209.17,673.44 209.84,673.5 210.5,673.56 211.17,673.62 211.83,673.67 212.5,673.73 213.16,673.78 213.83,673.82 214.5,673.87 215.16,673.92 215.83,673.96 216.49,674 217.16,674.04 217.82,674.08 218.49,674.12 219.15,674.15 219.82,674.19 220.49,674.22 221.15,674.26 221.82,674.29 222.48,674.32 223.15,674.35 223.81,674.38 224.48,674.41 225.14,674.44 225.81,674.46 226.48,674.49 227.14,674.51 227.81,674.54 228.47,674.56 229.14,674.59 229.8,674.61 230.47,674.63 231.13,674.65 231.8,674.67" fill="none" stroke="#2a2ad0" stroke-width="1.3" stroke-dasharray="5,3" stroke-linecap="butt" stroke-linejoin="round"/>
<path d="M232.3 669.85L235.65 673.2L232.3 676.55L228.95 673.2Z" fill="#1616cf" stroke="#000040" stroke-width="1.2"/>
<path d="M227.86 669.85L231.21 673.2L227.86 676.55L224.51 673.2Z" fill="#1616cf" stroke="#000040" stroke-width="1.2"/>
<path d="M223.41 669.85L226.76 673.2L223.41 676.55L220.06 673.2Z" fill="#1616cf" stroke="#000040" stroke-width="1.2"/>
<path d="M218.97 669.85L222.32 673.2L218.97 676.55L215.62 673.2Z" fill="#1616cf" stroke="#000040" stroke-width="1.2"/>
<path d="M214.52 669.65L217.87 673L214.52 676.35L211.17 673Z" fill="#1616cf" stroke="#000040" stroke-width="1.2"/>
<path d="M210.08 669.35L213.43 672.7L210.08 676.05L206.73 672.7Z" fill="#1616cf" stroke="#000040" stroke-width="1.2"/>
<path d="M205.63 668.65L208.98 672L205.63 675.35L202.28 672Z" fill="#1616cf" stroke="#000040" stroke-width="1.2"/>
<path d="M201.19 667.75L204.54 671.1L201.19 674.45L197.84 671.1Z" fill="#1616cf" stroke="#000040" stroke-width="1.2"/>
<path d="M196.74 665.75L200.09 669.1L196.74 672.45L193.39 669.1Z" fill="#1616cf" stroke="#000040" stroke-width="1.2"/>
<path d="M192.3 662.65L195.65 666L192.3 669.35L188.95 666Z" fill="#1616cf" stroke="#000040" stroke-width="1.2"/>
<path d="M187.86 657.15L191.21 660.5L187.86 663.85L184.51 660.5Z" fill="#1616cf" stroke="#000040" stroke-width="1.2"/>
<path d="M183.41 648.95L186.76 652.3L183.41 655.65L180.06 652.3Z" fill="#1616cf" stroke="#000040" stroke-width="1.2"/>
<path d="M178.97 635.05L182.32 638.4L178.97 641.75L175.62 638.4Z" fill="#1616cf" stroke="#000040" stroke-width="1.2"/>
<path d="M174.52 616.95L177.87 620.3L174.52 623.65L171.17 620.3Z" fill="#1616cf" stroke="#000040" stroke-width="1.2"/>
<path d="M170.08 595.35L173.43 598.7L170.08 602.05L166.73 598.7Z" fill="#1616cf" stroke="#000040" stroke-width="1.2"/>
<path d="M165.63 576.15L168.98 579.5L165.63 582.85L162.28 579.5Z" fill="#1616cf" stroke="#000040" stroke-width="1.2"/>
<path d="M161.19 567.25L164.54 570.6L161.19 573.95L157.84 570.6Z" fill="#1616cf" stroke="#000040" stroke-width="1.2"/>
<path d="M156.74 569.65L160.09 573L156.74 576.35L153.39 573Z" fill="#1616cf" stroke="#000040" stroke-width="1.2"/>
<path d="M152.3 580.95L155.65 584.3L152.3 587.65L148.95 584.3Z" fill="#1616cf" stroke="#000040" stroke-width="1.2"/>
<path d="M147.86 594.65L151.21 598L147.86 601.35L144.51 598Z" fill="#1616cf" stroke="#000040" stroke-width="1.2"/>
<path d="M143.41 601.35L146.76 604.7L143.41 608.05L140.06 604.7Z" fill="#1616cf" stroke="#000040" stroke-width="1.2"/>
<path d="M138.97 595.35L142.32 598.7L138.97 602.05L135.62 598.7Z" fill="#1616cf" stroke="#000040" stroke-width="1.2"/>
<path d="M134.52 579.25L137.87 582.6L134.52 585.95L131.17 582.6Z" fill="#1616cf" stroke="#000040" stroke-width="1.2"/>
<path d="M130.08 556.85L133.43 560.2L130.08 563.55L126.73 560.2Z" fill="#1616cf" stroke="#000040" stroke-width="1.2"/>
<path d="M125.63 542.55L128.98 545.9L125.63 549.25L122.28 545.9Z" fill="#1616cf" stroke="#000040" stroke-width="1.2"/>
<path d="M121.19 541.65L124.54 545L121.19 548.35L117.84 545Z" fill="#1616cf" stroke="#000040" stroke-width="1.2"/>
<path d="M116.74 556.65L120.09 560L116.74 563.35L113.39 560Z" fill="#1616cf" stroke="#000040" stroke-width="1.2"/>
<path d="M112.3 583.45L115.65 586.8L112.3 590.15L108.95 586.8Z" fill="#1616cf" stroke="#000040" stroke-width="1.2"/>
<path d="M107.86 612.65L111.21 616L107.86 619.35L104.51 616Z" fill="#1616cf" stroke="#000040" stroke-width="1.2"/>
<path d="M103.41 636.95L106.76 640.3L103.41 643.65L100.06 640.3Z" fill="#1616cf" stroke="#000040" stroke-width="1.2"/>
<path d="M98.97 653.45L102.32 656.8L98.97 660.15L95.62 656.8Z" fill="#1616cf" stroke="#000040" stroke-width="1.2"/>
<path d="M94.52 664.45L97.87 667.8L94.52 671.15L91.17 667.8Z" fill="#1616cf" stroke="#000040" stroke-width="1.2"/>
<path d="M90.08 669.85L93.43 673.2L90.08 676.55L86.73 673.2Z" fill="#1616cf" stroke="#000040" stroke-width="1.2"/>
<path d="M85.63 672.95L88.98 676.3L85.63 679.65L82.28 676.3Z" fill="#1616cf" stroke="#000040" stroke-width="1.2"/>
<path d="M81.19 675.25L84.54 678.6L81.19 681.95L77.84 678.6Z" fill="#1616cf" stroke="#000040" stroke-width="1.2"/>
<path d="M76.74 676.95L80.09 680.3L76.74 683.65L73.39 680.3Z" fill="#1616cf" stroke="#000040" stroke-width="1.2"/>
<path d="M72.3 677.85L75.65 681.2L72.3 684.55L68.95 681.2Z" fill="#1616cf" stroke="#000040" stroke-width="1.2"/>
<path d="M67.86 678.55L71.21 681.9L67.86 685.25L64.51 681.9Z" fill="#1616cf" stroke="#000040" stroke-width="1.2"/>
<path d="M63.41 679.25L66.76 682.6L63.41 685.95L60.06 682.6Z" fill="#1616cf" stroke="#000040" stroke-width="1.2"/>
<path d="M58.97 679.55L62.32 682.9L58.97 686.25L55.62 682.9Z" fill="#1616cf" stroke="#000040" stroke-width="1.2"/>
<path d="M54.52 679.95L57.87 683.3L54.52 686.65L51.17 683.3Z" fill="#1616cf" stroke="#000040" stroke-width="1.2"/>
<path d="M50.08 680.35L53.43 683.7L50.08 687.05L46.73 683.7Z" fill="#1616cf" stroke="#000040" stroke-width="1.2"/>
<path d="M45.63 680.75L48.98 684.1L45.63 687.45L42.28 684.1Z" fill="#1616cf" stroke="#000040" stroke-width="1.2"/>
<path d="M41.19 680.95L44.54 684.3L41.19 687.65L37.84 684.3Z" fill="#1616cf" stroke="#000040" stroke-width="1.2"/>
<path d="M36.74 681.25L40.09 684.6L36.74 687.95L33.39 684.6Z" fill="#1616cf" stroke="#000040" stroke-width="1.2"/>
<path d="M32.3 681.55L35.65 684.9L32.3 688.25L28.95 684.9Z" fill="#1616cf" stroke="#000040" stroke-width="1.2"/>
<text transform="translate(66.3,409.4) scale(1,1.12)" font-size="12.0">Hf4f<tspan font-size="8.3" dy="2.9">7/2</tspan></text>
<text transform="translate(66.3,427.7) scale(1,1.12)" font-size="12.0">(HfO<tspan font-size="8.3" dy="2.9">2</tspan><tspan dy="-2.9">)</tspan></text>
<text transform="translate(166.6,432.9) scale(1,1.12)" font-size="12.0">Hf4f<tspan font-size="8.3" dy="2.9">5/2</tspan></text>
<text transform="translate(166.6,452.1) scale(1,1.12)" font-size="12.0">(HfO<tspan font-size="8.3" dy="2.9">2</tspan><tspan dy="-2.9">)</tspan></text>
<rect x="187.4" y="386.9" width="36" height="21.1" fill="#fff" stroke="#444" stroke-width="1"/>
<text transform="translate(189.6,402.9) scale(1,1.0)" font-size="11.2" text-anchor="start" textLength="31.1" lengthAdjust="spacingAndGlyphs">14 nm</text>
<text transform="translate(74.1,567.9) scale(1,1.12)" font-size="12.0">Hf4f<tspan font-size="8.3" dy="2.9">7/2</tspan></text>
<text transform="translate(74.1,587.6) scale(1,1.12)" font-size="12.0">(HfO<tspan font-size="8.3" dy="2.9">2</tspan><tspan dy="-2.9">)</tspan></text>
<text transform="translate(179.5,588.5) scale(1,1.12)" font-size="12.0">Hf4f<tspan font-size="8.3" dy="2.9">5/2</tspan></text>
<text transform="translate(179.4,608.2) scale(1,1.12)" font-size="12.0">(HfO<tspan font-size="8.3" dy="2.9">2</tspan><tspan dy="-2.9">)</tspan></text>
<rect x="177.3" y="542.3" width="36.5" height="20.8" fill="#fff" stroke="#444" stroke-width="1"/>
<text transform="translate(179.6,558.2) scale(1,1.0)" font-size="11.2" text-anchor="start" textLength="31.4" lengthAdjust="spacingAndGlyphs">22 nm</text>
<polyline points="301.7,519.68 302.37,519.66 303.05,519.64 303.72,519.61 304.39,519.59 305.06,519.56 305.74,519.53 306.41,519.5 307.08,519.48 307.76,519.45 308.43,519.42 309.1,519.39 309.77,519.36 310.45,519.33 311.12,519.29 311.79,519.26 312.47,519.23 313.14,519.19 313.81,519.15 314.49,519.12 315.16,519.08 315.83,519.04 316.5,519 317.18,518.96 317.85,518.92 318.52,518.87 319.2,518.83 319.87,518.78 320.54,518.74 321.21,518.69 321.89,518.64 322.56,518.59 323.23,518.53 323.91,518.48 324.58,518.42 325.25,518.36 325.92,518.3 326.6,518.24 327.27,518.17 327.94,518.1 328.62,518.03 329.29,517.96 329.96,517.88 330.64,517.8 331.31,517.72 331.98,517.63 332.65,517.54 333.33,517.44 334,517.34 334.67,517.23 335.35,517.12 336.02,516.99 336.69,516.86 337.36,516.73 338.04,516.58 338.71,516.42 339.38,516.25 340.06,516.07 340.73,515.87 341.4,515.66 342.07,515.43 342.75,515.18 343.42,514.91 344.09,514.61 344.77,514.29 345.44,513.94 346.11,513.56 346.78,513.15 347.46,512.7 348.13,512.21 348.8,511.67 349.48,511.09 350.15,510.46 350.82,509.77 351.5,509.03 352.17,508.22 352.84,507.35 353.51,506.4 354.19,505.38 354.86,504.28 355.53,503.09 356.21,501.82 356.88,500.46 357.55,499 358.22,497.44 358.9,495.78 359.57,494.01 360.24,492.14 360.92,490.16 361.59,488.07 362.26,485.87 362.93,483.56 363.61,481.14 364.28,478.61 364.95,475.98 365.63,473.24 366.3,470.41 366.97,467.49 367.65,464.48 368.32,461.39 368.99,458.23 369.66,455.01 370.34,451.75 371.01,448.45 371.68,445.12 372.36,441.78 373.03,438.46 373.7,435.15 374.37,431.89 375.05,428.68 375.72,425.56 376.39,422.54 377.07,419.65 377.74,416.9 378.41,414.32 379.08,411.93 379.76,409.75 380.43,407.82 381.1,406.13 381.78,404.73 382.45,403.61 383.12,402.79 383.79,402.28 384.47,402.09 385.14,402.21 385.81,402.65 386.49,403.39 387.16,404.43 387.83,405.75 388.51,407.33 389.18,409.15 389.85,411.19 390.52,413.43 391.2,415.85 391.87,418.42 392.54,421.11 393.22,423.91 393.89,426.78 394.56,429.71 395.23,432.67 395.91,435.65 396.58,438.62 397.25,441.56 397.93,444.46 398.6,447.3 399.27,450.07 399.94,452.74 400.62,455.31 401.29,457.77 401.96,460.1 402.64,462.29 403.31,464.34 403.98,466.23 404.66,467.97 405.33,469.53 406,470.93 406.67,472.15 407.35,473.19 408.02,474.06 408.69,474.74 409.37,475.24 410.04,475.56 410.71,475.71 411.38,475.68 412.06,475.47" fill="none" stroke="#000" stroke-width="1.0" stroke-linecap="butt" stroke-linejoin="round"/>
<polyline points="301.7,519.95 302.37,519.93 303.05,519.9 303.72,519.88 304.39,519.86 305.06,519.84 305.74,519.81 306.41,519.79 307.08,519.76 307.76,519.74 308.43,519.71 309.1,519.68 309.77,519.65 310.45,519.63 311.12,519.6 311.79,519.57 312.47,519.54 313.14,519.5 313.81,519.47 314.49,519.44 315.16,519.4 315.83,519.37 316.5,519.33 317.18,519.3 317.85,519.26 318.52,519.22 319.2,519.18 319.87,519.14 320.54,519.09 321.21,519.05 321.89,519 322.56,518.95 323.23,518.91 323.91,518.85 324.58,518.8 325.25,518.75 325.92,518.69 326.6,518.63 327.27,518.57 327.94,518.51 328.62,518.44 329.29,518.38 329.96,518.3 330.64,518.23 331.31,518.15 331.98,518.07 332.65,517.98 333.33,517.89 334,517.79 334.67,517.69 335.35,517.58 336.02,517.47 336.69,517.35 337.36,517.21 338.04,517.07 338.71,516.92 339.38,516.76 340.06,516.58 340.73,516.39 341.4,516.19 342.07,515.96 342.75,515.72 343.42,515.46 344.09,515.17 344.77,514.86 345.44,514.52 346.11,514.15 346.78,513.74 347.46,513.3 348.13,512.82 348.8,512.3 349.48,511.72 350.15,511.1 350.82,510.43 351.5,509.69 352.17,508.89 352.84,508.03 353.51,507.1 354.19,506.09 354.86,505 355.53,503.82 356.21,502.56 356.88,501.21 357.55,499.76 358.22,498.22 358.9,496.57 359.57,494.82 360.24,492.96 360.92,491 361.59,488.92 362.26,486.74 362.93,484.44 363.61,482.04 364.28,479.53 364.95,476.91 365.63,474.19 366.3,471.38 366.97,468.47 367.65,465.48 368.32,462.42 368.99,459.28 369.66,456.08 370.34,452.84 371.01,449.56 371.68,446.26 372.36,442.95 373.03,439.64 373.7,436.36 374.37,433.13 375.05,429.95 375.72,426.86 376.39,423.87 377.07,421 377.74,418.28 378.41,415.74 379.08,413.39 379.76,411.25 380.43,409.35 381.1,407.71 381.78,406.35 382.45,405.28 383.12,404.51 383.79,404.06 384.47,403.92 385.14,404.11 385.81,404.61 386.49,405.42 387.16,406.54 387.83,407.94 388.51,409.61 389.18,411.53 389.85,413.68 390.52,416.04 391.2,418.59 391.87,421.3 392.54,424.15 393.22,427.11 393.89,430.17 394.56,433.31 395.23,436.5 395.91,439.72 396.58,442.97 397.25,446.21 397.93,449.44 398.6,452.64 399.27,455.8 399.94,458.91 400.62,461.96 401.29,464.93 401.96,467.82 402.64,470.62 403.31,473.33 403.98,475.94 404.66,478.45 405.33,480.85 406,483.14 406.67,485.32 407.35,487.4 408.02,489.36 408.69,491.21 409.37,492.96 410.04,494.6 410.71,496.14 411.38,497.57 412.06,498.91 412.73,500.16 413.4,501.31 414.08,502.39 414.75,503.38 415.42,504.29 416.09,505.13 416.77,505.9 417.44,506.61 418.11,507.26 418.79,507.85 419.46,508.39 420.13,508.88 420.81,509.33 421.48,509.73 422.15,510.1 422.82,510.44 423.5,510.74 424.17,511.02 424.84,511.27 425.52,511.5 426.19,511.71 426.86,511.89 427.53,512.07 428.21,512.22 428.88,512.36 429.55,512.49 430.23,512.61 430.9,512.72 431.57,512.82 432.24,512.92 432.92,513 433.59,513.08 434.26,513.16 434.94,513.23 435.61,513.3 436.28,513.36 436.95,513.42 437.63,513.47 438.3,513.53 438.97,513.58 439.65,513.63 440.32,513.67 440.99,513.72 441.67,513.76 442.34,513.8 443.01,513.84 443.68,513.88 444.36,513.92 445.03,513.96 445.7,513.99 446.38,514.03 447.05,514.06 447.72,514.1 448.39,514.13 449.07,514.16 449.74,514.19 450.41,514.22 451.09,514.25 451.76,514.28 452.43,514.31 453.1,514.34 453.78,514.37 454.45,514.39 455.12,514.42 455.8,514.45 456.47,514.47 457.14,514.5 457.82,514.52 458.49,514.54 459.16,514.57 459.83,514.59 460.51,514.61 461.18,514.63 461.85,514.66 462.53,514.68 463.2,514.7 463.87,514.72 464.54,514.74 465.22,514.76 465.89,514.78 466.56,514.8 467.24,514.81 467.91,514.83 468.58,514.85 469.25,514.87 469.93,514.89 470.6,514.9 471.27,514.92 471.95,514.94 472.62,514.95 473.29,514.97 473.96,514.98 474.64,515 475.31,515.01 475.98,515.03 476.66,515.04 477.33,515.05 478,515.07 478.68,515.08 479.35,515.1 480.02,515.11 480.69,515.12 481.37,515.13 482.04,515.15 482.71,515.16 483.39,515.17 484.06,515.18 484.73,515.19 485.4,515.2 486.08,515.22 486.75,515.23 487.42,515.24 488.1,515.25 488.77,515.26 489.44,515.27 490.11,515.28 490.79,515.29 491.46,515.3 492.13,515.31 492.81,515.32 493.48,515.33 494.15,515.34 494.83,515.34 495.5,515.35 496.17,515.36 496.84,515.37 497.52,515.38 498.19,515.39 498.86,515.39 499.54,515.4 500.21,515.41 500.88,515.42 501.55,515.43 502.23,515.43 502.9,515.44" fill="none" stroke="#2f8f2f" stroke-width="1.3" stroke-dasharray="5,3" stroke-linecap="butt" stroke-linejoin="round"/>
<polyline points="301.7,521.02 302.37,521.02 303.05,521.01 303.72,521.01 304.39,521.01 305.06,521.01 305.74,521 306.41,521 307.08,521 307.76,520.99 308.43,520.99 309.1,520.99 309.77,520.98 310.45,520.98 311.12,520.98 311.79,520.97 312.47,520.97 313.14,520.97 313.81,520.96 314.49,520.96 315.16,520.96 315.83,520.95 316.5,520.95 317.18,520.94 317.85,520.94 318.52,520.94 319.2,520.93 319.87,520.93 320.54,520.92 321.21,520.92 321.89,520.91 322.56,520.91 323.23,520.91 323.91,520.9 324.58,520.9 325.25,520.89 325.92,520.89 326.6,520.88 327.27,520.88 327.94,520.87 328.62,520.87 329.29,520.86 329.96,520.85 330.64,520.85 331.31,520.84 331.98,520.84 332.65,520.83 333.33,520.82 334,520.82 334.67,520.81 335.35,520.8 336.02,520.8 336.69,520.79 337.36,520.78 338.04,520.78 338.71,520.77 339.38,520.76 340.06,520.75 340.73,520.74 341.4,520.74 342.07,520.73 342.75,520.72 343.42,520.71 344.09,520.7 344.77,520.69 345.44,520.68 346.11,520.67 346.78,520.66 347.46,520.65 348.13,520.64 348.8,520.63 349.48,520.62 350.15,520.6 350.82,520.59 351.5,520.58 352.17,520.57 352.84,520.55 353.51,520.54 354.19,520.53 354.86,520.51 355.53,520.5 356.21,520.48 356.88,520.47 357.55,520.45 358.22,520.43 358.9,520.41 359.57,520.4 360.24,520.38 360.92,520.36 361.59,520.34 362.26,520.32 362.93,520.3 363.61,520.28 364.28,520.25 364.95,520.23 365.63,520.2 366.3,520.18 366.97,520.15 367.65,520.13 368.32,520.1 368.99,520.07 369.66,520.04 370.34,520.01 371.01,519.97 371.68,519.94 372.36,519.9 373.03,519.87 373.7,519.83 374.37,519.79 375.05,519.75 375.72,519.7 376.39,519.66 377.07,519.61 377.74,519.56 378.41,519.51 379.08,519.46 379.76,519.4 380.43,519.34 381.1,519.28 381.78,519.21 382.45,519.14 383.12,519.06 383.79,518.98 384.47,518.9 385.14,518.81 385.81,518.71 386.49,518.61 387.16,518.5 387.83,518.39 388.51,518.26 389.18,518.13 389.85,517.98 390.52,517.82 391.2,517.65 391.87,517.47 392.54,517.27 393.22,517.05 393.89,516.82 394.56,516.56 395.23,516.29 395.91,515.98 396.58,515.66 397.25,515.3 397.93,514.92" fill="none" stroke="#2f8f2f" stroke-width="1.3" stroke-dasharray="1.5,1.8" stroke-linecap="butt" stroke-linejoin="round"/>
<polyline points="397.93,514.92 398.6,514.5 399.27,514.04 399.94,513.55 400.62,513.01 401.29,512.43 401.96,511.81 402.64,511.13 403.31,510.4 403.98,509.62 404.66,508.78 405.33,507.87 406,506.91 406.67,505.87 407.35,504.77 408.02,503.6 408.69,502.36 409.37,501.04 410.04,499.65 410.71,498.19 411.38,496.65 412.06,495.03 412.73,493.34 413.4,491.58 414.08,489.76 414.75,487.86 415.42,485.9 416.09,483.88 416.77,481.81 417.44,479.69 418.11,477.53 418.79,475.33 419.46,473.11 420.13,470.87 420.81,468.62 421.48,466.38 422.15,464.14 422.82,461.93 423.5,459.76 424.17,457.63 424.84,455.57 425.52,453.59 426.19,451.69 426.86,449.9 427.53,448.23 428.21,446.7 428.88,445.31 429.55,444.08 430.23,443.02 430.9,442.14 431.57,441.46 432.24,440.98 432.92,440.7 433.59,440.62 434.26,440.75 434.94,441.09" fill="none" stroke="#2f8f2f" stroke-width="1.3" stroke-dasharray="5,3" stroke-linecap="butt" stroke-linejoin="round"/>
<circle cx="503.4" cy="514.1" r="2.5" fill="#2a7d2a" stroke="#002000" stroke-width="1.15"/>
<circle cx="499.36" cy="514.1" r="2.5" fill="#2a7d2a" stroke="#002000" stroke-width="1.15"/>
<circle cx="495.31" cy="514.1" r="2.5" fill="#2a7d2a" stroke="#002000" stroke-width="1.15"/>
<circle cx="491.27" cy="514.1" r="2.5" fill="#2a7d2a" stroke="#002000" stroke-width="1.15"/>
<circle cx="487.22" cy="514.1" r="2.5" fill="#2a7d2a" stroke="#002000" stroke-width="1.15"/>
<circle cx="483.18" cy="513.9" r="2.5" fill="#2a7d2a" stroke="#002000" stroke-width="1.15"/>
<circle cx="479.14" cy="513.4" r="2.5" fill="#2a7d2a" stroke="#002000" stroke-width="1.15"/>
<circle cx="475.09" cy="512.2" r="2.5" fill="#2a7d2a" stroke="#002000" stroke-width="1.15"/>
<circle cx="471.05" cy="511" r="2.5" fill="#2a7d2a" stroke="#002000" stroke-width="1.15"/>
<circle cx="467" cy="508.6" r="2.5" fill="#2a7d2a" stroke="#002000" stroke-width="1.15"/>
<circle cx="462.96" cy="504.6" r="2.5" fill="#2a7d2a" stroke="#002000" stroke-width="1.15"/>
<circle cx="458.92" cy="499.3" r="2.5" fill="#2a7d2a" stroke="#002000" stroke-width="1.15"/>
<circle cx="454.87" cy="491.1" r="2.5" fill="#2a7d2a" stroke="#002000" stroke-width="1.15"/>
<circle cx="450.83" cy="480.7" r="2.5" fill="#2a7d2a" stroke="#002000" stroke-width="1.15"/>
<circle cx="446.78" cy="467.9" r="2.5" fill="#2a7d2a" stroke="#002000" stroke-width="1.15"/>
<circle cx="442.74" cy="454.6" r="2.5" fill="#2a7d2a" stroke="#002000" stroke-width="1.15"/>
<circle cx="438.7" cy="443.4" r="2.5" fill="#2a7d2a" stroke="#002000" stroke-width="1.15"/>
<circle cx="434.65" cy="437.5" r="2.5" fill="#2a7d2a" stroke="#002000" stroke-width="1.15"/>
<circle cx="430.61" cy="438.4" r="2.5" fill="#2a7d2a" stroke="#002000" stroke-width="1.15"/>
<circle cx="426.56" cy="445.2" r="2.5" fill="#2a7d2a" stroke="#002000" stroke-width="1.15"/>
<circle cx="422.52" cy="455.5" r="2.5" fill="#2a7d2a" stroke="#002000" stroke-width="1.15"/>
<circle cx="418.48" cy="466" r="2.5" fill="#2a7d2a" stroke="#002000" stroke-width="1.15"/>
<circle cx="414.43" cy="473.5" r="2.5" fill="#2a7d2a" stroke="#002000" stroke-width="1.15"/>
<circle cx="410.39" cy="476.2" r="2.5" fill="#2a7d2a" stroke="#002000" stroke-width="1.15"/>
<circle cx="406.34" cy="472" r="2.5" fill="#2a7d2a" stroke="#002000" stroke-width="1.15"/>
<circle cx="402.3" cy="461" r="2.5" fill="#2a7d2a" stroke="#002000" stroke-width="1.15"/>
<circle cx="398.26" cy="445.6" r="2.5" fill="#2a7d2a" stroke="#002000" stroke-width="1.15"/>
<circle cx="394.21" cy="428.1" r="2.5" fill="#2a7d2a" stroke="#002000" stroke-width="1.15"/>
<circle cx="390.17" cy="411.9" r="2.5" fill="#2a7d2a" stroke="#002000" stroke-width="1.15"/>
<circle cx="386.12" cy="403.3" r="2.5" fill="#2a7d2a" stroke="#002000" stroke-width="1.15"/>
<circle cx="382.08" cy="404.6" r="2.5" fill="#2a7d2a" stroke="#002000" stroke-width="1.15"/>
<circle cx="378.04" cy="415.5" r="2.5" fill="#2a7d2a" stroke="#002000" stroke-width="1.15"/>
<circle cx="373.99" cy="433.4" r="2.5" fill="#2a7d2a" stroke="#002000" stroke-width="1.15"/>
<circle cx="369.95" cy="453.5" r="2.5" fill="#2a7d2a" stroke="#002000" stroke-width="1.15"/>
<circle cx="365.9" cy="472.6" r="2.5" fill="#2a7d2a" stroke="#002000" stroke-width="1.15"/>
<circle cx="361.86" cy="487.4" r="2.5" fill="#2a7d2a" stroke="#002000" stroke-width="1.15"/>
<circle cx="357.82" cy="498.5" r="2.5" fill="#2a7d2a" stroke="#002000" stroke-width="1.15"/>
<circle cx="353.77" cy="505.2" r="2.5" fill="#2a7d2a" stroke="#002000" stroke-width="1.15"/>
<circle cx="349.73" cy="510.8" r="2.5" fill="#2a7d2a" stroke="#002000" stroke-width="1.15"/>
<circle cx="345.68" cy="513.7" r="2.5" fill="#2a7d2a" stroke="#002000" stroke-width="1.15"/>
<circle cx="341.64" cy="515.4" r="2.5" fill="#2a7d2a" stroke="#002000" stroke-width="1.15"/>
<circle cx="337.6" cy="516.5" r="2.5" fill="#2a7d2a" stroke="#002000" stroke-width="1.15"/>
<circle cx="333.55" cy="517.5" r="2.5" fill="#2a7d2a" stroke="#002000" stroke-width="1.15"/>
<circle cx="329.51" cy="518" r="2.5" fill="#2a7d2a" stroke="#002000" stroke-width="1.15"/>
<circle cx="325.46" cy="518.5" r="2.5" fill="#2a7d2a" stroke="#002000" stroke-width="1.15"/>
<circle cx="321.42" cy="518.8" r="2.5" fill="#2a7d2a" stroke="#002000" stroke-width="1.15"/>
<circle cx="317.38" cy="519.1" r="2.5" fill="#2a7d2a" stroke="#002000" stroke-width="1.15"/>
<circle cx="313.33" cy="519.2" r="2.5" fill="#2a7d2a" stroke="#002000" stroke-width="1.15"/>
<circle cx="309.29" cy="519.4" r="2.5" fill="#2a7d2a" stroke="#002000" stroke-width="1.15"/>
<circle cx="305.24" cy="519.6" r="2.5" fill="#2a7d2a" stroke="#002000" stroke-width="1.15"/>
<circle cx="301.2" cy="519.8" r="2.5" fill="#2a7d2a" stroke="#002000" stroke-width="1.15"/>
<polyline points="301.7,674.43 302.37,674.41 303.05,674.39 303.72,674.36 304.39,674.34 305.06,674.32 305.74,674.29 306.41,674.27 307.08,674.24 307.76,674.22 308.43,674.19 309.1,674.17 309.77,674.14 310.45,674.11 311.12,674.08 311.79,674.05 312.47,674.02 313.14,673.99 313.81,673.96 314.49,673.93 315.16,673.9 315.83,673.86 316.5,673.83 317.18,673.79 317.85,673.75 318.52,673.72 319.2,673.68 319.87,673.64 320.54,673.6 321.21,673.56 321.89,673.52 322.56,673.47 323.23,673.43 323.91,673.38 324.58,673.33 325.25,673.28 325.92,673.23 326.6,673.18 327.27,673.13 327.94,673.07 328.62,673.02 329.29,672.96 329.96,672.9 330.64,672.84 331.31,672.77 331.98,672.71 332.65,672.64 333.33,672.57 334,672.5 334.67,672.42 335.35,672.35 336.02,672.27 336.69,672.18 337.36,672.1 338.04,672.01 338.71,671.92 339.38,671.82 340.06,671.72 340.73,671.61 341.4,671.5 342.07,671.39 342.75,671.27 343.42,671.14 344.09,671.01 344.77,670.87 345.44,670.72 346.11,670.56 346.78,670.4 347.46,670.22 348.13,670.03 348.8,669.83 349.48,669.61 350.15,669.38 350.82,669.12 351.5,668.85 352.17,668.56 352.84,668.24 353.51,667.89 354.19,667.51 354.86,667.1 355.53,666.65 356.21,666.16 356.88,665.62 357.55,665.04 358.22,664.4 358.9,663.7 359.57,662.94 360.24,662.11 360.92,661.2 361.59,660.21 362.26,659.14 362.93,657.97 363.61,656.7 364.28,655.33 364.95,653.85 365.63,652.26 366.3,650.54 366.97,648.69 367.65,646.71 368.32,644.6 368.99,642.35 369.66,639.96 370.34,637.42 371.01,634.73 371.68,631.91 372.36,628.93 373.03,625.82 373.7,622.56 374.37,619.18 375.05,615.66 375.72,612.03 376.39,608.29 377.07,604.45 377.74,600.52 378.41,596.53 379.08,592.48 379.76,588.4 380.43,584.31 381.1,580.23 381.78,576.18 382.45,572.21 383.12,568.32 383.79,564.56 384.47,560.97 385.14,557.56 385.81,554.39 386.49,551.48 387.16,548.88 387.83,546.61 388.51,544.7 389.18,543.18 389.85,542.08 390.52,541.4 391.2,541.17 391.87,541.37 392.54,542.01 393.22,543.08 393.89,544.55 394.56,546.4 395.23,548.6 395.91,551.13 396.58,553.94 397.25,557 397.93,560.28 398.6,563.73 399.27,567.33 399.94,571.03 400.62,574.8 401.29,578.62 401.96,582.45 402.64,586.27 403.31,590.05 403.98,593.77 404.66,597.41 405.33,600.94 406,604.36 406.67,607.64 407.35,610.77 408.02,613.74 408.69,616.54 409.37,619.15 410.04,621.56 410.71,623.78 411.38,625.79 412.06,627.6 412.73,629.18 413.4,630.55 414.08,631.7 414.75,632.62 415.42,633.33 416.09,633.81 416.77,634.08 417.44,634.13 418.11,633.97 418.79,633.6" fill="none" stroke="#000" stroke-width="1.0" stroke-linecap="butt" stroke-linejoin="round"/>
<polyline points="301.7,674.65 302.37,674.63 303.05,674.61 303.72,674.59 304.39,674.57 305.06,674.55 305.74,674.53 306.41,674.51 307.08,674.48 307.76,674.46 308.43,674.44 309.1,674.41 309.77,674.39 310.45,674.36 311.12,674.34 311.79,674.31 312.47,674.28 313.14,674.25 313.81,674.23 314.49,674.2 315.16,674.17 315.83,674.13 316.5,674.1 317.18,674.07 317.85,674.04 318.52,674 319.2,673.97 319.87,673.93 320.54,673.89 321.21,673.86 321.89,673.82 322.56,673.78 323.23,673.73 323.91,673.69 324.58,673.65 325.25,673.6 325.92,673.56 326.6,673.51 327.27,673.46 327.94,673.41 328.62,673.36 329.29,673.3 329.96,673.25 330.64,673.19 331.31,673.13 331.98,673.07 332.65,673 333.33,672.94 334,672.87 334.67,672.8 335.35,672.73 336.02,672.65 336.69,672.58 337.36,672.49 338.04,672.41 338.71,672.32 339.38,672.23 340.06,672.14 340.73,672.04 341.4,671.93 342.07,671.82 342.75,671.71 343.42,671.59 344.09,671.46 344.77,671.33 345.44,671.19 346.11,671.04 346.78,670.88 347.46,670.71 348.13,670.52 348.8,670.33 349.48,670.12 350.15,669.89 350.82,669.65 351.5,669.38 352.17,669.1 352.84,668.78 353.51,668.44 354.19,668.07 354.86,667.67 355.53,667.23 356.21,666.75 356.88,666.22 357.55,665.65 358.22,665.02 358.9,664.33 359.57,663.58 360.24,662.76 360.92,661.86 361.59,660.88 362.26,659.82 362.93,658.66 363.61,657.41 364.28,656.05 364.95,654.58 365.63,653 366.3,651.29 366.97,649.46 367.65,647.5 368.32,645.4 368.99,643.16 369.66,640.78 370.34,638.26 371.01,635.59 371.68,632.78 372.36,629.82 373.03,626.72 373.7,623.49 374.37,620.12 375.05,616.62 375.72,613.01 376.39,609.29 377.07,605.47 377.74,601.56 378.41,597.59 379.08,593.57 379.76,589.51 380.43,585.44 381.1,581.39 381.78,577.37 382.45,573.42 383.12,569.56 383.79,565.83 384.47,562.26 385.14,558.89 385.81,555.75 386.49,552.88 387.16,550.3 387.83,548.07 388.51,546.2 389.18,544.72 389.85,543.66 390.52,543.03 391.2,542.84 391.87,543.09 392.54,543.78 393.22,544.9 393.89,546.43 394.56,548.35 395.23,550.62 395.91,553.22 396.58,556.11 397.25,559.26 397.93,562.63 398.6,566.19 399.27,569.89 399.94,573.72 400.62,577.63 401.29,581.6 401.96,585.6 402.64,589.6 403.31,593.59 403.98,597.54 404.66,601.43 405.33,605.24 406,608.97 406.67,612.6 407.35,616.11 408.02,619.5 408.69,622.77 409.37,625.89 410.04,628.88 410.71,631.72 411.38,634.42 412.06,636.97 412.73,639.38 413.4,641.64 414.08,643.77 414.75,645.75 415.42,647.6 416.09,649.32 416.77,650.91 417.44,652.39 418.11,653.74 418.79,655 419.46,656.14 420.13,657.2 420.81,658.16 421.48,659.04 422.15,659.83 422.82,660.56 423.5,661.22 424.17,661.82 424.84,662.36 425.52,662.85 426.19,663.3 426.86,663.7 427.53,664.06 428.21,664.39 428.88,664.69 429.55,664.95 430.23,665.2 430.9,665.42 431.57,665.62 432.24,665.8 432.92,665.97 433.59,666.12 434.26,666.26 434.94,666.39 435.61,666.51 436.28,666.62 436.95,666.73 437.63,666.82 438.3,666.92 438.97,667 439.65,667.08 440.32,667.16 440.99,667.23 441.67,667.3 442.34,667.36 443.01,667.43 443.68,667.49 444.36,667.54 445.03,667.6 445.7,667.65 446.38,667.71 447.05,667.76 447.72,667.81 448.39,667.85 449.07,667.9 449.74,667.95 450.41,667.99 451.09,668.03 451.76,668.08 452.43,668.12 453.1,668.16 453.78,668.2 454.45,668.23 455.12,668.27 455.8,668.31 456.47,668.34 457.14,668.38 457.82,668.41 458.49,668.45 459.16,668.48 459.83,668.51 460.51,668.54 461.18,668.57 461.85,668.6 462.53,668.63 463.2,668.66 463.87,668.69 464.54,668.72 465.22,668.74 465.89,668.77 466.56,668.8 467.24,668.82 467.91,668.85 468.58,668.87 469.25,668.9 469.93,668.92 470.6,668.94 471.27,668.97 471.95,668.99 472.62,669.01 473.29,669.03 473.96,669.05 474.64,669.08 475.31,669.1 475.98,669.12 476.66,669.14 477.33,669.15 478,669.17 478.68,669.19 479.35,669.21 480.02,669.23 480.69,669.25 481.37,669.26 482.04,669.28 482.71,669.3 483.39,669.31 484.06,669.33 484.73,669.34 485.4,669.36 486.08,669.37 486.75,669.39 487.42,669.4 488.1,669.42 488.77,669.43 489.44,669.45 490.11,669.46 490.79,669.47 491.46,669.49 492.13,669.5 492.81,669.51 493.48,669.52 494.15,669.54 494.83,669.55 495.5,669.56 496.17,669.57 496.84,669.58 497.52,669.59 498.19,669.61 498.86,669.62 499.54,669.63 500.21,669.64 500.88,669.65 501.55,669.66 502.23,669.67 502.9,669.68" fill="none" stroke="#2f8f2f" stroke-width="1.3" stroke-dasharray="5,3" stroke-linecap="butt" stroke-linejoin="round"/>
<polyline points="301.7,675.73 302.37,675.73 303.05,675.73 303.72,675.73 304.39,675.72 305.06,675.72 305.74,675.72 306.41,675.72 307.08,675.71 307.76,675.71 308.43,675.71 309.1,675.71 309.77,675.7 310.45,675.7 311.12,675.7 311.79,675.7 312.47,675.69 313.14,675.69 313.81,675.69 314.49,675.69 315.16,675.68 315.83,675.68 316.5,675.68 317.18,675.67 317.85,675.67 318.52,675.67 319.2,675.66 319.87,675.66 320.54,675.66 321.21,675.65 321.89,675.65 322.56,675.65 323.23,675.64 323.91,675.64 324.58,675.64 325.25,675.63 325.92,675.63 326.6,675.62 327.27,675.62 327.94,675.62 328.62,675.61 329.29,675.61 329.96,675.6 330.64,675.6 331.31,675.59 331.98,675.59 332.65,675.59 333.33,675.58 334,675.58 334.67,675.57 335.35,675.57 336.02,675.56 336.69,675.56 337.36,675.55 338.04,675.54 338.71,675.54 339.38,675.53 340.06,675.53 340.73,675.52 341.4,675.51 342.07,675.51 342.75,675.5 343.42,675.5 344.09,675.49 344.77,675.48 345.44,675.47 346.11,675.47 346.78,675.46 347.46,675.45 348.13,675.44 348.8,675.44 349.48,675.43 350.15,675.42 350.82,675.41 351.5,675.4 352.17,675.39 352.84,675.38 353.51,675.37 354.19,675.36 354.86,675.35 355.53,675.34 356.21,675.33 356.88,675.32 357.55,675.31 358.22,675.3 358.9,675.29 359.57,675.27 360.24,675.26 360.92,675.25 361.59,675.23 362.26,675.22 362.93,675.21 363.61,675.19 364.28,675.18 364.95,675.16 365.63,675.14 366.3,675.13 366.97,675.11 367.65,675.09 368.32,675.07 368.99,675.05 369.66,675.03 370.34,675.01 371.01,674.99 371.68,674.97 372.36,674.94 373.03,674.92 373.7,674.9 374.37,674.87 375.05,674.84 375.72,674.82 376.39,674.79 377.07,674.76 377.74,674.73 378.41,674.7 379.08,674.66 379.76,674.63 380.43,674.59 381.1,674.55 381.78,674.52 382.45,674.48 383.12,674.43 383.79,674.39 384.47,674.34 385.14,674.3 385.81,674.25 386.49,674.2 387.16,674.14 387.83,674.08 388.51,674.03 389.18,673.96 389.85,673.9 390.52,673.83 391.2,673.76 391.87,673.68 392.54,673.6 393.22,673.52 393.89,673.43 394.56,673.33 395.23,673.23 395.91,673.12 396.58,673 397.25,672.88 397.93,672.74 398.6,672.6 399.27,672.44 399.94,672.27 400.62,672.09 401.29,671.89 401.96,671.67 402.64,671.44 403.31,671.18 403.98,670.9 404.66,670.59 405.33,670.25 406,669.88 406.67,669.47 407.35,669.03 408.02,668.54" fill="none" stroke="#2f8f2f" stroke-width="1.3" stroke-dasharray="1.5,1.8" stroke-linecap="butt" stroke-linejoin="round"/>
<polyline points="408.02,668.54 408.69,668.01 409.37,667.43 410.04,666.79 410.71,666.1 411.38,665.34 412.06,664.52 412.73,663.62 413.4,662.65 414.08,661.6 414.75,660.47 415.42,659.25 416.09,657.95 416.77,656.54 417.44,655.05 418.11,653.45 418.79,651.75 419.46,649.96 420.13,648.06 420.81,646.06 421.48,643.97 422.15,641.78 422.82,639.49 423.5,637.12 424.17,634.67 424.84,632.15 425.52,629.55 426.19,626.91 426.86,624.21 427.53,621.48 428.21,618.73 428.88,615.98 429.55,613.23 430.23,610.51 430.9,607.83 431.57,605.21 432.24,602.68 432.92,600.24 433.59,597.93 434.26,595.76 434.94,593.76 435.61,591.94 436.28,590.32 436.95,588.93 437.63,587.78 438.3,586.88 438.97,586.25 439.65,585.89 440.32,585.8 440.99,586 441.67,586.47" fill="none" stroke="#2f8f2f" stroke-width="1.3" stroke-dasharray="5,3" stroke-linecap="butt" stroke-linejoin="round"/>
<path d="M503.4 665.15L506.75 668.5L503.4 671.85L500.05 668.5Z" fill="#2a7d2a" stroke="#002000" stroke-width="1.2"/>
<path d="M499.36 665.05L502.71 668.4L499.36 671.75L496.01 668.4Z" fill="#2a7d2a" stroke="#002000" stroke-width="1.2"/>
<path d="M495.31 664.85L498.66 668.2L495.31 671.55L491.96 668.2Z" fill="#2a7d2a" stroke="#002000" stroke-width="1.2"/>
<path d="M491.27 664.65L494.62 668L491.27 671.35L487.92 668Z" fill="#2a7d2a" stroke="#002000" stroke-width="1.2"/>
<path d="M487.22 664.35L490.57 667.7L487.22 671.05L483.87 667.7Z" fill="#2a7d2a" stroke="#002000" stroke-width="1.2"/>
<path d="M483.18 663.85L486.53 667.2L483.18 670.55L479.83 667.2Z" fill="#2a7d2a" stroke="#002000" stroke-width="1.2"/>
<path d="M479.14 662.95L482.49 666.3L479.14 669.65L475.79 666.3Z" fill="#2a7d2a" stroke="#002000" stroke-width="1.2"/>
<path d="M475.09 661.45L478.44 664.8L475.09 668.15L471.74 664.8Z" fill="#2a7d2a" stroke="#002000" stroke-width="1.2"/>
<path d="M471.05 659.05L474.4 662.4L471.05 665.75L467.7 662.4Z" fill="#2a7d2a" stroke="#002000" stroke-width="1.2"/>
<path d="M467 654.75L470.35 658.1L467 661.45L463.65 658.1Z" fill="#2a7d2a" stroke="#002000" stroke-width="1.2"/>
<path d="M462.96 647.55L466.31 650.9L462.96 654.25L459.61 650.9Z" fill="#2a7d2a" stroke="#002000" stroke-width="1.2"/>
<path d="M458.92 636.95L462.27 640.3L458.92 643.65L455.57 640.3Z" fill="#2a7d2a" stroke="#002000" stroke-width="1.2"/>
<path d="M454.87 622.55L458.22 625.9L454.87 629.25L451.52 625.9Z" fill="#2a7d2a" stroke="#002000" stroke-width="1.2"/>
<path d="M450.83 606.65L454.18 610L450.83 613.35L447.48 610Z" fill="#2a7d2a" stroke="#002000" stroke-width="1.2"/>
<path d="M446.78 591.25L450.13 594.6L446.78 597.95L443.43 594.6Z" fill="#2a7d2a" stroke="#002000" stroke-width="1.2"/>
<path d="M442.74 580.95L446.09 584.3L442.74 587.65L439.39 584.3Z" fill="#2a7d2a" stroke="#002000" stroke-width="1.2"/>
<path d="M438.7 578.55L442.05 581.9L438.7 585.25L435.35 581.9Z" fill="#2a7d2a" stroke="#002000" stroke-width="1.2"/>
<path d="M434.65 585.75L438 589.1L434.65 592.45L431.3 589.1Z" fill="#2a7d2a" stroke="#002000" stroke-width="1.2"/>
<path d="M430.61 599.45L433.96 602.8L430.61 606.15L427.26 602.8Z" fill="#2a7d2a" stroke="#002000" stroke-width="1.2"/>
<path d="M426.56 613.35L429.91 616.7L426.56 620.05L423.21 616.7Z" fill="#2a7d2a" stroke="#002000" stroke-width="1.2"/>
<path d="M422.52 624.15L425.87 627.5L422.52 630.85L419.17 627.5Z" fill="#2a7d2a" stroke="#002000" stroke-width="1.2"/>
<path d="M418.48 630.65L421.83 634L418.48 637.35L415.13 634Z" fill="#2a7d2a" stroke="#002000" stroke-width="1.2"/>
<path d="M414.43 629.05L417.78 632.4L414.43 635.75L411.08 632.4Z" fill="#2a7d2a" stroke="#002000" stroke-width="1.2"/>
<path d="M410.39 619.35L413.74 622.7L410.39 626.05L407.04 622.7Z" fill="#2a7d2a" stroke="#002000" stroke-width="1.2"/>
<path d="M406.34 603.25L409.69 606.6L406.34 609.95L402.99 606.6Z" fill="#2a7d2a" stroke="#002000" stroke-width="1.2"/>
<path d="M402.3 580.25L405.65 583.6L402.3 586.95L398.95 583.6Z" fill="#2a7d2a" stroke="#002000" stroke-width="1.2"/>
<path d="M398.26 558.15L401.61 561.5L398.26 564.85L394.91 561.5Z" fill="#2a7d2a" stroke="#002000" stroke-width="1.2"/>
<path d="M394.21 542.45L397.56 545.8L394.21 549.15L390.86 545.8Z" fill="#2a7d2a" stroke="#002000" stroke-width="1.2"/>
<path d="M390.17 539.35L393.52 542.7L390.17 546.05L386.82 542.7Z" fill="#2a7d2a" stroke="#002000" stroke-width="1.2"/>
<path d="M386.12 549.45L389.47 552.8L386.12 556.15L382.77 552.8Z" fill="#2a7d2a" stroke="#002000" stroke-width="1.2"/>
<path d="M382.08 569.95L385.43 573.3L382.08 576.65L378.73 573.3Z" fill="#2a7d2a" stroke="#002000" stroke-width="1.2"/>
<path d="M378.04 595.25L381.39 598.6L378.04 601.95L374.69 598.6Z" fill="#2a7d2a" stroke="#002000" stroke-width="1.2"/>
<path d="M373.99 618.15L377.34 621.5L373.99 624.85L370.64 621.5Z" fill="#2a7d2a" stroke="#002000" stroke-width="1.2"/>
<path d="M369.95 635.95L373.3 639.3L369.95 642.65L366.6 639.3Z" fill="#2a7d2a" stroke="#002000" stroke-width="1.2"/>
<path d="M365.9 649.05L369.25 652.4L365.9 655.75L362.55 652.4Z" fill="#2a7d2a" stroke="#002000" stroke-width="1.2"/>
<path d="M361.86 656.65L365.21 660L361.86 663.35L358.51 660Z" fill="#2a7d2a" stroke="#002000" stroke-width="1.2"/>
<path d="M357.82 661.25L361.17 664.6L357.82 667.95L354.47 664.6Z" fill="#2a7d2a" stroke="#002000" stroke-width="1.2"/>
<path d="M353.77 663.85L357.12 667.2L353.77 670.55L350.42 667.2Z" fill="#2a7d2a" stroke="#002000" stroke-width="1.2"/>
<path d="M349.73 665.05L353.08 668.4L349.73 671.75L346.38 668.4Z" fill="#2a7d2a" stroke="#002000" stroke-width="1.2"/>
<path d="M345.68 666.15L349.03 669.5L345.68 672.85L342.33 669.5Z" fill="#2a7d2a" stroke="#002000" stroke-width="1.2"/>
<path d="M341.64 667.55L344.99 670.9L341.64 674.25L338.29 670.9Z" fill="#2a7d2a" stroke="#002000" stroke-width="1.2"/>
<path d="M337.6 668.55L340.95 671.9L337.6 675.25L334.25 671.9Z" fill="#2a7d2a" stroke="#002000" stroke-width="1.2"/>
<path d="M333.55 669.25L336.9 672.6L333.55 675.95L330.2 672.6Z" fill="#2a7d2a" stroke="#002000" stroke-width="1.2"/>
<path d="M329.51 669.85L332.86 673.2L329.51 676.55L326.16 673.2Z" fill="#2a7d2a" stroke="#002000" stroke-width="1.2"/>
<path d="M325.46 670.25L328.81 673.6L325.46 676.95L322.11 673.6Z" fill="#2a7d2a" stroke="#002000" stroke-width="1.2"/>
<path d="M321.42 670.55L324.77 673.9L321.42 677.25L318.07 673.9Z" fill="#2a7d2a" stroke="#002000" stroke-width="1.2"/>
<path d="M317.38 670.85L320.73 674.2L317.38 677.55L314.03 674.2Z" fill="#2a7d2a" stroke="#002000" stroke-width="1.2"/>
<path d="M313.33 671.05L316.68 674.4L313.33 677.75L309.98 674.4Z" fill="#2a7d2a" stroke="#002000" stroke-width="1.2"/>
<path d="M309.29 671.15L312.64 674.5L309.29 677.85L305.94 674.5Z" fill="#2a7d2a" stroke="#002000" stroke-width="1.2"/>
<path d="M305.24 671.25L308.59 674.6L305.24 677.95L301.89 674.6Z" fill="#2a7d2a" stroke="#002000" stroke-width="1.2"/>
<path d="M301.2 671.25L304.55 674.6L301.2 677.95L297.85 674.6Z" fill="#2a7d2a" stroke="#002000" stroke-width="1.2"/>
<text transform="translate(340.2,410.6) scale(1,1.1)" font-size="10.2">Zr<tspan font-size="7.6" dy="2.4">3d5/2</tspan></text>
<text transform="translate(340.2,425.9) scale(1,1.1)" font-size="10.2">(ZrO<tspan font-size="7.6" dy="2.4">2</tspan><tspan dy="-2.4">)</tspan></text>
<text transform="translate(446.2,430.8) scale(1,1.1)" font-size="10.2">Zr<tspan font-size="7.6" dy="2.4">3d3/2</tspan></text>
<text transform="translate(446.2,446.4) scale(1,1.1)" font-size="10.2">(ZrO<tspan font-size="7.6" dy="2.4">2</tspan><tspan dy="-2.4">)</tspan></text>
<rect x="460.5" y="388.5" width="34.5" height="19.1" fill="#fff" stroke="#444" stroke-width="1"/>
<text transform="translate(462.7,403.4) scale(1,1.0)" font-size="11.2" text-anchor="start" textLength="29.6" lengthAdjust="spacingAndGlyphs">14 nm</text>
<text transform="translate(350.7,558.5) scale(1,1.1)" font-size="10.2">Zr<tspan font-size="7.6" dy="2.4">3d5/2</tspan></text>
<text transform="translate(350.8,574.3) scale(1,1.1)" font-size="10.2">(ZrO<tspan font-size="7.6" dy="2.4">2</tspan><tspan dy="-2.4">)</tspan></text>
<text transform="translate(453.9,583.7) scale(1,1.1)" font-size="10.2">Zr<tspan font-size="7.6" dy="2.4">3d3/2</tspan></text>
<text transform="translate(453.9,599.4) scale(1,1.1)" font-size="10.2">(ZrO<tspan font-size="7.6" dy="2.4">2</tspan><tspan dy="-2.4">)</tspan></text>
<rect x="459.5" y="541.5" width="35.3" height="16" fill="#fff" stroke="#444" stroke-width="1"/>
<text transform="translate(461,553) scale(1,1.0)" font-size="11.2" text-anchor="start" textLength="31.8" lengthAdjust="spacingAndGlyphs">22 nm</text>
</svg>
</body></html>
